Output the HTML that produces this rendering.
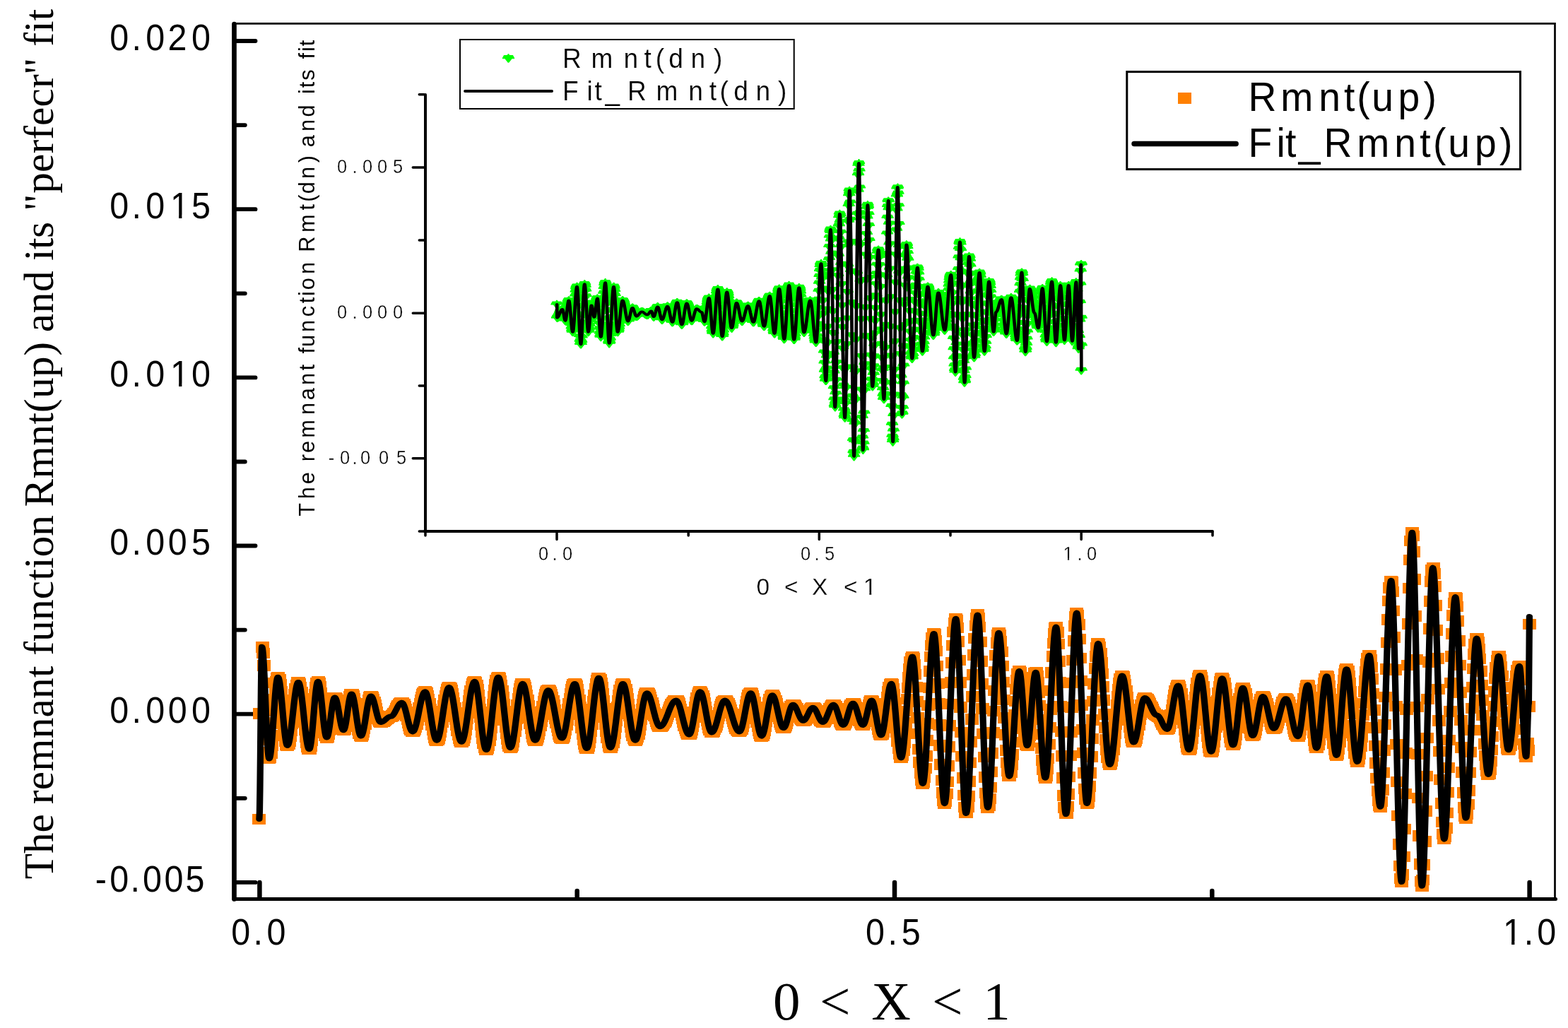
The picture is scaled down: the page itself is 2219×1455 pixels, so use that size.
<!DOCTYPE html>
<html lang="en"><head><meta charset="utf-8"><title>Remnant function Rmnt(up) and its fit</title>
<style>html,body{margin:0;padding:0;background:#fff}svg{display:block}text{fill:#000;font-kerning:none;white-space:pre}</style></head><body>
<svg width="2219" height="1455" viewBox="0 0 2219 1455" role="img" aria-label="Remnant function plot">
<rect width="2219" height="1455" fill="#fff"/>
<defs>
<marker id="mo" markerUnits="userSpaceOnUse" markerWidth="20" markerHeight="16" refX="9.5" refY="7.75" overflow="visible"><rect width="19" height="15.5" fill="#ff8000" shape-rendering="crispEdges"/></marker>
<marker id="mg" markerUnits="userSpaceOnUse" markerWidth="20" markerHeight="16" refX="0" refY="0" overflow="visible"><path d="M-0.8,-6.1H0.8L1.6,-4.3H6.4L8.6,-0.4V0.8H5L0.7,6.4H-0.7L-5,0.8H-8.6V-0.4L-6.4,-4.3H-1.6Z" fill="#00ff00"/></marker>
</defs>
<g id="main-axes" stroke="#000" fill="none" stroke-linecap="round">
<path d="M331.7,33.4 H2200.5 V1272.5" stroke-width="2.7" stroke-linecap="butt"/>
<path d="M331.45,34 V1272.5" stroke-width="6.7"/>
<path d="M331,1272.5 H2201.5" stroke-width="5"/>
<path d="M334,58 H361.5 M334,296.2 H361.5 M334,534.4 H361.5 M334,772.5 H361.5 M334,1010.7 H361.5 M334,1248.9 H361.5 M334,177.1 H346.8 M334,415.3 H346.8 M334,653.5 H346.8 M334,891.6 H346.8 M334,1129.8 H346.8" stroke-width="5.8"/>
<path d="M367.4,1270 V1249 M1266,1270 V1249 M2164.6,1270 V1249 M816.7,1270 V1261 M1715.3,1270 V1261" stroke-width="6.5"/>
</g>
<g id="main-data">
<polyline fill="none" stroke="none" marker-start="url(#mo)" marker-mid="url(#mo)" marker-end="url(#mo)" points="367.4,1010 366.9,1159.4 371,916 372.2,924.4 373.4,942.1 374.6,966.7 375.8,995 377,1023.2 378.2,1047.7 379.4,1065.2 380.6,1073.4 381.8,1072.5 383,1066.2 384.2,1055.3 385.4,1040.8 386.6,1024 387.8,1006.5 389,989.9 390.2,975.7 391.4,965.2 392.6,959.4 393.8,958.6 395,962 396.2,968.8 397.4,978.6 398.6,990.7 399.7,1004 400.9,1017.5 402.1,1030.2 403.3,1041 404.5,1049.2 405.7,1054 406.9,1055.2 408.1,1053.4 409.3,1049 410.5,1042.3 411.7,1033.8 412.9,1023.9 414.1,1013.2 415.3,1002.3 416.5,991.9 417.7,982.6 418.9,975 420.1,969.4 421.3,966.2 422.5,965.7 423.7,967.9 424.9,972.8 426.1,980 427.3,989.2 428.5,999.8 429.7,1011.1 430.9,1022.6 432.1,1033.5 433.3,1043.2 434.5,1051.1 435.7,1056.8 436.9,1059.9 438.1,1060.1 439.3,1056.2 440.5,1048.3 441.7,1037.2 442.9,1023.7 444.1,1009.2 445.3,995.1 446.5,982.5 447.7,972.7 448.9,966.5 450.1,964.5 451.3,966.6 452.5,972.1 453.7,980.5 454.9,991.2 456.1,1003 457.3,1014.9 458.5,1025.9 459.7,1034.9 460.9,1041 462.1,1043.8 463.3,1043.1 464.4,1039.3 465.6,1033 466.8,1024.8 468,1015.6 469.2,1006.3 470.4,998.1 471.6,991.8 472.8,988 474,987.3 475.2,988.9 476.4,992.5 477.6,997.8 478.8,1004.2 480,1011.2 481.2,1018.1 482.4,1024.3 483.6,1029.2 484.8,1032.4 486,1033.6 487.2,1032.4 488.4,1028.4 489.6,1022.3 490.8,1014.5 492,1006 493.2,997.7 494.4,990.6 495.6,985.3 496.8,982.4 498,982.3 499.2,984.6 500.4,989 501.6,995.2 502.8,1002.8 504,1011 505.2,1019.3 506.4,1027.1 507.6,1033.6 508.8,1038.5 510,1041.3 511.2,1041.8 512.4,1040.2 513.6,1036.7 514.8,1031.5 516,1025 517.2,1017.7 518.4,1010.1 519.6,1002.8 520.8,996.2 522,990.9 523.2,987.2 524.4,985.3 525.6,985.4 526.8,986.9 527.9,989.6 529.1,993.4 530.3,997.9 531.5,1002.8 532.7,1007.9 533.9,1012.6 535.1,1016.6 536.3,1019.7 537.5,1021.7 538.7,1022.3 539.9,1022.1 541.1,1021.7 542.3,1021 543.5,1020.2 544.7,1019.2 545.9,1018.1 547.1,1017 548.3,1016.1 549.5,1015.2 550.7,1014.6 551.9,1014.2 553.1,1014 554.3,1013.7 555.5,1012.9 556.7,1011.5 557.9,1009.7 559.1,1007.6 560.3,1005.3 561.5,1002.9 562.7,1000.6 563.9,998.5 565.1,996.8 566.3,995.5 567.5,994.7 568.7,994.4 569.9,995.2 571.1,997.1 572.3,1000.1 573.5,1003.9 574.7,1008.4 575.9,1013.3 577.1,1018.3 578.3,1023.1 579.5,1027.5 580.7,1031.1 581.9,1033.7 583.1,1035.3 584.3,1035.6 585.5,1034.7 586.7,1032.6 587.9,1029.2 589.1,1024.9 590.3,1019.7 591.5,1014 592.6,1008 593.8,1001.9 595,996.1 596.2,990.8 597.4,986.3 598.6,982.7 599.8,980.3 601,979.1 602.2,979.3 603.4,981.2 604.6,984.8 605.8,989.8 607,996.1 608.2,1003.3 609.4,1011.1 610.6,1018.9 611.8,1026.5 613,1033.4 614.2,1039.3 615.4,1043.8 616.6,1046.8 617.8,1048 619,1047.5 620.2,1045.2 621.4,1041.4 622.6,1036.1 623.8,1029.7 625,1022.4 626.2,1014.5 627.4,1006.4 628.6,998.6 629.8,991.2 631,984.8 632.2,979.5 633.4,975.6 634.6,973.4 635.8,972.8 637,974 638.2,976.9 639.4,981.5 640.6,987.3 641.8,994.3 643,1002.1 644.2,1010.3 645.4,1018.6 646.6,1026.5 647.8,1033.8 649,1040 650.2,1044.9 651.4,1048.2 652.6,1049.9 653.8,1049.8 655,1048 656.2,1044.5 657.3,1039.5 658.5,1033.1 659.7,1025.7 660.9,1017.6 662.1,1009 663.3,1000.3 664.5,992 665.7,984.2 666.9,977.5 668.1,971.9 669.3,967.8 670.5,965.3 671.7,964.5 672.9,966 674.1,969.8 675.3,975.9 676.5,983.9 677.7,993.4 678.9,1004 680.1,1015 681.3,1025.9 682.5,1036.1 683.7,1045.1 684.9,1052.5 686.1,1057.8 687.3,1060.8 688.5,1061.3 689.7,1059.3 690.9,1054.9 692.1,1048.3 693.3,1039.8 694.5,1029.9 695.7,1019 696.9,1007.6 698.1,996.4 699.3,985.8 700.5,976.4 701.7,968.6 702.9,962.8 704.1,959.4 705.3,958.4 706.5,959.8 707.7,963.6 708.9,969.5 710.1,977.3 711.3,986.6 712.5,997 713.7,1007.9 714.9,1018.8 716.1,1029.2 717.3,1038.6 718.5,1046.6 719.7,1052.7 720.8,1056.7 722,1058.3 723.2,1057.6 724.4,1054.9 725.6,1050.1 726.8,1043.6 728,1035.7 729.2,1026.7 730.4,1017 731.6,1007.2 732.8,997.6 734,988.8 735.2,981.1 736.4,974.9 737.6,970.5 738.8,968.1 740,967.7 741.2,969.3 742.4,972.6 743.6,977.4 744.8,983.7 746,991 747.2,999 748.4,1007.5 749.6,1016 750.8,1024.1 752,1031.5 753.2,1037.8 754.4,1042.8 755.6,1046.2 756.8,1047.9 758,1047.8 759.2,1046.3 760.4,1043.4 761.6,1039.2 762.8,1033.9 764,1027.7 765.2,1020.9 766.4,1013.8 767.6,1006.6 768.8,999.7 770,993.2 771.2,987.6 772.4,983 773.6,979.6 774.8,977.5 776,976.9 777.2,977.6 778.4,979.6 779.6,982.8 780.8,987 782,992.1 783.2,997.9 784.4,1004.3 785.5,1010.8 786.7,1017.4 787.9,1023.7 789.1,1029.6 790.3,1034.7 791.5,1039 792.7,1042.1 793.9,1044.2 795.1,1044.9 796.3,1044.3 797.5,1042 798.7,1038.2 799.9,1033 801.1,1026.7 802.3,1019.5 803.5,1011.7 804.7,1003.7 805.9,995.8 807.1,988.4 808.3,981.7 809.5,976.1 810.7,971.8 811.9,968.9 813.1,967.7 814.3,968.3 815.5,971.1 816.7,976 817.9,982.7 819.1,991 820.3,1000.4 821.5,1010.4 822.7,1020.6 823.9,1030.4 825.1,1039.4 826.3,1047.1 827.5,1053.2 828.7,1057.3 829.9,1059.2 831.1,1058.9 832.3,1056.2 833.5,1051.2 834.7,1044.2 835.9,1035.5 837.1,1025.6 838.3,1014.9 839.5,1003.9 840.7,993.2 841.9,983.3 843.1,974.6 844.3,967.6 845.5,962.6 846.7,959.9 847.9,959.5 849,961.7 850.2,966.4 851.4,973.2 852.6,981.9 853.8,992 855,1002.9 856.2,1014.2 857.4,1025.2 858.6,1035.3 859.8,1044.1 861,1051.1 862.2,1055.8 863.4,1058.1 864.6,1058 865.8,1055.7 867,1051.5 868.2,1045.5 869.4,1038 870.6,1029.4 871.8,1020 873,1010.3 874.2,1000.7 875.4,991.7 876.6,983.6 877.8,976.9 879,971.9 880.2,968.7 881.4,967.6 882.6,968.5 883.8,971.2 885,975.5 886.2,981.3 887.4,988.4 888.6,996.3 889.8,1004.8 891,1013.4 892.2,1021.8 893.4,1029.5 894.6,1036.2 895.8,1041.6 897,1045.5 898.2,1047.6 899.4,1047.9 900.6,1046.5 901.8,1043.4 903,1038.8 904.2,1032.9 905.4,1026.1 906.6,1018.7 907.8,1011.1 909,1003.6 910.2,996.8 911.4,990.8 912.6,986.1 913.7,982.8 914.9,981.2 916.1,981.2 917.3,982.2 918.5,984.2 919.7,987 920.9,990.5 922.1,994.6 923.3,999.1 924.5,1003.9 925.7,1008.7 926.9,1013.3 928.1,1017.6 929.3,1021.3 930.5,1024.4 931.7,1026.7 932.9,1028 934.1,1028.5 935.3,1028.2 936.5,1027.4 937.7,1026.1 938.9,1024.4 940.1,1022.2 941.3,1019.8 942.5,1017 943.7,1014.1 944.9,1011.1 946.1,1008 947.3,1005 948.5,1002.1 949.7,999.4 950.9,997 952.1,995 953.3,993.4 954.5,992.2 955.7,991.5 956.9,991.4 958.1,992 959.3,993.6 960.5,996.1 961.7,999.4 962.9,1003.4 964.1,1007.9 965.3,1012.7 966.5,1017.6 967.7,1022.4 968.9,1026.9 970.1,1031 971.3,1034.5 972.5,1037.1 973.7,1038.9 974.9,1039.7 976.1,1039.4 977.2,1037.3 978.4,1033.6 979.6,1028.5 980.8,1022.2 982,1015.2 983.2,1007.8 984.4,1000.6 985.6,993.8 986.8,988 988,983.4 989.2,980.4 990.4,979 991.6,979.4 992.8,981.3 994,984.5 995.2,988.9 996.4,994.4 997.6,1000.5 998.8,1007 1000,1013.5 1001.2,1019.8 1002.4,1025.4 1003.6,1030.2 1004.8,1033.7 1006,1035.9 1007.2,1036.7 1008.4,1036.2 1009.6,1034.9 1010.8,1032.7 1012,1029.7 1013.2,1026 1014.4,1021.9 1015.6,1017.5 1016.8,1012.9 1018,1008.4 1019.2,1004 1020.4,1000.1 1021.6,996.8 1022.8,994.2 1024,992.4 1025.2,991.5 1026.4,991.4 1027.6,992.2 1028.8,993.6 1030,995.7 1031.2,998.4 1032.4,1001.6 1033.6,1005.2 1034.8,1009.1 1036,1013.1 1037.2,1017.1 1038.4,1021 1039.6,1024.7 1040.8,1028 1041.9,1030.8 1043.1,1033 1044.3,1034.6 1045.5,1035.5 1046.7,1035.6 1047.9,1034.4 1049.1,1031.8 1050.3,1027.8 1051.5,1022.8 1052.7,1017 1053.9,1010.7 1055.1,1004.3 1056.3,998.1 1057.5,992.4 1058.7,987.7 1059.9,984 1061.1,981.8 1062.3,980.9 1063.5,981.7 1064.7,984.3 1065.9,988.5 1067.1,994 1068.3,1000.5 1069.5,1007.7 1070.7,1015 1071.9,1022.2 1073.1,1028.7 1074.3,1034.2 1075.5,1038.4 1076.7,1040.9 1077.9,1041.8 1079.1,1040.8 1080.3,1038 1081.5,1033.8 1082.7,1028.2 1083.9,1021.6 1085.1,1014.6 1086.3,1007.4 1087.5,1000.5 1088.7,994.5 1089.9,989.5 1091.1,986.1 1092.3,984.3 1093.5,984.2 1094.7,985.4 1095.9,987.9 1097.1,991.5 1098.3,995.9 1099.5,1001 1100.7,1006.4 1101.9,1011.9 1103.1,1017.1 1104.3,1021.8 1105.5,1025.6 1106.6,1028.4 1107.8,1030 1109,1030.4 1110.2,1029.4 1111.4,1027.3 1112.6,1024.1 1113.8,1020.1 1115,1015.6 1116.2,1011 1117.4,1006.6 1118.6,1002.8 1119.8,999.8 1121,998 1122.2,997.4 1123.4,997.8 1124.6,999 1125.8,1000.8 1127,1003.2 1128.2,1005.9 1129.4,1008.8 1130.6,1011.8 1131.8,1014.5 1133,1016.8 1134.2,1018.6 1135.4,1019.7 1136.6,1020.1 1137.8,1019.8 1139,1018.8 1140.2,1017.2 1141.4,1015.1 1142.6,1012.7 1143.8,1010.2 1145,1007.8 1146.2,1005.5 1147.4,1003.7 1148.6,1002.3 1149.8,1001.6 1151,1001.6 1152.2,1002.3 1153.4,1003.7 1154.6,1005.7 1155.8,1008.1 1157,1010.8 1158.2,1013.6 1159.4,1016.2 1160.6,1018.5 1161.8,1020.4 1163,1021.6 1164.2,1022.1 1165.4,1021.9 1166.6,1021 1167.8,1019.3 1169,1017.1 1170.1,1014.4 1171.3,1011.4 1172.5,1008.3 1173.7,1005.3 1174.9,1002.6 1176.1,1000.3 1177.3,998.6 1178.5,997.7 1179.7,997.4 1180.9,998.2 1182.1,1000 1183.3,1002.6 1184.5,1005.9 1185.7,1009.7 1186.9,1013.6 1188.1,1017.4 1189.3,1020.8 1190.5,1023.5 1191.7,1025.4 1192.9,1026.2 1194.1,1026 1195.3,1024.7 1196.5,1022.3 1197.7,1019.1 1198.9,1015.3 1200.1,1011.2 1201.3,1007 1202.5,1003.1 1203.7,999.8 1204.9,997.3 1206.1,995.8 1207.3,995.4 1208.5,996.1 1209.7,997.9 1210.9,1000.6 1212.1,1004 1213.3,1007.9 1214.5,1012.1 1215.7,1016.1 1216.9,1019.8 1218.1,1022.8 1219.3,1025 1220.5,1026.1 1221.7,1026.1 1222.9,1024.6 1224.1,1021.7 1225.3,1017.5 1226.5,1012.6 1227.7,1007.3 1228.9,1002.1 1230.1,997.5 1231.3,994 1232.5,991.9 1233.7,991.3 1234.8,992.5 1236,995.5 1237.2,1000.2 1238.4,1006 1239.6,1012.7 1240.8,1019.6 1242,1026.3 1243.2,1032.1 1244.4,1036.7 1245.6,1039.6 1246.8,1040.7 1248,1039.6 1249.2,1036.2 1250.4,1030.5 1251.6,1023.1 1252.8,1014.4 1254,1005 1255.2,995.5 1256.4,986.6 1257.6,978.9 1258.8,972.9 1260,969.1 1261.2,967.5 1262.4,969.1 1263.6,974.3 1264.8,983 1266,994.4 1267.2,1007.7 1268.4,1021.9 1269.6,1036 1270.8,1048.9 1272,1059.6 1273.2,1067.5 1274.4,1071.9 1275.6,1072.4 1276.8,1069.1 1278,1061.9 1279.2,1051.5 1280.4,1038.2 1281.6,1022.9 1282.8,1006.4 1284,989.7 1285.2,973.5 1286.4,958.8 1287.6,946.5 1288.8,937.1 1290,931.3 1291.2,929.3 1292.4,932.2 1293.6,940.8 1294.8,954.4 1296,972.3 1297.2,993.2 1298.3,1015.8 1299.5,1038.7 1300.7,1060.3 1301.9,1079.2 1303.1,1094.2 1304.3,1104.4 1305.5,1109 1306.7,1107.7 1307.9,1100.5 1309.1,1087.6 1310.3,1069.8 1311.5,1048.2 1312.7,1024 1313.9,998.6 1315.1,973.4 1316.3,949.9 1317.5,929.5 1318.7,913.3 1319.9,902.3 1321.1,897 1322.3,898.1 1323.5,906.4 1324.7,921.4 1325.9,942.3 1327.1,967.7 1328.3,996.1 1329.5,1025.8 1330.7,1055 1331.9,1081.8 1333.1,1104.7 1334.3,1122.2 1335.5,1133.3 1336.7,1137.3 1337.9,1134 1339.1,1123.5 1340.3,1106.5 1341.5,1083.9 1342.7,1057 1343.9,1027.2 1345.1,996.3 1346.3,966 1347.5,937.9 1348.7,913.7 1349.9,894.6 1351.1,881.8 1352.3,875.9 1353.5,877.8 1354.7,888.7 1355.9,908 1357.1,934.4 1358.3,966 1359.5,1000.9 1360.7,1036.6 1361.9,1070.7 1363,1101 1364.2,1125.4 1365.4,1142.3 1366.6,1150.6 1367.8,1150 1369,1141.9 1370.2,1126.9 1371.4,1105.8 1372.6,1079.6 1373.8,1049.9 1375,1018.1 1376.2,985.8 1377.4,955 1378.6,927 1379.8,903.5 1381,885.6 1382.2,874.3 1383.4,870.2 1384.6,874.3 1385.8,887.3 1387,908.3 1388.2,935.9 1389.4,968.2 1390.6,1003.2 1391.8,1038.3 1393,1071.4 1394.2,1100.1 1395.4,1122.5 1396.6,1137.2 1397.8,1143.1 1399,1140.5 1400.2,1130.7 1401.4,1114.3 1402.6,1092.3 1403.8,1065.9 1405,1036.8 1406.2,1006.7 1407.4,977.3 1408.6,950.4 1409.8,927.6 1411,910.2 1412.2,899.2 1413.4,895.4 1414.6,898.5 1415.8,907.8 1417,922.7 1418.2,942.3 1419.4,965.4 1420.6,990.4 1421.8,1015.9 1423,1040.2 1424.2,1061.8 1425.4,1079.3 1426.5,1091.6 1427.7,1097.9 1428.9,1098.1 1430.1,1092.8 1431.3,1082.6 1432.5,1068.2 1433.7,1050.7 1434.9,1031.3 1436.1,1011.3 1437.3,992.3 1438.5,975.6 1439.7,962.3 1440.9,953.5 1442.1,949.8 1443.3,951.5 1444.5,959 1445.7,971.3 1446.9,987.1 1448.1,1004.6 1449.3,1021.9 1450.5,1037.1 1451.7,1048.4 1452.9,1054.6 1454.1,1055.1 1455.3,1050.5 1456.5,1041.5 1457.7,1028.8 1458.9,1013.8 1460.1,997.7 1461.3,982.3 1462.5,968.8 1463.7,958.7 1464.9,952.8 1466.1,951.8 1467.3,956.3 1468.5,966.1 1469.7,980.6 1470.9,998.6 1472.1,1018.7 1473.3,1039.4 1474.5,1059.1 1475.7,1076.2 1476.9,1089.6 1478.1,1098.1 1479.3,1101.1 1480.5,1098 1481.7,1088.5 1482.9,1073.3 1484.1,1053.3 1485.3,1029.6 1486.5,1003.8 1487.7,977.4 1488.9,952 1490.1,929.2 1491.2,910.3 1492.4,896.6 1493.6,888.9 1494.8,887.7 1496,895.2 1497.2,911.7 1498.4,935.9 1499.6,966.1 1500.8,1000.2 1502,1035.7 1503.2,1070.1 1504.4,1100.8 1505.6,1125.8 1506.8,1143.2 1508,1151.7 1509.2,1151 1510.4,1141.5 1511.6,1124 1512.8,1099.6 1514,1069.7 1515.2,1036.1 1516.4,1000.9 1517.6,966.3 1518.8,934.4 1520,907 1521.2,886 1522.4,872.5 1523.6,867.4 1524.8,871.2 1526,883.8 1527.2,904.3 1528.4,931.4 1529.6,963.3 1530.8,997.8 1532,1032.6 1533.2,1065.3 1534.4,1093.9 1535.6,1116.3 1536.8,1131.1 1538,1137.2 1539.2,1135.2 1540.4,1126.9 1541.6,1112.9 1542.8,1093.9 1544,1071.1 1545.2,1045.6 1546.4,1018.9 1547.6,992.4 1548.8,967.8 1550,946.2 1551.2,929 1552.4,917.2 1553.6,911.2 1554.8,911.3 1555.9,916.1 1557.1,925.1 1558.3,937.8 1559.5,953.7 1560.7,971.8 1561.9,991.2 1563.1,1010.9 1564.3,1029.8 1565.5,1047 1566.7,1061.5 1567.9,1072.6 1569.1,1079.7 1570.3,1082.4 1571.5,1081.2 1572.7,1077.2 1573.9,1070.5 1575.1,1061.5 1576.3,1050.5 1577.5,1038.1 1578.7,1024.8 1579.9,1011.3 1581.1,998.2 1582.3,986 1583.5,975.3 1584.7,966.7 1585.9,960.5 1587.1,957 1588.3,956.3 1589.5,958.2 1590.7,962.5 1591.9,969 1593.1,977.3 1594.3,987 1595.5,997.5 1596.7,1008.4 1597.9,1019 1599.1,1028.8 1600.3,1037.3 1601.5,1043.9 1602.7,1048.5 1603.9,1050.7 1605.1,1050.5 1606.3,1048.5 1607.5,1044.8 1608.7,1039.6 1609.9,1033.3 1611.1,1026.2 1612.3,1018.6 1613.5,1011.1 1614.7,1004.1 1615.9,998 1617.1,993 1618.3,989.6 1619.4,987.9 1620.6,987.8 1621.8,988.5 1623,989.6 1624.2,991.3 1625.4,993.4 1626.6,995.9 1627.8,998.5 1629,1001.2 1630.2,1003.8 1631.4,1006.3 1632.6,1008.4 1633.8,1010.2 1635,1011.4 1636.2,1012.1 1637.4,1012.3 1638.6,1012.8 1639.8,1014 1641,1015.6 1642.2,1017.7 1643.4,1020.1 1644.6,1022.7 1645.8,1025.1 1647,1027.5 1648.2,1029.4 1649.4,1030.9 1650.6,1031.8 1651.8,1032.1 1653,1031.2 1654.2,1028.5 1655.4,1024.3 1656.6,1018.7 1657.8,1012.2 1659,1005 1660.2,997.5 1661.4,990.3 1662.6,983.7 1663.8,978.1 1665,973.9 1666.2,971.2 1667.4,970.2 1668.6,971.5 1669.8,975.5 1671,981.9 1672.2,990.4 1673.4,1000.5 1674.6,1011.5 1675.8,1022.8 1677,1033.6 1678.2,1043.3 1679.4,1051.4 1680.6,1057.3 1681.8,1060.6 1683,1061.2 1684.1,1058.8 1685.3,1053.5 1686.5,1045.6 1687.7,1035.4 1688.9,1023.8 1690.1,1011.2 1691.3,998.5 1692.5,986.3 1693.7,975.5 1694.9,966.6 1696.1,960.2 1697.3,956.6 1698.5,956 1699.7,958.5 1700.9,963.9 1702.1,971.8 1703.3,981.9 1704.5,993.5 1705.7,1006.1 1706.9,1018.9 1708.1,1031.1 1709.3,1042.3 1710.5,1051.6 1711.7,1058.5 1712.9,1062.8 1714.1,1064.1 1715.3,1062.4 1716.5,1057.7 1717.7,1050.3 1718.9,1040.6 1720.1,1029.3 1721.3,1016.9 1722.5,1004.3 1723.7,992.1 1724.9,981.1 1726.1,971.9 1727.3,965.1 1728.5,961.1 1729.7,960 1730.9,961.9 1732.1,966.4 1733.3,973.4 1734.5,982.3 1735.7,992.8 1736.9,1004.1 1738.1,1015.6 1739.3,1026.6 1740.5,1036.5 1741.7,1044.6 1742.9,1050.6 1744.1,1054.1 1745.3,1054.7 1746.5,1052.5 1747.6,1047.4 1748.8,1039.9 1750,1030.4 1751.2,1019.8 1752.4,1008.7 1753.6,998 1754.8,988.6 1756,981 1757.2,975.8 1758.4,973.5 1759.6,974 1760.8,977 1762,982.1 1763.2,989 1764.4,997.3 1765.6,1006.3 1766.8,1015.3 1768,1023.8 1769.2,1031.1 1770.4,1036.8 1771.6,1040.3 1772.8,1041.4 1774,1040.5 1775.2,1037.7 1776.4,1033.2 1777.6,1027.5 1778.8,1020.8 1780,1013.6 1781.2,1006.4 1782.4,999.7 1783.6,994 1784.8,989.6 1786,986.8 1787.2,985.8 1788.4,986.4 1789.6,988.3 1790.8,991.5 1792,995.6 1793.2,1000.5 1794.4,1005.8 1795.6,1011.3 1796.8,1016.7 1798,1021.5 1799.2,1025.6 1800.4,1028.7 1801.6,1030.6 1802.8,1031.1 1804,1030.6 1805.2,1029 1806.4,1026.5 1807.6,1023.2 1808.8,1019.3 1810,1014.9 1811.2,1010.3 1812.3,1005.7 1813.5,1001.3 1814.7,997.3 1815.9,993.9 1817.1,991.3 1818.3,989.6 1819.5,988.9 1820.7,989.3 1821.9,991 1823.1,993.9 1824.3,997.8 1825.5,1002.7 1826.7,1008.2 1827.9,1014.1 1829.1,1020 1830.3,1025.7 1831.5,1031 1832.7,1035.5 1833.9,1039 1835.1,1041.3 1836.3,1042.4 1837.5,1041.9 1838.7,1038.8 1839.9,1033.4 1841.1,1026.1 1842.3,1017.2 1843.5,1007.6 1844.7,997.8 1845.9,988.7 1847.1,980.7 1848.3,974.6 1849.5,970.7 1850.7,969.3 1851.9,971.2 1853.1,977.1 1854.3,986.4 1855.5,998.2 1856.7,1011.5 1857.9,1025.1 1859.1,1037.6 1860.3,1048 1861.5,1055.2 1862.7,1058.7 1863.9,1058.2 1865.1,1054.3 1866.3,1047.3 1867.5,1037.6 1868.7,1025.9 1869.9,1012.9 1871.1,999.7 1872.3,987 1873.5,975.7 1874.7,966.6 1875.8,960.3 1877,957.2 1878.2,957.7 1879.4,962.2 1880.6,970.4 1881.8,981.9 1883,995.6 1884.2,1010.6 1885.4,1025.8 1886.6,1040 1887.8,1052.3 1889,1061.7 1890.2,1067.5 1891.4,1069.3 1892.6,1066.8 1893.8,1060.3 1895,1050.2 1896.2,1037.1 1897.4,1022 1898.6,1005.9 1899.8,990 1901,975.3 1902.2,963 1903.4,953.7 1904.6,948.3 1905.8,947 1907,949.8 1908.2,956.4 1909.4,966.4 1910.6,979.2 1911.8,994.1 1913,1010.1 1914.2,1026.3 1915.4,1041.6 1916.6,1055.1 1917.8,1066.1 1919,1073.8 1920.2,1077.8 1921.4,1077.8 1922.6,1074.1 1923.8,1066.9 1925,1056.5 1926.2,1043.5 1927.4,1028.4 1928.6,1012.1 1929.8,995.3 1931,978.9 1932.2,963.7 1933.4,950.4 1934.6,939.7 1935.8,932.1 1937,928.1 1938.2,927.9 1939.4,933.4 1940.5,944.6 1941.7,960.9 1942.9,981.4 1944.1,1005 1945.3,1030.2 1946.5,1055.7 1947.7,1080 1948.9,1101.7 1950.1,1119.6 1951.3,1132.8 1952.5,1140.4 1953.7,1141.8 1954.9,1134.7 1956.1,1118.2 1957.3,1093.4 1958.5,1061.8 1959.7,1025.4 1960.9,986.3 1962.1,946.9 1963.3,909.7 1964.5,876.9 1965.7,850.4 1966.9,832 1968.1,822.7 1969.3,823.6 1970.5,837.7 1971.7,864.4 1972.9,902 1974.1,948.1 1975.3,999.7 1976.5,1053.6 1977.7,1106.4 1978.9,1154.5 1980.1,1195.1 1981.3,1225.4 1982.5,1243.5 1983.7,1248.3 1984.9,1238 1986.1,1212.6 1987.3,1173.6 1988.5,1123.6 1989.7,1065.8 1990.9,1003.8 1992.1,941.6 1993.3,883.2 1994.5,832.4 1995.7,792.3 1996.9,765.5 1998.1,753.8 1999.3,758.6 2000.5,781.2 2001.7,819.9 2002.9,871.9 2004.1,933.6 2005.2,1000.4 2006.4,1067.4 2007.6,1129.7 2008.8,1182.9 2010,1223.1 2011.2,1247.3 2012.4,1253.9 2013.6,1245.3 2014.8,1223.8 2016,1190.8 2017.2,1148.1 2018.4,1098.3 2019.6,1044.4 2020.8,989.5 2022,937 2023.2,890 2024.4,851.2 2025.6,822.9 2026.8,806.9 2028,803.9 2029.2,812.1 2030.4,830.2 2031.6,857.2 2032.8,891.8 2034,931.9 2035.2,975.5 2036.4,1020.2 2037.6,1063.6 2038.8,1103.3 2040,1137.1 2041.2,1163.3 2042.4,1180.5 2043.6,1187.6 2044.8,1184.5 2046,1172 2047.2,1150.5 2048.4,1121.5 2049.6,1086.5 2050.8,1047.6 2052,1006.8 2053.2,966.6 2054.4,929.2 2055.6,896.8 2056.8,871.1 2058,853.7 2059.2,845.4 2060.4,847 2061.6,858.3 2062.8,878.9 2064,907.2 2065.2,941.6 2066.4,979.9 2067.6,1019.5 2068.7,1057.9 2069.9,1092.8 2071.1,1121.8 2072.3,1143.1 2073.5,1155.3 2074.7,1157.8 2075.9,1151.9 2077.1,1138.7 2078.3,1118.9 2079.5,1093.7 2080.7,1064.6 2081.9,1033.5 2083.1,1002.3 2084.3,972.7 2085.5,946.7 2086.7,925.8 2087.9,911.3 2089.1,904.1 2090.3,904.1 2091.5,909.2 2092.7,918.9 2093.9,932.7 2095.1,949.9 2096.3,969.6 2097.5,990.9 2098.7,1012.6 2099.9,1033.6 2101.1,1053 2102.3,1069.6 2103.5,1082.7 2104.7,1091.7 2105.9,1095.9 2107.1,1095.2 2108.3,1088.9 2109.5,1077.5 2110.7,1061.7 2111.9,1042.6 2113.1,1021.5 2114.3,999.7 2115.5,978.8 2116.7,960.1 2117.9,945 2119.1,934.3 2120.3,928.9 2121.5,929.1 2122.7,934 2123.9,943.5 2125.1,956.6 2126.3,972.6 2127.5,990.1 2128.7,1008.1 2129.9,1025 2131.1,1039.8 2132.3,1051.4 2133.4,1058.8 2134.6,1061.6 2135.8,1060.1 2137,1055.1 2138.2,1047 2139.4,1036.3 2140.6,1023.5 2141.8,1009.4 2143,994.9 2144.2,980.8 2145.4,968 2146.6,957.2 2147.8,949.1 2149,944.2 2150.2,942.7 2151.4,948.1 2152.6,962.5 2153.8,983.5 2155,1008 2156.2,1032.4 2157.4,1052.9 2158.6,1066.6 2159.8,1071.2 2161,1051.8 2162.5,1062 2163.6,1000 2164.4,883.3"/>
<polyline transform="scale(1.25,1)" fill="none" stroke="#000" stroke-width="7.4" stroke-linejoin="round" stroke-linecap="round" points="293.53,1159.4 293.93,1148.6 294.33,1118.2 294.73,1073.6 295.13,1022.6 295.53,974.2 295.93,936.9 296.33,917.4 296.49,915.5 296.73,915.8 297.13,917.7 297.53,921.5 297.93,926.9 298.33,934 298.73,942.4 299.13,952 299.53,962.6 299.93,974 300.33,985.8 300.73,997.9 301.13,1009.8 301.53,1021.5 301.93,1032.5 302.33,1042.6 302.73,1051.6 303.13,1059.3 303.53,1065.5 303.93,1070 304.33,1072.8 304.73,1073.8 304.74,1073.8 305.13,1073.4 305.53,1072 305.93,1069.8 306.33,1066.7 306.73,1062.7 307.13,1058.1 307.53,1052.7 307.93,1046.8 308.33,1040.3 308.73,1033.5 309.13,1026.4 309.53,1019.1 309.93,1011.8 310.33,1004.5 310.73,997.5 311.13,990.7 311.53,984.3 311.93,978.5 312.33,973.2 312.73,968.7 313.13,964.9 313.53,961.9 313.93,959.8 314.33,958.6 314.64,958.4 314.73,958.4 315.13,958.8 315.53,960 315.93,961.8 316.33,964.1 316.73,967.1 317.13,970.7 317.53,974.7 317.93,979.1 318.33,984 318.73,989.1 319.13,994.5 319.53,1000.1 319.93,1005.8 320.33,1011.4 320.73,1017 321.13,1022.5 321.53,1027.8 321.93,1032.7 322.33,1037.3 322.73,1041.5 323.13,1045.2 323.53,1048.4 323.93,1051 324.33,1053 324.73,1054.4 325.13,1055.1 325.36,1055.3 325.53,1055.2 325.93,1054.8 326.33,1053.9 326.73,1052.6 327.13,1050.8 327.53,1048.6 327.93,1046.1 328.33,1043.1 328.73,1039.9 329.13,1036.3 329.53,1032.4 329.93,1028.4 330.33,1024.1 330.73,1019.7 331.13,1015.2 331.53,1010.6 331.93,1006.1 332.33,1001.6 332.73,997.2 333.13,992.9 333.53,988.8 333.93,984.9 334.33,981.3 334.73,978 335.13,975 335.53,972.4 335.93,970.2 336.33,968.4 336.73,967 337.13,966.1 337.53,965.6 337.73,965.6 337.93,965.6 338.33,966.1 338.73,967.1 339.13,968.5 339.53,970.4 339.93,972.7 340.33,975.5 340.73,978.6 341.13,982.1 341.53,985.9 341.93,990 342.33,994.3 342.73,998.9 343.13,1003.5 343.53,1008.3 343.93,1013.1 344.33,1017.9 344.73,1022.7 345.13,1027.3 345.53,1031.8 345.93,1036.1 346.33,1040.2 346.73,1044 347.13,1047.5 347.53,1050.6 347.93,1053.3 348.33,1055.7 348.73,1057.5 349.13,1059 349.53,1059.9 349.93,1060.4 350.10,1060.4 350.33,1060.3 350.73,1059.5 351.13,1057.9 351.53,1055.6 351.93,1052.6 352.33,1049 352.73,1044.7 353.13,1040 353.53,1034.8 353.93,1029.2 354.33,1023.4 354.73,1017.4 355.13,1011.3 355.53,1005.3 355.93,999.3 356.33,993.6 356.73,988.2 357.13,983.1 357.53,978.6 357.93,974.6 358.33,971.1 358.73,968.4 359.13,966.4 359.53,965.1 359.93,964.5 360.00,964.5 360.33,964.7 360.73,965.6 361.13,967 361.53,969.1 361.93,971.7 362.33,974.9 362.73,978.5 363.13,982.5 363.53,986.9 363.93,991.6 364.33,996.4 364.73,1001.4 365.13,1006.5 365.53,1011.5 365.93,1016.3 366.33,1021 366.73,1025.5 367.13,1029.5 367.53,1033.2 367.93,1036.4 368.33,1039.1 368.73,1041.2 369.13,1042.7 369.53,1043.6 369.90,1043.9 369.93,1043.9 370.33,1043.6 370.73,1042.8 371.13,1041.4 371.53,1039.5 371.93,1037.2 372.33,1034.5 372.73,1031.4 373.13,1028 373.53,1024.3 373.93,1020.5 374.33,1016.6 374.73,1012.7 375.13,1008.8 375.53,1005.1 375.93,1001.6 376.33,998.3 376.73,995.3 377.13,992.8 377.53,990.7 377.93,989 378.33,987.9 378.73,987.3 378.97,987.2 379.13,987.2 379.53,987.6 379.93,988.3 380.33,989.3 380.73,990.7 381.13,992.4 381.53,994.4 381.93,996.7 382.33,999.2 382.73,1001.8 383.13,1004.6 383.53,1007.5 383.93,1010.5 384.33,1013.4 384.73,1016.3 385.13,1019.1 385.53,1021.7 385.93,1024.2 386.33,1026.5 386.73,1028.5 387.13,1030.2 387.53,1031.5 387.93,1032.6 388.33,1033.3 388.73,1033.6 388.87,1033.6 389.13,1033.5 389.53,1032.9 389.93,1031.9 390.33,1030.4 390.73,1028.4 391.13,1026.1 391.53,1023.4 391.93,1020.4 392.33,1017.2 392.73,1013.8 393.13,1010.3 393.53,1006.7 393.93,1003.2 394.33,999.7 394.73,996.4 395.13,993.3 395.53,990.5 395.93,988.1 396.33,986 396.73,984.3 397.13,983.1 397.53,982.3 397.93,982.1 397.94,982.1 398.33,982.3 398.73,982.9 399.13,983.9 399.53,985.2 399.93,987 400.33,989.1 400.73,991.5 401.13,994.2 401.53,997.1 401.93,1000.3 402.33,1003.5 402.73,1007 403.13,1010.4 403.53,1013.9 403.93,1017.4 404.33,1020.8 404.73,1024.1 405.13,1027.2 405.53,1030.1 405.93,1032.8 406.33,1035.1 406.73,1037.2 407.13,1038.9 407.53,1040.2 407.93,1041.2 408.33,1041.7 408.66,1041.9 408.73,1041.9 409.13,1041.6 409.53,1041 409.93,1040.1 410.33,1038.8 410.73,1037.2 411.13,1035.4 411.53,1033.2 411.93,1030.8 412.33,1028.2 412.73,1025.4 413.13,1022.4 413.53,1019.4 413.93,1016.2 414.33,1013 414.73,1009.9 415.13,1006.8 415.53,1003.7 415.93,1000.8 416.33,998.1 416.73,995.5 417.13,993.2 417.53,991.1 417.93,989.3 418.33,987.8 418.73,986.6 419.13,985.8 419.53,985.3 419.88,985.2 419.93,985.2 420.33,985.3 420.73,985.7 421.13,986.3 421.53,987.2 421.93,988.2 422.33,989.5 422.73,990.9 423.13,992.5 423.53,994.3 423.93,996.2 424.33,998.1 424.73,1000.2 425.13,1002.3 425.53,1004.4 425.93,1006.5 426.33,1008.5 426.73,1010.5 427.13,1012.4 427.53,1014.2 427.93,1015.9 428.33,1017.4 428.73,1018.7 429.13,1019.9 429.53,1020.8 429.93,1021.5 430.33,1022 430.73,1022.2 430.93,1022.3 431.13,1022.3 431.53,1022.2 431.93,1022.1 432.33,1022 432.73,1021.8 433.13,1021.6 433.53,1021.3 433.93,1021 434.33,1020.6 434.73,1020.3 435.13,1019.9 435.53,1019.4 435.93,1019 436.33,1018.6 436.73,1018.1 437.13,1017.7 437.53,1017.2 437.93,1016.8 438.33,1016.4 438.73,1016 439.13,1015.6 439.53,1015.3 439.93,1015 440.33,1014.7 440.73,1014.5 441.13,1014.3 441.53,1014.2 441.93,1014.1 442.33,1014 442.47,1014 442.73,1014 443.13,1013.9 443.53,1013.7 443.93,1013.4 444.33,1013 444.73,1012.5 445.13,1011.9 445.53,1011.2 445.93,1010.5 446.33,1009.7 446.73,1008.8 447.13,1007.9 447.53,1007 447.93,1006 448.33,1005.1 448.73,1004.1 449.13,1003.1 449.53,1002.1 449.93,1001.1 450.33,1000.2 450.73,999.3 451.13,998.5 451.53,997.7 451.93,997 452.33,996.4 452.73,995.8 453.13,995.4 453.53,995 453.93,994.7 454.33,994.5 454.73,994.4 454.85,994.4 455.13,994.5 455.53,994.7 455.93,995.2 456.33,995.9 456.73,996.7 457.13,997.8 457.53,999 457.93,1000.4 458.33,1002 458.73,1003.7 459.13,1005.5 459.53,1007.4 459.93,1009.3 460.33,1011.4 460.73,1013.5 461.13,1015.5 461.53,1017.6 461.93,1019.7 462.33,1021.7 462.73,1023.7 463.13,1025.5 463.53,1027.3 463.93,1028.9 464.33,1030.4 464.73,1031.7 465.13,1032.8 465.53,1033.8 465.93,1034.6 466.33,1035.1 466.73,1035.5 467.13,1035.7 467.22,1035.7 467.53,1035.6 467.93,1035.3 468.33,1034.8 468.73,1034.1 469.13,1033.1 469.53,1032 469.93,1030.6 470.33,1029.1 470.73,1027.3 471.13,1025.5 471.53,1023.4 471.93,1021.3 472.33,1019 472.73,1016.7 473.13,1014.2 473.53,1011.8 473.93,1009.2 474.33,1006.7 474.73,1004.2 475.13,1001.6 475.53,999.2 475.93,996.8 476.33,994.5 476.73,992.3 477.13,990.2 477.53,988.2 477.93,986.4 478.33,984.8 478.73,983.3 479.13,982.1 479.53,981 479.93,980.2 480.33,979.6 480.73,979.2 481.13,979 481.24,979 481.53,979.1 481.93,979.4 482.33,980.1 482.73,981.1 483.13,982.4 483.53,984 483.93,985.8 484.33,987.9 484.73,990.2 485.13,992.7 485.53,995.5 485.93,998.3 486.33,1001.4 486.73,1004.5 487.13,1007.7 487.53,1011 487.93,1014.3 488.33,1017.5 488.73,1020.8 489.13,1024 489.53,1027 489.93,1030 490.33,1032.8 490.73,1035.4 491.13,1037.9 491.53,1040.1 491.93,1042.1 492.33,1043.8 492.73,1045.2 493.13,1046.4 493.53,1047.2 493.93,1047.8 494.33,1048 494.43,1048 494.73,1048 495.13,1047.6 495.53,1046.9 495.93,1046 496.33,1044.7 496.73,1043.2 497.13,1041.4 497.53,1039.4 497.93,1037.1 498.33,1034.6 498.73,1031.9 499.13,1029.1 499.53,1026.1 499.93,1023 500.33,1019.7 500.73,1016.4 501.13,1013.1 501.53,1009.7 501.93,1006.4 502.33,1003 502.73,999.7 503.13,996.6 503.53,993.5 503.93,990.5 504.33,987.8 504.73,985.2 505.13,982.8 505.53,980.6 505.93,978.7 506.33,977 506.73,975.6 507.13,974.4 507.53,973.6 507.93,973 508.33,972.8 508.45,972.8 508.73,972.9 509.13,973.2 509.53,973.9 509.93,974.9 510.33,976.1 510.73,977.7 511.13,979.5 511.53,981.6 511.93,983.9 512.33,986.4 512.73,989.2 513.13,992.1 513.53,995.2 513.93,998.4 514.33,1001.7 514.73,1005.1 515.13,1008.5 515.53,1012 515.93,1015.4 516.33,1018.9 516.73,1022.2 517.13,1025.5 517.53,1028.7 517.93,1031.7 518.33,1034.6 518.73,1037.2 519.13,1039.7 519.53,1042 519.93,1044 520.33,1045.7 520.73,1047.2 521.13,1048.4 521.53,1049.2 521.93,1049.8 522.33,1050.1 522.47,1050.1 522.73,1050 523.13,1049.7 523.53,1049 523.93,1048.1 524.33,1046.9 524.73,1045.3 525.13,1043.5 525.53,1041.5 525.93,1039.2 526.33,1036.7 526.73,1033.9 527.13,1031 527.53,1027.9 527.93,1024.7 528.33,1021.3 528.73,1017.8 529.13,1014.3 529.53,1010.7 529.93,1007.1 530.33,1003.4 530.73,999.9 531.13,996.3 531.53,992.9 531.93,989.5 532.33,986.3 532.73,983.2 533.13,980.3 533.53,977.6 533.93,975.1 534.33,972.8 534.73,970.8 535.13,969.1 535.53,967.6 535.93,966.4 536.33,965.5 536.73,964.9 537.13,964.6 537.32,964.5 537.53,964.6 537.93,965 538.33,965.9 538.73,967.2 539.13,968.9 539.53,971.1 539.93,973.6 540.33,976.4 540.73,979.6 541.13,983.1 541.53,986.9 541.93,990.9 542.33,995.1 542.73,999.4 543.13,1003.9 543.53,1008.5 543.93,1013.1 544.33,1017.7 544.73,1022.3 545.13,1026.7 545.53,1031.1 545.93,1035.3 546.33,1039.3 546.73,1043 547.13,1046.5 547.53,1049.7 547.93,1052.5 548.33,1055 548.73,1057.1 549.13,1058.8 549.53,1060.1 549.93,1061 550.33,1061.4 550.52,1061.4 550.73,1061.4 551.13,1060.9 551.53,1060 551.93,1058.7 552.33,1057 552.73,1054.9 553.13,1052.4 553.53,1049.5 553.93,1046.3 554.33,1042.8 554.73,1039 555.13,1034.9 555.53,1030.6 555.93,1026.2 556.33,1021.6 556.73,1016.9 557.13,1012.2 557.53,1007.4 557.93,1002.7 558.33,998 558.73,993.5 559.13,989 559.53,984.8 559.93,980.7 560.33,976.9 560.73,973.4 561.13,970.2 561.53,967.3 561.93,964.8 562.33,962.7 562.73,961 563.13,959.7 563.53,958.8 563.93,958.4 564.12,958.4 564.33,958.4 564.73,958.8 565.13,959.7 565.53,960.9 565.93,962.6 566.33,964.6 566.73,967 567.13,969.8 567.53,972.8 567.93,976.2 568.33,979.8 568.73,983.7 569.13,987.8 569.53,992.1 569.93,996.5 570.33,1001 570.73,1005.6 571.13,1010.1 571.53,1014.7 571.93,1019.2 572.33,1023.7 572.73,1028 573.13,1032.1 573.53,1036 573.93,1039.7 574.33,1043.2 574.73,1046.3 575.13,1049.1 575.53,1051.6 575.93,1053.7 576.33,1055.5 576.73,1056.8 577.13,1057.7 577.53,1058.2 577.81,1058.4 577.93,1058.3 578.33,1058 578.73,1057.4 579.13,1056.4 579.53,1055 579.93,1053.3 580.33,1051.2 580.73,1048.8 581.13,1046.2 581.53,1043.2 581.93,1040 582.33,1036.6 582.73,1033 583.13,1029.2 583.53,1025.3 583.93,1021.3 584.33,1017.3 584.73,1013.2 585.13,1009.1 585.53,1005 585.93,1001 586.33,997.1 586.73,993.3 587.13,989.7 587.53,986.2 587.93,983 588.33,980.1 588.73,977.4 589.13,975 589.53,972.9 589.93,971.1 590.33,969.7 590.73,968.7 591.13,968 591.53,967.7 591.67,967.6 591.93,967.7 592.33,968.1 592.73,968.7 593.13,969.7 593.53,971 593.93,972.5 594.33,974.4 594.73,976.5 595.13,978.8 595.53,981.4 595.93,984.2 596.33,987.2 596.73,990.3 597.13,993.6 597.53,997 597.93,1000.4 598.33,1003.9 598.73,1007.5 599.13,1011.1 599.53,1014.6 599.93,1018.1 600.33,1021.5 600.73,1024.8 601.13,1027.9 601.53,1030.9 601.93,1033.8 602.33,1036.4 602.73,1038.8 603.13,1040.9 603.53,1042.8 603.93,1044.4 604.33,1045.8 604.73,1046.8 605.13,1047.5 605.53,1047.9 605.86,1048 605.93,1048 606.33,1047.9 606.73,1047.4 607.13,1046.8 607.53,1045.8 607.93,1044.7 608.33,1043.3 608.73,1041.7 609.13,1039.9 609.53,1037.8 609.93,1035.6 610.33,1033.3 610.73,1030.8 611.13,1028.1 611.53,1025.4 611.93,1022.5 612.33,1019.6 612.73,1016.6 613.13,1013.6 613.53,1010.6 613.93,1007.6 614.33,1004.7 614.73,1001.7 615.13,998.9 615.53,996.2 615.93,993.6 616.33,991.1 616.73,988.8 617.13,986.6 617.53,984.6 617.93,982.9 618.33,981.3 618.73,980 619.13,978.9 619.53,978 619.93,977.4 620.33,977 620.70,976.9 620.73,976.9 621.13,977 621.53,977.4 621.93,977.9 622.33,978.7 622.73,979.7 623.13,980.9 623.53,982.3 623.93,983.9 624.33,985.7 624.73,987.6 625.13,989.7 625.53,991.9 625.93,994.3 626.33,996.7 626.73,999.3 627.13,1001.9 627.53,1004.6 627.93,1007.3 628.33,1010 628.73,1012.8 629.13,1015.5 629.53,1018.3 629.93,1020.9 630.33,1023.5 630.73,1026 631.13,1028.5 631.53,1030.8 631.93,1032.9 632.33,1035 632.73,1036.8 633.13,1038.5 633.53,1040.1 633.93,1041.4 634.33,1042.5 634.73,1043.4 635.13,1044.1 635.53,1044.6 635.93,1044.9 636.21,1044.9 636.33,1044.9 636.73,1044.7 637.13,1044.2 637.53,1043.4 637.93,1042.3 638.33,1041 638.73,1039.3 639.13,1037.5 639.53,1035.4 639.93,1033.1 640.33,1030.6 640.73,1027.9 641.13,1025 641.53,1022 641.93,1018.9 642.33,1015.7 642.73,1012.4 643.13,1009.1 643.53,1005.8 643.93,1002.4 644.33,999.1 644.73,995.9 645.13,992.7 645.53,989.6 645.93,986.7 646.33,983.8 646.73,981.2 647.13,978.8 647.53,976.5 647.93,974.5 648.33,972.7 648.73,971.2 649.13,969.9 649.53,968.9 649.93,968.2 650.33,967.8 650.72,967.6 650.73,967.6 651.13,967.8 651.53,968.4 651.93,969.4 652.33,970.8 652.73,972.5 653.13,974.6 653.53,977 653.93,979.8 654.33,982.8 654.73,986.1 655.13,989.6 655.53,993.3 655.93,997.3 656.33,1001.3 656.73,1005.5 657.13,1009.7 657.53,1013.9 657.93,1018.2 658.33,1022.4 658.73,1026.5 659.13,1030.6 659.53,1034.4 659.93,1038.1 660.33,1041.6 660.73,1044.9 661.13,1047.8 661.53,1050.5 661.93,1052.9 662.33,1054.9 662.73,1056.5 663.13,1057.8 663.53,1058.7 663.93,1059.3 664.25,1059.4 664.33,1059.4 664.73,1059.1 665.13,1058.4 665.53,1057.2 665.93,1055.7 666.33,1053.8 666.73,1051.5 667.13,1048.9 667.53,1045.9 667.93,1042.6 668.33,1039 668.73,1035.2 669.13,1031.2 669.53,1027 669.93,1022.6 670.33,1018.1 670.73,1013.6 671.13,1009 671.53,1004.4 671.93,999.9 672.33,995.4 672.73,991.1 673.13,986.9 673.53,982.9 673.93,979.1 674.33,975.6 674.73,972.4 675.13,969.4 675.53,966.8 675.93,964.6 676.33,962.8 676.73,961.3 677.13,960.2 677.53,959.6 677.93,959.4 677.94,959.4 678.33,959.6 678.73,960.2 679.13,961.3 679.53,962.9 679.93,964.8 680.33,967.2 680.73,969.9 681.13,973 681.53,976.4 681.93,980.1 682.33,984 682.73,988.2 683.13,992.6 683.53,997.1 683.93,1001.7 684.33,1006.4 684.73,1011.1 685.13,1015.8 685.53,1020.4 685.93,1024.9 686.33,1029.3 686.73,1033.5 687.13,1037.5 687.53,1041.2 687.93,1044.6 688.33,1047.7 688.73,1050.4 689.13,1052.8 689.53,1054.8 689.93,1056.3 690.33,1057.4 690.73,1058.1 691.13,1058.4 691.13,1058.4 691.53,1058.2 691.93,1057.6 692.33,1056.7 692.73,1055.5 693.13,1053.9 693.53,1052 693.93,1049.8 694.33,1047.2 694.73,1044.4 695.13,1041.4 695.53,1038.1 695.93,1034.6 696.33,1031 696.73,1027.2 697.13,1023.3 697.53,1019.3 697.93,1015.2 698.33,1011.1 698.73,1007.1 699.13,1003.1 699.53,999.2 699.93,995.4 700.33,991.7 700.73,988.2 701.13,984.9 701.53,981.8 701.93,979 702.33,976.4 702.73,974.2 703.13,972.2 703.53,970.6 703.93,969.3 704.33,968.4 704.73,967.8 705.13,967.6 705.15,967.6 705.53,967.8 705.93,968.2 706.33,969 706.73,970.1 707.13,971.5 707.53,973.2 707.93,975.1 708.33,977.4 708.73,979.8 709.13,982.5 709.53,985.4 709.93,988.5 710.33,991.7 710.73,995.1 711.13,998.6 711.53,1002.1 711.93,1005.7 712.33,1009.3 712.73,1012.9 713.13,1016.4 713.53,1019.9 713.93,1023.3 714.33,1026.6 714.73,1029.7 715.13,1032.6 715.53,1035.3 715.93,1037.8 716.33,1040.1 716.73,1042.1 717.13,1043.9 717.53,1045.3 717.93,1046.5 718.33,1047.3 718.73,1047.8 719.13,1048 719.18,1048 719.53,1047.9 719.93,1047.5 720.33,1046.8 720.73,1045.8 721.13,1044.5 721.53,1042.9 721.93,1041.1 722.33,1039.1 722.73,1036.8 723.13,1034.3 723.53,1031.6 723.93,1028.8 724.33,1025.9 724.73,1022.8 725.13,1019.7 725.53,1016.5 725.93,1013.3 726.33,1010.1 726.73,1007 727.13,1003.9 727.53,1001 727.93,998.1 728.33,995.4 728.73,992.9 729.13,990.5 729.53,988.4 729.93,986.6 730.33,984.9 730.73,983.6 731.13,982.5 731.53,981.7 731.93,981.2 732.33,981 732.37,981 732.73,981.1 733.13,981.3 733.53,981.7 733.93,982.3 734.33,983 734.73,983.9 735.13,984.9 735.53,986.1 735.93,987.4 736.33,988.9 736.73,990.4 737.13,992.1 737.53,993.8 737.93,995.6 738.33,997.5 738.73,999.4 739.13,1001.4 739.53,1003.4 739.93,1005.4 740.33,1007.4 740.73,1009.4 741.13,1011.3 741.53,1013.2 741.93,1015.1 742.33,1016.8 742.73,1018.5 743.13,1020.1 743.53,1021.6 743.93,1022.9 744.33,1024.2 744.73,1025.2 745.13,1026.2 745.53,1027 745.93,1027.6 746.33,1028 746.73,1028.3 747.13,1028.4 747.22,1028.5 747.53,1028.4 747.93,1028.3 748.33,1028.1 748.73,1027.8 749.13,1027.4 749.53,1027 749.93,1026.4 750.33,1025.8 750.73,1025.1 751.13,1024.4 751.53,1023.5 751.93,1022.6 752.33,1021.7 752.73,1020.6 753.13,1019.6 753.53,1018.4 753.93,1017.3 754.33,1016.1 754.73,1014.9 755.13,1013.6 755.53,1012.3 755.93,1011.1 756.33,1009.8 756.73,1008.5 757.13,1007.2 757.53,1006 757.93,1004.7 758.33,1003.5 758.73,1002.3 759.13,1001.1 759.53,1000 759.93,999 760.33,998 760.73,997 761.13,996.1 761.53,995.3 761.93,994.5 762.33,993.8 762.73,993.2 763.13,992.7 763.53,992.3 763.93,991.9 764.33,991.6 764.73,991.5 765.13,991.4 765.36,991.3 765.53,991.4 765.93,991.5 766.33,991.8 766.73,992.3 767.13,993 767.53,993.8 767.93,994.8 768.33,996 768.73,997.2 769.13,998.6 769.53,1000.2 769.93,1001.8 770.33,1003.5 770.73,1005.3 771.13,1007.2 771.53,1009.2 771.93,1011.2 772.33,1013.2 772.73,1015.3 773.13,1017.3 773.53,1019.4 773.93,1021.4 774.33,1023.3 774.73,1025.2 775.13,1027.1 775.53,1028.9 775.93,1030.5 776.33,1032.1 776.73,1033.5 777.13,1034.8 777.53,1036 777.93,1037 778.33,1037.9 778.73,1038.6 779.13,1039.2 779.53,1039.5 779.93,1039.8 780.21,1039.8 780.33,1039.8 780.73,1039.5 781.13,1039 781.53,1038.1 781.93,1036.9 782.33,1035.5 782.73,1033.8 783.13,1031.8 783.53,1029.6 783.93,1027.2 784.33,1024.6 784.73,1021.9 785.13,1019 785.53,1016 785.93,1013 786.33,1009.9 786.73,1006.8 787.13,1003.7 787.53,1000.7 787.93,997.8 788.33,995 788.73,992.4 789.13,989.9 789.53,987.7 789.93,985.6 790.33,983.8 790.73,982.3 791.13,981 791.53,980 791.93,979.4 792.33,979 792.58,979 792.73,979 793.13,979.2 793.53,979.7 793.93,980.4 794.33,981.4 794.73,982.7 795.13,984.1 795.53,985.8 795.93,987.7 796.33,989.7 796.73,991.9 797.13,994.3 797.53,996.8 797.93,999.4 798.33,1002 798.73,1004.8 799.13,1007.5 799.53,1010.2 799.93,1013 800.33,1015.6 800.73,1018.3 801.13,1020.8 801.53,1023.2 801.93,1025.4 802.33,1027.5 802.73,1029.4 803.13,1031.2 803.53,1032.7 803.93,1034 804.33,1035 804.73,1035.8 805.13,1036.4 805.53,1036.7 805.77,1036.7 805.93,1036.7 806.33,1036.5 806.73,1036.2 807.13,1035.8 807.53,1035.2 807.93,1034.4 808.33,1033.5 808.73,1032.4 809.13,1031.2 809.53,1029.9 809.93,1028.5 810.33,1027 810.73,1025.3 811.13,1023.6 811.53,1021.9 811.93,1020 812.33,1018.2 812.73,1016.3 813.13,1014.4 813.53,1012.4 813.93,1010.5 814.33,1008.6 814.73,1006.8 815.13,1005 815.53,1003.3 815.93,1001.6 816.33,1000.1 816.73,998.6 817.13,997.3 817.53,996 817.93,994.9 818.33,994 818.73,993.1 819.13,992.5 819.53,991.9 819.93,991.6 820.33,991.4 820.62,991.3 820.73,991.3 821.13,991.4 821.53,991.7 821.93,992 822.33,992.5 822.73,993.1 823.13,993.8 823.53,994.7 823.93,995.6 824.33,996.6 824.73,997.8 825.13,999 825.53,1000.3 825.93,1001.7 826.33,1003.2 826.73,1004.7 827.13,1006.3 827.53,1007.9 827.93,1009.6 828.33,1011.2 828.73,1012.9 829.13,1014.6 829.53,1016.3 829.93,1017.9 830.33,1019.6 830.73,1021.2 831.13,1022.8 831.53,1024.3 831.93,1025.7 832.33,1027.1 832.73,1028.4 833.13,1029.6 833.53,1030.7 833.93,1031.7 834.33,1032.6 834.73,1033.4 835.13,1034.1 835.53,1034.7 835.93,1035.1 836.33,1035.4 836.73,1035.6 837.11,1035.7 837.13,1035.7 837.53,1035.5 837.93,1035.1 838.33,1034.5 838.73,1033.5 839.13,1032.4 839.53,1031 839.93,1029.4 840.33,1027.6 840.73,1025.6 841.13,1023.4 841.53,1021.1 841.93,1018.7 842.33,1016.1 842.73,1013.5 843.13,1010.8 843.53,1008.2 843.93,1005.5 844.33,1002.8 844.73,1000.2 845.13,997.7 845.53,995.3 845.93,993 846.33,990.8 846.73,988.8 847.13,987 847.53,985.4 847.93,984.1 848.33,982.9 848.73,982.1 849.13,981.4 849.53,981 849.90,980.9 849.93,980.9 850.33,981.1 850.73,981.6 851.13,982.4 851.53,983.5 851.93,984.9 852.33,986.5 852.73,988.4 853.13,990.6 853.53,993 853.93,995.5 854.33,998.2 854.73,1001.1 855.13,1004 855.53,1007.1 855.93,1010.1 856.33,1013.2 856.73,1016.3 857.13,1019.3 857.53,1022.2 857.93,1025.1 858.33,1027.7 858.73,1030.3 859.13,1032.6 859.53,1034.7 859.93,1036.5 860.33,1038.1 860.73,1039.4 861.13,1040.5 861.53,1041.2 861.93,1041.6 862.27,1041.8 862.33,1041.7 862.73,1041.5 863.13,1041 863.53,1040.2 863.93,1039.1 864.33,1037.7 864.73,1036 865.13,1034.1 865.53,1031.9 865.93,1029.6 866.33,1027 866.73,1024.3 867.13,1021.5 867.53,1018.6 867.93,1015.6 868.33,1012.6 868.73,1009.6 869.13,1006.6 869.53,1003.7 869.93,1000.9 870.33,998.3 870.73,995.7 871.13,993.4 871.53,991.3 871.93,989.4 872.33,987.8 872.73,986.4 873.13,985.4 873.53,984.6 873.93,984.2 874.31,984 874.33,984 874.73,984.1 875.13,984.5 875.53,985.1 875.93,985.9 876.33,986.8 876.73,988 877.13,989.4 877.53,991 877.93,992.7 878.33,994.6 878.73,996.5 879.13,998.6 879.53,1000.8 879.93,1003 880.33,1005.3 880.73,1007.6 881.13,1009.9 881.53,1012.1 881.93,1014.4 882.33,1016.5 882.73,1018.6 883.13,1020.5 883.53,1022.3 883.93,1024 884.33,1025.5 884.73,1026.8 885.13,1027.9 885.53,1028.9 885.93,1029.6 886.33,1030.1 886.73,1030.4 887.01,1030.4 887.13,1030.4 887.53,1030.2 887.93,1029.8 888.33,1029.2 888.73,1028.4 889.13,1027.3 889.53,1026.1 889.93,1024.8 890.33,1023.2 890.73,1021.6 891.13,1019.8 891.53,1018 891.93,1016.1 892.33,1014.1 892.73,1012.2 893.13,1010.3 893.53,1008.4 893.93,1006.7 894.33,1005 894.73,1003.4 895.13,1002 895.53,1000.8 895.93,999.7 896.33,998.8 896.73,998.1 897.13,997.7 897.53,997.5 897.73,997.4 897.93,997.4 898.33,997.6 898.73,997.8 899.13,998.2 899.53,998.7 899.93,999.4 900.33,1000.1 900.73,1001 901.13,1001.9 901.53,1002.9 901.93,1004 902.33,1005.2 902.73,1006.4 903.13,1007.6 903.53,1008.8 903.93,1010.1 904.33,1011.3 904.73,1012.5 905.13,1013.6 905.53,1014.7 905.93,1015.7 906.33,1016.6 906.73,1017.5 907.13,1018.2 907.53,1018.8 907.93,1019.3 908.33,1019.7 908.73,1020 909.13,1020.1 909.28,1020.1 909.53,1020.1 909.93,1019.9 910.33,1019.7 910.73,1019.3 911.13,1018.9 911.53,1018.3 911.93,1017.6 912.33,1016.8 912.73,1016 913.13,1015.1 913.53,1014.1 913.93,1013.1 914.33,1012.1 914.73,1011 915.13,1010 915.53,1008.9 915.93,1007.9 916.33,1006.9 916.73,1006 917.13,1005.1 917.53,1004.3 917.93,1003.6 918.33,1003 918.73,1002.5 919.13,1002.1 919.53,1001.8 919.93,1001.6 920.33,1001.5 920.33,1001.5 920.73,1001.6 921.13,1001.8 921.53,1002.1 921.93,1002.6 922.33,1003.1 922.73,1003.8 923.13,1004.5 923.53,1005.4 923.93,1006.3 924.33,1007.4 924.73,1008.4 925.13,1009.5 925.53,1010.7 925.93,1011.8 926.33,1013 926.73,1014.1 927.13,1015.2 927.53,1016.3 927.93,1017.3 928.33,1018.2 928.73,1019.1 929.13,1019.9 929.53,1020.6 929.93,1021.1 930.33,1021.6 930.73,1021.9 931.13,1022.1 931.53,1022.2 931.55,1022.2 931.93,1022.1 932.33,1021.9 932.73,1021.6 933.13,1021.1 933.53,1020.6 933.93,1019.9 934.33,1019.1 934.73,1018.1 935.13,1017.2 935.53,1016.1 935.93,1014.9 936.33,1013.7 936.73,1012.5 937.13,1011.2 937.53,1009.9 937.93,1008.6 938.33,1007.4 938.73,1006.1 939.13,1004.9 939.53,1003.7 939.93,1002.7 940.33,1001.6 940.73,1000.7 941.13,999.9 941.53,999.2 941.93,998.6 942.33,998.1 942.73,997.7 943.13,997.5 943.53,997.4 943.59,997.4 943.93,997.5 944.33,997.7 944.73,998.2 945.13,998.8 945.53,999.6 945.93,1000.5 946.33,1001.6 946.73,1002.8 947.13,1004.1 947.53,1005.6 947.93,1007.1 948.33,1008.7 948.73,1010.3 949.13,1011.9 949.53,1013.5 949.93,1015.2 950.33,1016.7 950.73,1018.2 951.13,1019.7 951.53,1021 951.93,1022.2 952.33,1023.3 952.73,1024.2 953.13,1025 953.53,1025.6 953.93,1026 954.33,1026.2 954.64,1026.3 954.73,1026.3 955.13,1026.1 955.53,1025.8 955.93,1025.3 956.33,1024.5 956.73,1023.6 957.13,1022.6 957.53,1021.4 957.93,1020 958.33,1018.5 958.73,1017 959.13,1015.3 959.53,1013.6 959.93,1011.9 960.33,1010.1 960.73,1008.4 961.13,1006.7 961.53,1005 961.93,1003.4 962.33,1001.9 962.73,1000.5 963.13,999.3 963.53,998.2 963.93,997.3 964.33,996.5 964.73,995.9 965.13,995.6 965.53,995.4 965.69,995.4 965.93,995.4 966.33,995.6 966.73,996 967.13,996.6 967.53,997.4 967.93,998.3 968.33,999.4 968.73,1000.6 969.13,1002 969.53,1003.5 969.93,1005 970.33,1006.7 970.73,1008.4 971.13,1010.1 971.53,1011.8 971.93,1013.5 972.33,1015.2 972.73,1016.8 973.13,1018.4 973.53,1019.9 973.93,1021.2 974.33,1022.4 974.73,1023.5 975.13,1024.4 975.53,1025.1 975.93,1025.7 976.33,1026.1 976.73,1026.3 976.91,1026.3 977.13,1026.2 977.53,1026 977.93,1025.4 978.33,1024.5 978.73,1023.4 979.13,1022.1 979.53,1020.6 979.93,1018.8 980.33,1016.9 980.73,1014.9 981.13,1012.8 981.53,1010.6 981.93,1008.4 982.33,1006.2 982.73,1004 983.13,1001.9 983.53,999.9 983.93,998.1 984.33,996.4 984.73,994.9 985.13,993.7 985.53,992.7 985.93,991.9 986.33,991.4 986.73,991.2 986.80,991.2 987.13,991.3 987.53,991.8 987.93,992.6 988.33,993.7 988.73,995.1 989.13,996.7 989.53,998.7 989.93,1000.9 990.33,1003.3 990.73,1005.9 991.13,1008.6 991.53,1011.4 991.93,1014.2 992.33,1017.1 992.73,1020 993.13,1022.9 993.53,1025.6 993.93,1028.2 994.33,1030.6 994.73,1032.9 995.13,1034.9 995.53,1036.6 995.93,1038.1 996.33,1039.2 996.73,1040 997.13,1040.6 997.53,1040.7 997.93,1040.5 998.33,1039.9 998.73,1038.8 999.13,1037.3 999.53,1035.4 999.93,1033.2 1000.33,1030.6 1000.73,1027.7 1001.13,1024.5 1001.53,1021.1 1001.93,1017.5 1002.33,1013.7 1002.73,1009.8 1003.13,1005.8 1003.53,1001.9 1003.93,997.9 1004.33,994 1004.73,990.3 1005.13,986.7 1005.53,983.3 1005.93,980.1 1006.33,977.3 1006.73,974.7 1007.13,972.5 1007.53,970.7 1007.93,969.3 1008.33,968.3 1008.73,967.7 1009.07,967.5 1009.13,967.5 1009.53,968 1009.93,969.1 1010.33,970.8 1010.73,973.2 1011.13,976.2 1011.53,979.8 1011.93,983.9 1012.33,988.5 1012.73,993.4 1013.13,998.7 1013.53,1004.3 1013.93,1010.1 1014.33,1016 1014.73,1022 1015.13,1028 1015.53,1033.8 1015.93,1039.5 1016.33,1044.9 1016.73,1050 1017.13,1054.7 1017.53,1059 1017.93,1062.7 1018.33,1066 1018.73,1068.6 1019.13,1070.6 1019.53,1071.9 1019.93,1072.6 1020.12,1072.7 1020.33,1072.6 1020.73,1071.9 1021.13,1070.5 1021.53,1068.5 1021.93,1065.8 1022.33,1062.5 1022.73,1058.6 1023.13,1054.1 1023.53,1049.1 1023.93,1043.7 1024.33,1037.9 1024.73,1031.7 1025.13,1025.2 1025.53,1018.5 1025.93,1011.6 1026.33,1004.6 1026.73,997.5 1027.13,990.6 1027.53,983.7 1027.93,976.9 1028.33,970.4 1028.73,964.2 1029.13,958.4 1029.53,952.9 1029.93,948 1030.33,943.5 1030.73,939.6 1031.13,936.3 1031.53,933.6 1031.93,931.5 1032.33,930.1 1032.73,929.4 1032.93,929.3 1033.13,929.4 1033.53,930.4 1033.93,932.4 1034.33,935.4 1034.73,939.4 1035.13,944.3 1035.53,950 1035.93,956.5 1036.33,963.7 1036.73,971.5 1037.13,979.9 1037.53,988.8 1037.93,997.9 1038.33,1007.4 1038.73,1016.9 1039.13,1026.5 1039.53,1036 1039.93,1045.4 1040.33,1054.4 1040.73,1063 1041.13,1071.1 1041.53,1078.7 1041.93,1085.5 1042.33,1091.6 1042.73,1096.9 1043.13,1101.3 1043.53,1104.8 1043.93,1107.3 1044.33,1108.8 1044.71,1109.3 1044.73,1109.3 1045.13,1108.7 1045.53,1107.1 1045.93,1104.4 1046.33,1100.7 1046.73,1096 1047.13,1090.4 1047.53,1083.9 1047.93,1076.6 1048.33,1068.5 1048.73,1059.8 1049.13,1050.5 1049.53,1040.8 1049.93,1030.6 1050.33,1020.2 1050.73,1009.6 1051.13,999 1051.53,988.3 1051.93,977.9 1052.33,967.6 1052.73,957.8 1053.13,948.4 1053.53,939.5 1053.93,931.3 1054.33,923.8 1054.73,917 1055.13,911.2 1055.53,906.3 1055.93,902.3 1056.33,899.4 1056.73,897.5 1057.13,896.6 1057.24,896.6 1057.53,896.9 1057.93,898.5 1058.33,901.3 1058.73,905.4 1059.13,910.6 1059.53,917 1059.93,924.5 1060.33,932.9 1060.73,942.3 1061.13,952.4 1061.53,963.2 1061.93,974.6 1062.33,986.5 1062.73,998.7 1063.13,1011.1 1063.53,1023.5 1063.93,1035.9 1064.33,1048 1064.73,1059.9 1065.13,1071.2 1065.53,1082 1065.93,1092.1 1066.33,1101.4 1066.73,1109.8 1067.13,1117.2 1067.53,1123.6 1067.93,1128.8 1068.33,1132.8 1068.73,1135.5 1069.13,1137 1069.39,1137.3 1069.53,1137.2 1069.93,1136.2 1070.33,1133.8 1070.73,1130.3 1071.13,1125.5 1071.53,1119.5 1071.93,1112.5 1072.33,1104.4 1072.73,1095.4 1073.13,1085.4 1073.53,1074.8 1073.93,1063.4 1074.33,1051.5 1074.73,1039.2 1075.13,1026.5 1075.53,1013.6 1075.93,1000.7 1076.33,987.8 1076.73,975.1 1077.13,962.8 1077.53,950.8 1077.93,939.4 1078.33,928.6 1078.73,918.6 1079.13,909.5 1079.53,901.3 1079.93,894.1 1080.33,888 1080.73,883.1 1081.13,879.4 1081.53,876.9 1081.93,875.7 1082.11,875.6 1082.33,875.8 1082.73,877.5 1083.13,880.8 1083.53,885.7 1083.93,892 1084.33,899.8 1084.73,908.9 1085.13,919.3 1085.53,930.7 1085.93,943.1 1086.33,956.4 1086.73,970.3 1087.13,984.7 1087.53,999.5 1087.93,1014.4 1088.33,1029.3 1088.73,1044 1089.13,1058.4 1089.53,1072.2 1089.93,1085.4 1090.33,1097.7 1090.73,1109 1091.13,1119.2 1091.53,1128.2 1091.93,1135.8 1092.33,1141.9 1092.73,1146.6 1093.13,1149.7 1093.53,1151.2 1093.70,1151.3 1093.93,1151.1 1094.33,1149.7 1094.73,1147.1 1095.13,1143.1 1095.53,1138 1095.93,1131.7 1096.33,1124.3 1096.73,1115.8 1097.13,1106.3 1097.53,1096 1097.93,1084.9 1098.33,1073.1 1098.73,1060.8 1099.13,1047.9 1099.53,1034.8 1099.93,1021.4 1100.33,1007.9 1100.73,994.4 1101.13,981.1 1101.53,968.1 1101.93,955.4 1102.33,943.3 1102.73,931.8 1103.13,921 1103.53,911 1103.93,902 1104.33,894 1104.73,887 1105.13,881.2 1105.53,876.6 1105.93,873.2 1106.33,871 1106.73,870.2 1106.78,870.2 1107.13,870.8 1107.53,872.9 1107.93,876.7 1108.33,881.9 1108.73,888.7 1109.13,896.8 1109.53,906.2 1109.93,916.8 1110.33,928.4 1110.73,941 1111.13,954.3 1111.53,968.2 1111.93,982.6 1112.33,997.3 1112.73,1012.1 1113.13,1026.8 1113.53,1041.3 1113.93,1055.4 1114.33,1068.9 1114.73,1081.7 1115.13,1093.6 1115.53,1104.4 1115.93,1114.2 1116.33,1122.6 1116.73,1129.7 1117.13,1135.4 1117.53,1139.6 1117.93,1142.1 1118.33,1143.1 1118.38,1143.2 1118.73,1142.7 1119.13,1140.9 1119.53,1137.9 1119.93,1133.6 1120.33,1128.2 1120.73,1121.6 1121.13,1114 1121.53,1105.4 1121.93,1095.9 1122.33,1085.6 1122.73,1074.6 1123.13,1063.1 1123.53,1051.1 1123.93,1038.7 1124.33,1026.2 1124.73,1013.6 1125.13,1001 1125.53,988.7 1125.93,976.6 1126.33,965 1126.73,954 1127.13,943.6 1127.53,934.1 1127.93,925.4 1128.33,917.6 1128.73,911 1129.13,905.4 1129.53,901.1 1129.93,897.9 1130.33,896 1130.71,895.4 1130.73,895.4 1131.13,896 1131.53,897.7 1131.93,900.5 1132.33,904.4 1132.73,909.3 1133.13,915.1 1133.53,921.9 1133.93,929.5 1134.33,937.8 1134.73,946.8 1135.13,956.3 1135.53,966.3 1135.93,976.6 1136.33,987.2 1136.73,997.9 1137.13,1008.5 1137.53,1019 1137.93,1029.3 1138.33,1039.2 1138.73,1048.7 1139.13,1057.6 1139.53,1065.8 1139.93,1073.3 1140.33,1079.9 1140.73,1085.7 1141.13,1090.4 1141.53,1094.1 1141.93,1096.8 1142.33,1098.3 1142.68,1098.8 1142.73,1098.7 1143.13,1098.2 1143.53,1096.7 1143.93,1094.3 1144.33,1091 1144.73,1086.9 1145.13,1081.9 1145.53,1076.3 1145.93,1070 1146.33,1063.2 1146.73,1055.8 1147.13,1048.1 1147.53,1040 1147.93,1031.8 1148.33,1023.4 1148.73,1015.1 1149.13,1006.9 1149.53,998.9 1149.93,991.2 1150.33,983.9 1150.73,977.2 1151.13,971 1151.53,965.5 1151.93,960.7 1152.33,956.8 1152.73,953.6 1153.13,951.4 1153.53,950.1 1153.90,949.7 1153.93,949.7 1154.33,950.2 1154.73,951.9 1155.13,954.5 1155.53,958 1155.93,962.4 1156.33,967.7 1156.73,973.5 1157.13,980 1157.53,986.9 1157.93,994.1 1158.33,1001.5 1158.73,1008.9 1159.13,1016.2 1159.53,1023.2 1159.93,1029.8 1160.33,1035.9 1160.73,1041.3 1161.13,1045.9 1161.53,1049.8 1161.93,1052.6 1162.33,1054.6 1162.73,1055.5 1162.87,1055.5 1163.13,1055.3 1163.53,1054.4 1163.93,1052.5 1164.33,1049.9 1164.73,1046.5 1165.13,1042.3 1165.53,1037.5 1165.93,1032.2 1166.33,1026.4 1166.73,1020.1 1167.13,1013.7 1167.53,1007 1167.93,1000.3 1168.33,993.6 1168.73,987.1 1169.13,980.9 1169.53,975 1169.93,969.7 1170.33,964.9 1170.73,960.7 1171.13,957.3 1171.53,954.6 1171.93,952.7 1172.33,951.7 1172.59,951.5 1172.73,951.6 1173.13,952.4 1173.53,954.2 1173.93,957 1174.33,960.7 1174.73,965.3 1175.13,970.8 1175.53,976.9 1175.93,983.7 1176.33,991.1 1176.73,999 1177.13,1007.2 1177.53,1015.7 1177.93,1024.4 1178.33,1033 1178.73,1041.6 1179.13,1050 1179.53,1058 1179.93,1065.6 1180.33,1072.7 1180.73,1079.2 1181.13,1084.9 1181.53,1089.9 1181.93,1094 1182.33,1097.2 1182.73,1099.5 1183.13,1100.8 1183.44,1101.1 1183.53,1101.1 1183.93,1100.2 1184.33,1098.3 1184.73,1095.2 1185.13,1091.1 1185.53,1085.9 1185.93,1079.7 1186.33,1072.6 1186.73,1064.7 1187.13,1056.1 1187.53,1046.7 1187.93,1036.8 1188.33,1026.5 1188.73,1015.8 1189.13,1004.9 1189.53,993.8 1189.93,982.8 1190.33,971.9 1190.73,961.2 1191.13,950.9 1191.53,941 1191.93,931.7 1192.33,923.1 1192.73,915.2 1193.13,908.2 1193.53,902.1 1193.93,897 1194.33,892.9 1194.73,889.9 1195.13,888 1195.53,887.3 1195.59,887.3 1195.93,887.8 1196.33,890.1 1196.73,893.9 1197.13,899.3 1197.53,906.3 1197.93,914.6 1198.33,924.3 1198.73,935.2 1199.13,947.1 1199.53,960 1199.93,973.6 1200.33,987.8 1200.73,1002.4 1201.13,1017.2 1201.53,1032 1201.93,1046.7 1202.33,1061.1 1202.73,1074.9 1203.13,1088 1203.53,1100.3 1203.93,1111.6 1204.33,1121.7 1204.73,1130.6 1205.13,1138.1 1205.53,1144.1 1205.93,1148.5 1206.33,1151.3 1206.73,1152.5 1206.81,1152.5 1207.13,1152 1207.53,1150.1 1207.93,1146.6 1208.33,1141.7 1208.73,1135.3 1209.13,1127.7 1209.53,1118.7 1209.93,1108.6 1210.33,1097.5 1210.73,1085.4 1211.13,1072.5 1211.53,1059 1211.93,1044.9 1212.33,1030.4 1212.73,1015.8 1213.13,1001 1213.53,986.4 1213.93,972 1214.33,958 1214.73,944.6 1215.13,931.9 1215.53,920 1215.93,909 1216.33,899.2 1216.73,890.5 1217.13,883.1 1217.53,877.1 1217.93,872.5 1218.33,869.3 1218.73,867.7 1218.96,867.4 1219.13,867.5 1219.53,869 1219.93,872 1220.33,876.5 1220.73,882.6 1221.13,890 1221.53,898.7 1221.93,908.7 1222.33,919.8 1222.73,931.8 1223.13,944.7 1223.53,958.2 1223.93,972.3 1224.33,986.7 1224.73,1001.3 1225.13,1015.9 1225.53,1030.3 1225.93,1044.5 1226.33,1058.1 1226.73,1071.1 1227.13,1083.2 1227.53,1094.4 1227.93,1104.6 1228.33,1113.5 1228.73,1121.1 1229.13,1127.4 1229.53,1132.1 1229.93,1135.4 1230.33,1137.1 1230.55,1137.3 1230.73,1137.2 1231.13,1136.2 1231.53,1134 1231.93,1130.8 1232.33,1126.6 1232.73,1121.3 1233.13,1115.1 1233.53,1108 1233.93,1100.1 1234.33,1091.5 1234.73,1082.2 1235.13,1072.3 1235.53,1061.9 1235.93,1051.2 1236.33,1040.2 1236.73,1029.1 1237.13,1017.9 1237.53,1006.7 1237.93,995.8 1238.33,985.1 1238.73,974.7 1239.13,964.9 1239.53,955.7 1239.93,947.1 1240.33,939.2 1240.73,932.2 1241.13,926.1 1241.53,920.9 1241.93,916.8 1242.33,913.7 1242.73,911.6 1243.13,910.7 1243.26,910.6 1243.53,910.8 1243.93,911.7 1244.33,913.4 1244.73,915.9 1245.13,919.1 1245.53,923 1245.93,927.6 1246.33,932.8 1246.73,938.6 1247.13,945 1247.53,951.8 1247.93,959 1248.33,966.6 1248.73,974.5 1249.13,982.5 1249.53,990.7 1249.93,998.9 1250.33,1007.2 1250.73,1015.3 1251.13,1023.2 1251.53,1030.9 1251.93,1038.3 1252.33,1045.3 1252.73,1051.9 1253.13,1057.9 1253.53,1063.4 1253.93,1068.2 1254.33,1072.4 1254.73,1075.9 1255.13,1078.7 1255.53,1080.7 1255.93,1081.9 1256.33,1082.4 1256.35,1082.4 1256.73,1082.2 1257.13,1081.4 1257.53,1080.2 1257.93,1078.5 1258.33,1076.3 1258.73,1073.7 1259.13,1070.6 1259.53,1067.1 1259.93,1063.2 1260.33,1059 1260.73,1054.4 1261.13,1049.6 1261.53,1044.5 1261.93,1039.3 1262.33,1033.8 1262.73,1028.3 1263.13,1022.6 1263.53,1017 1263.93,1011.4 1264.33,1005.8 1264.73,1000.3 1265.13,995 1265.53,989.9 1265.93,985 1266.33,980.4 1266.73,976.1 1267.13,972.2 1267.53,968.6 1267.93,965.5 1268.33,962.7 1268.73,960.4 1269.13,958.6 1269.53,957.3 1269.93,956.5 1270.33,956.2 1270.37,956.2 1270.73,956.4 1271.13,957 1271.53,958 1271.93,959.4 1272.33,961.3 1272.73,963.5 1273.13,966.2 1273.53,969.1 1273.93,972.4 1274.33,975.9 1274.73,979.8 1275.13,983.8 1275.53,988 1275.93,992.4 1276.33,996.8 1276.73,1001.3 1277.13,1005.9 1277.53,1010.4 1277.93,1014.9 1278.33,1019.2 1278.73,1023.4 1279.13,1027.5 1279.53,1031.3 1279.93,1034.8 1280.33,1038.1 1280.73,1041 1281.13,1043.6 1281.53,1045.8 1281.93,1047.7 1282.33,1049.1 1282.73,1050.1 1283.13,1050.7 1283.46,1050.8 1283.53,1050.8 1283.93,1050.6 1284.33,1050.1 1284.73,1049.3 1285.13,1048.1 1285.53,1046.7 1285.93,1045 1286.33,1043 1286.73,1040.8 1287.13,1038.4 1287.53,1035.8 1287.93,1033 1288.33,1030.1 1288.73,1027.1 1289.13,1024 1289.53,1020.9 1289.93,1017.7 1290.33,1014.6 1290.73,1011.5 1291.13,1008.4 1291.53,1005.5 1291.93,1002.7 1292.33,1000.1 1292.73,997.7 1293.13,995.5 1293.53,993.6 1293.93,991.9 1294.33,990.4 1294.73,989.3 1295.13,988.5 1295.53,988 1295.93,987.8 1295.99,987.7 1296.33,987.8 1296.73,987.9 1297.13,988.2 1297.53,988.5 1297.93,988.9 1298.33,989.5 1298.73,990.1 1299.13,990.8 1299.53,991.6 1299.93,992.5 1300.33,993.4 1300.73,994.4 1301.13,995.4 1301.53,996.4 1301.93,997.5 1302.33,998.6 1302.73,999.8 1303.13,1000.9 1303.53,1002 1303.93,1003.1 1304.33,1004.2 1304.73,1005.3 1305.13,1006.2 1305.53,1007.2 1305.93,1008.1 1306.33,1008.9 1306.73,1009.6 1307.13,1010.3 1307.53,1010.9 1307.93,1011.3 1308.33,1011.7 1308.73,1012 1309.13,1012.2 1309.53,1012.3 1309.63,1012.3 1309.93,1012.3 1310.33,1012.5 1310.73,1012.7 1311.13,1013.1 1311.53,1013.5 1311.93,1014.1 1312.33,1014.7 1312.73,1015.5 1313.13,1016.3 1313.53,1017.2 1313.93,1018.1 1314.33,1019.1 1314.73,1020.1 1315.13,1021.2 1315.53,1022.2 1315.93,1023.3 1316.33,1024.3 1316.73,1025.3 1317.13,1026.3 1317.53,1027.3 1317.93,1028.2 1318.33,1029 1318.73,1029.7 1319.13,1030.4 1319.53,1030.9 1319.93,1031.4 1320.33,1031.7 1320.73,1032 1321.13,1032.1 1321.41,1032.2 1321.53,1032.1 1321.93,1031.9 1322.33,1031.3 1322.73,1030.5 1323.13,1029.3 1323.53,1027.9 1323.93,1026.2 1324.33,1024.3 1324.73,1022.1 1325.13,1019.7 1325.53,1017.1 1325.93,1014.3 1326.33,1011.5 1326.73,1008.5 1327.13,1005.4 1327.53,1002.4 1327.93,999.3 1328.33,996.2 1328.73,993.1 1329.13,990.2 1329.53,987.3 1329.93,984.6 1330.33,982.1 1330.73,979.7 1331.13,977.6 1331.53,975.7 1331.93,974.1 1332.33,972.7 1332.73,971.6 1333.13,970.9 1333.53,970.4 1333.93,970.2 1333.94,970.2 1334.33,970.4 1334.73,971.2 1335.13,972.3 1335.53,974 1335.93,976.1 1336.33,978.6 1336.73,981.5 1337.13,984.8 1337.53,988.4 1337.93,992.3 1338.33,996.5 1338.73,1000.9 1339.13,1005.4 1339.53,1010 1339.93,1014.7 1340.33,1019.4 1340.73,1024.1 1341.13,1028.7 1341.53,1033.1 1341.93,1037.4 1342.33,1041.4 1342.73,1045.2 1343.13,1048.6 1343.53,1051.7 1343.93,1054.4 1344.33,1056.7 1344.73,1058.5 1345.13,1059.9 1345.53,1060.9 1345.93,1061.3 1346.09,1061.4 1346.33,1061.3 1346.73,1060.7 1347.13,1059.6 1347.53,1057.9 1347.93,1055.8 1348.33,1053.2 1348.73,1050.1 1349.13,1046.6 1349.53,1042.7 1349.93,1038.5 1350.33,1033.9 1350.73,1029.1 1351.13,1024.1 1351.53,1018.9 1351.93,1013.7 1352.33,1008.3 1352.73,1003 1353.13,997.7 1353.53,992.6 1353.93,987.6 1354.33,982.8 1354.73,978.3 1355.13,974.1 1355.53,970.2 1355.93,966.8 1356.33,963.8 1356.73,961.2 1357.13,959.1 1357.53,957.5 1357.93,956.5 1358.33,955.9 1358.52,955.9 1358.73,955.9 1359.13,956.5 1359.53,957.6 1359.93,959.1 1360.33,961.2 1360.73,963.8 1361.13,966.8 1361.53,970.2 1361.93,974 1362.33,978.2 1362.73,982.7 1363.13,987.4 1363.53,992.4 1363.93,997.5 1364.33,1002.8 1364.73,1008.1 1365.13,1013.5 1365.53,1018.8 1365.93,1024 1366.33,1029.1 1366.73,1034 1367.13,1038.7 1367.53,1043.1 1367.93,1047.2 1368.33,1050.9 1368.73,1054.2 1369.13,1057 1369.53,1059.5 1369.93,1061.4 1370.33,1062.8 1370.73,1063.7 1371.13,1064.1 1371.22,1064.1 1371.53,1064 1371.93,1063.3 1372.33,1062.1 1372.73,1060.3 1373.13,1058.1 1373.53,1055.4 1373.93,1052.3 1374.33,1048.7 1374.73,1044.8 1375.13,1040.5 1375.53,1035.9 1375.93,1031.1 1376.33,1026.1 1376.73,1021 1377.13,1015.7 1377.53,1010.4 1377.93,1005.2 1378.33,1000 1378.73,994.9 1379.13,990 1379.53,985.3 1379.93,980.9 1380.33,976.9 1380.73,973.2 1381.13,969.8 1381.53,967 1381.93,964.6 1382.33,962.7 1382.73,961.2 1383.13,960.4 1383.53,960 1383.59,960 1383.93,960.2 1384.33,960.8 1384.73,962 1385.13,963.6 1385.53,965.6 1385.93,968.1 1386.33,971 1386.73,974.3 1387.13,977.9 1387.53,981.8 1387.93,986 1388.33,990.4 1388.73,995 1389.13,999.7 1389.53,1004.4 1389.93,1009.3 1390.33,1014.1 1390.73,1018.8 1391.13,1023.4 1391.53,1027.8 1391.93,1032.1 1392.33,1036.1 1392.73,1039.7 1393.13,1043.1 1393.53,1046.1 1393.93,1048.7 1394.33,1050.8 1394.73,1052.5 1395.13,1053.8 1395.53,1054.6 1395.93,1054.8 1395.96,1054.8 1396.33,1054.6 1396.73,1053.9 1397.13,1052.6 1397.53,1050.9 1397.93,1048.6 1398.33,1046 1398.73,1042.9 1399.13,1039.4 1399.53,1035.6 1399.93,1031.6 1400.33,1027.3 1400.73,1022.8 1401.13,1018.3 1401.53,1013.6 1401.93,1009 1402.33,1004.5 1402.73,1000.1 1403.13,995.8 1403.53,991.8 1403.93,988.1 1404.33,984.7 1404.73,981.7 1405.13,979.1 1405.53,977 1405.93,975.3 1406.33,974.2 1406.73,973.5 1407.01,973.4 1407.13,973.4 1407.53,973.8 1407.93,974.5 1408.33,975.7 1408.73,977.3 1409.13,979.2 1409.53,981.5 1409.93,984.1 1410.33,987 1410.73,990.2 1411.13,993.6 1411.53,997.2 1411.93,1000.9 1412.33,1004.6 1412.73,1008.4 1413.13,1012.2 1413.53,1016 1413.93,1019.6 1414.33,1023.1 1414.73,1026.4 1415.13,1029.4 1415.53,1032.2 1415.93,1034.6 1416.33,1036.7 1416.73,1038.5 1417.13,1039.8 1417.53,1040.8 1417.93,1041.3 1418.23,1041.4 1418.33,1041.4 1418.73,1041.2 1419.13,1040.6 1419.53,1039.7 1419.93,1038.5 1420.33,1037 1420.73,1035.3 1421.13,1033.2 1421.53,1031 1421.93,1028.5 1422.33,1025.9 1422.73,1023.1 1423.13,1020.2 1423.53,1017.2 1423.93,1014.2 1424.33,1011.1 1424.73,1008.1 1425.13,1005.2 1425.53,1002.4 1425.93,999.7 1426.33,997.1 1426.73,994.8 1427.13,992.7 1427.53,990.8 1427.93,989.2 1428.33,987.9 1428.73,986.9 1429.13,986.2 1429.53,985.8 1429.77,985.8 1429.93,985.8 1430.33,986 1430.73,986.4 1431.13,987.1 1431.53,988 1431.93,989.1 1432.33,990.4 1432.73,991.9 1433.13,993.5 1433.53,995.3 1433.93,997.3 1434.33,999.3 1434.73,1001.5 1435.13,1003.7 1435.53,1006 1435.93,1008.3 1436.33,1010.6 1436.73,1012.8 1437.13,1015.1 1437.53,1017.2 1437.93,1019.3 1438.33,1021.3 1438.73,1023.1 1439.13,1024.8 1439.53,1026.3 1439.93,1027.6 1440.33,1028.8 1440.73,1029.7 1441.13,1030.4 1441.53,1030.9 1441.93,1031.1 1442.14,1031.1 1442.33,1031.1 1442.73,1030.9 1443.13,1030.6 1443.53,1030.1 1443.93,1029.4 1444.33,1028.5 1444.73,1027.5 1445.13,1026.4 1445.53,1025.1 1445.93,1023.7 1446.33,1022.1 1446.73,1020.5 1447.13,1018.8 1447.53,1017 1447.93,1015.1 1448.33,1013.2 1448.73,1011.3 1449.13,1009.3 1449.53,1007.4 1449.93,1005.5 1450.33,1003.6 1450.73,1001.8 1451.13,1000.1 1451.53,998.4 1451.93,996.8 1452.33,995.4 1452.73,994 1453.13,992.8 1453.53,991.8 1453.93,990.9 1454.33,990.1 1454.73,989.5 1455.13,989.1 1455.53,988.9 1455.84,988.9 1455.93,988.9 1456.33,989 1456.73,989.4 1457.13,990.1 1457.53,990.9 1457.93,992 1458.33,993.2 1458.73,994.7 1459.13,996.3 1459.53,998.1 1459.93,1000.1 1460.33,1002.2 1460.73,1004.4 1461.13,1006.7 1461.53,1009.1 1461.93,1011.5 1462.33,1014 1462.73,1016.5 1463.13,1018.9 1463.53,1021.4 1463.93,1023.8 1464.33,1026.1 1464.73,1028.4 1465.13,1030.5 1465.53,1032.5 1465.93,1034.4 1466.33,1036.1 1466.73,1037.6 1467.13,1038.9 1467.53,1040.1 1467.93,1041 1468.33,1041.7 1468.73,1042.2 1469.13,1042.4 1469.36,1042.5 1469.53,1042.4 1469.93,1042 1470.33,1041.1 1470.73,1039.8 1471.13,1038.1 1471.53,1035.9 1471.93,1033.4 1472.33,1030.6 1472.73,1027.4 1473.13,1023.9 1473.53,1020.3 1473.93,1016.4 1474.33,1012.4 1474.73,1008.4 1475.13,1004.3 1475.53,1000.2 1475.93,996.2 1476.33,992.3 1476.73,988.6 1477.13,985.1 1477.53,981.9 1477.93,978.9 1478.33,976.3 1478.73,974.1 1479.13,972.3 1479.53,970.9 1479.93,969.9 1480.33,969.4 1480.58,969.3 1480.73,969.3 1481.13,970 1481.53,971.3 1481.93,973.3 1482.33,976 1482.73,979.3 1483.13,983.2 1483.53,987.5 1483.93,992.3 1484.33,997.5 1484.73,1002.9 1485.13,1008.4 1485.53,1014.1 1485.93,1019.8 1486.33,1025.4 1486.73,1030.8 1487.13,1035.9 1487.53,1040.7 1487.93,1045.1 1488.33,1048.9 1488.73,1052.2 1489.13,1054.9 1489.53,1057 1489.93,1058.3 1490.33,1058.9 1490.47,1059 1490.73,1058.8 1491.13,1058.2 1491.53,1056.9 1491.93,1055 1492.33,1052.6 1492.73,1049.7 1493.13,1046.3 1493.53,1042.4 1493.93,1038.1 1494.33,1033.4 1494.73,1028.5 1495.13,1023.3 1495.53,1017.9 1495.93,1012.4 1496.33,1006.9 1496.73,1001.3 1497.13,995.9 1497.53,990.5 1497.93,985.4 1498.33,980.6 1498.73,976.1 1499.13,971.9 1499.53,968.2 1499.93,965 1500.33,962.2 1500.73,960 1501.13,958.4 1501.53,957.4 1501.93,956.9 1502.02,956.9 1502.33,957.1 1502.73,958 1503.13,959.7 1503.53,962 1503.93,964.9 1504.33,968.5 1504.73,972.7 1505.13,977.4 1505.53,982.6 1505.93,988.1 1506.33,994 1506.73,1000.1 1507.13,1006.4 1507.53,1012.8 1507.93,1019.1 1508.33,1025.4 1508.73,1031.6 1509.13,1037.5 1509.53,1043.1 1509.93,1048.3 1510.33,1053 1510.73,1057.2 1511.13,1060.9 1511.53,1063.9 1511.93,1066.3 1512.33,1068 1512.73,1069 1513.07,1069.3 1513.13,1069.3 1513.53,1068.8 1513.93,1067.6 1514.33,1065.7 1514.73,1063 1515.13,1059.7 1515.53,1055.8 1515.93,1051.3 1516.33,1046.2 1516.73,1040.7 1517.13,1034.8 1517.53,1028.6 1517.93,1022.1 1518.33,1015.5 1518.73,1008.7 1519.13,1002 1519.53,995.3 1519.93,988.8 1520.33,982.5 1520.73,976.5 1521.13,971 1521.53,965.8 1521.93,961.2 1522.33,957.2 1522.73,953.7 1523.13,951 1523.53,948.9 1523.93,947.6 1524.33,946.9 1524.45,946.9 1524.73,947.1 1525.13,947.9 1525.53,949.4 1525.93,951.6 1526.33,954.4 1526.73,957.9 1527.13,961.9 1527.53,966.5 1527.93,971.6 1528.33,977.1 1528.73,982.9 1529.13,989.1 1529.53,995.6 1529.93,1002.2 1530.33,1009 1530.73,1015.7 1531.13,1022.5 1531.53,1029.1 1531.93,1035.6 1532.33,1041.8 1532.73,1047.7 1533.13,1053.3 1533.53,1058.4 1533.93,1063 1534.33,1067 1534.73,1070.5 1535.13,1073.4 1535.53,1075.7 1535.93,1077.2 1536.33,1078.1 1536.63,1078.3 1536.73,1078.3 1537.13,1077.8 1537.53,1076.6 1537.93,1074.9 1538.33,1072.5 1538.73,1069.5 1539.13,1065.9 1539.53,1061.8 1539.93,1057.2 1540.33,1052.1 1540.73,1046.5 1541.13,1040.6 1541.53,1034.4 1541.93,1027.9 1542.33,1021.2 1542.73,1014.3 1543.13,1007.3 1543.53,1000.3 1543.93,993.3 1544.33,986.4 1544.73,979.6 1545.13,973.1 1545.53,966.8 1545.93,960.8 1546.33,955.1 1546.73,949.9 1547.13,945.2 1547.53,940.9 1547.93,937.2 1548.33,934 1548.73,931.4 1549.13,929.5 1549.53,928.2 1549.93,927.5 1550.14,927.4 1550.33,927.5 1550.73,928.6 1551.13,930.7 1551.53,933.8 1551.93,937.9 1552.33,943 1552.73,949 1553.13,955.8 1553.53,963.4 1553.93,971.8 1554.33,980.7 1554.73,990.2 1555.13,1000.2 1555.53,1010.4 1555.93,1020.9 1556.33,1031.6 1556.73,1042.3 1557.13,1052.9 1557.53,1063.3 1557.93,1073.5 1558.33,1083.2 1558.73,1092.5 1559.13,1101.2 1559.53,1109.3 1559.93,1116.6 1560.33,1123.1 1560.73,1128.7 1561.13,1133.4 1561.53,1137.1 1561.93,1139.8 1562.33,1141.5 1562.73,1142.1 1562.75,1142.1 1563.13,1141.4 1563.53,1139 1563.93,1134.8 1564.33,1129.1 1564.73,1121.8 1565.13,1113 1565.53,1102.8 1565.93,1091.4 1566.33,1078.7 1566.73,1065 1567.13,1050.5 1567.53,1035.2 1567.93,1019.4 1568.33,1003.1 1568.73,986.6 1569.13,970.1 1569.53,953.7 1569.93,937.6 1570.33,921.9 1570.73,907 1571.13,892.8 1571.53,879.5 1571.93,867.3 1572.33,856.4 1572.73,846.8 1573.13,838.6 1573.53,832 1573.93,827 1574.33,823.6 1574.73,821.9 1574.93,821.6 1575.13,821.9 1575.53,824.3 1575.93,829.1 1576.33,836.1 1576.73,845.4 1577.13,856.7 1577.53,870.1 1577.93,885.4 1578.33,902.3 1578.73,920.6 1579.13,940.3 1579.53,961 1579.93,982.6 1580.33,1004.7 1580.73,1027.2 1581.13,1049.8 1581.53,1072.2 1581.93,1094.2 1582.33,1115.5 1582.73,1135.9 1583.13,1155.2 1583.53,1173.2 1583.93,1189.6 1584.33,1204.3 1584.73,1217 1585.13,1227.8 1585.53,1236.4 1585.93,1242.7 1586.33,1246.8 1586.73,1248.4 1586.80,1248.4 1587.13,1247.5 1587.53,1243.9 1587.93,1237.6 1588.33,1228.6 1588.73,1217.1 1589.13,1203.2 1589.53,1187 1589.93,1168.7 1590.33,1148.5 1590.73,1126.7 1591.13,1103.5 1591.53,1079.1 1591.93,1053.9 1592.33,1028 1592.73,1001.9 1593.13,975.7 1593.53,949.9 1593.93,924.6 1594.33,900.1 1594.73,876.8 1595.13,854.9 1595.53,834.6 1595.93,816.2 1596.33,799.8 1596.73,785.7 1597.13,774 1597.53,764.8 1597.93,758.3 1598.33,754.4 1598.68,753.4 1598.73,753.4 1599.13,755.3 1599.53,760.5 1599.93,768.7 1600.33,779.9 1600.73,794 1601.13,810.7 1601.53,829.9 1601.93,851.3 1602.33,874.6 1602.73,899.6 1603.13,925.9 1603.53,953.2 1603.93,981.1 1604.33,1009.3 1604.73,1037.5 1605.13,1065.2 1605.53,1092.2 1605.93,1118 1606.33,1142.3 1606.73,1164.9 1607.13,1185.5 1607.53,1203.7 1607.93,1219.4 1608.33,1232.3 1608.73,1242.3 1609.13,1249.3 1609.53,1253.2 1609.81,1254 1609.93,1253.9 1610.33,1252.1 1610.73,1247.9 1611.13,1241.5 1611.53,1232.9 1611.93,1222.1 1612.33,1209.3 1612.73,1194.7 1613.13,1178.3 1613.53,1160.4 1613.93,1141.1 1614.33,1120.6 1614.73,1099.2 1615.13,1077 1615.53,1054.4 1615.93,1031.5 1616.33,1008.5 1616.73,985.8 1617.13,963.5 1617.53,941.9 1617.93,921.2 1618.33,901.6 1618.73,883.3 1619.13,866.5 1619.53,851.5 1619.93,838.2 1620.33,827 1620.73,817.8 1621.13,810.9 1621.53,806.2 1621.93,803.8 1622.13,803.5 1622.33,803.7 1622.73,805.5 1623.13,809 1623.53,814.4 1623.93,821.4 1624.33,830.1 1624.73,840.4 1625.13,852.1 1625.53,865.2 1625.93,879.6 1626.33,895 1626.73,911.4 1627.13,928.5 1627.53,946.4 1627.93,964.6 1628.33,983.2 1628.73,1001.9 1629.13,1020.5 1629.53,1038.9 1629.93,1056.9 1630.33,1074.3 1630.73,1090.9 1631.13,1106.7 1631.53,1121.4 1631.93,1134.9 1632.33,1147.1 1632.73,1157.9 1633.13,1167.1 1633.53,1174.7 1633.93,1180.6 1634.33,1184.8 1634.73,1187.2 1635.05,1187.8 1635.13,1187.7 1635.53,1186.6 1635.93,1183.7 1636.33,1179.2 1636.73,1173 1637.13,1165.4 1637.53,1156.2 1637.93,1145.6 1638.33,1133.8 1638.73,1120.8 1639.13,1106.8 1639.53,1091.9 1639.93,1076.2 1640.33,1059.9 1640.73,1043.2 1641.13,1026.2 1641.53,1009.2 1641.93,992.2 1642.33,975.4 1642.73,959.1 1643.13,943.3 1643.53,928.2 1643.93,914 1644.33,900.8 1644.73,888.8 1645.13,878 1645.53,868.6 1645.93,860.7 1646.33,854.3 1646.73,849.5 1647.13,846.4 1647.53,844.9 1647.67,844.8 1647.93,845.2 1648.33,847.2 1648.73,850.9 1649.13,856.4 1649.53,863.4 1649.93,872 1650.33,882 1650.73,893.4 1651.13,905.9 1651.53,919.6 1651.93,934.1 1652.33,949.4 1652.73,965.3 1653.13,981.6 1653.53,998.2 1653.93,1014.7 1654.33,1031.1 1654.73,1047.2 1655.13,1062.8 1655.53,1077.6 1655.93,1091.7 1656.33,1104.7 1656.73,1116.5 1657.13,1127.1 1657.53,1136.3 1657.93,1144 1658.33,1150 1658.73,1154.4 1659.13,1157.1 1659.53,1158.1 1659.54,1158.1 1659.93,1157.5 1660.33,1155.5 1660.73,1152.2 1661.13,1147.6 1661.53,1141.8 1661.93,1134.8 1662.33,1126.6 1662.73,1117.5 1663.13,1107.4 1663.53,1096.5 1663.93,1084.9 1664.33,1072.8 1664.73,1060.1 1665.13,1047.2 1665.53,1034.1 1665.93,1021 1666.33,1007.9 1666.73,995.1 1667.13,982.7 1667.53,970.8 1667.93,959.5 1668.33,949 1668.73,939.4 1669.13,930.7 1669.53,923.1 1669.93,916.7 1670.33,911.4 1670.73,907.4 1671.13,904.8 1671.53,903.4 1671.72,903.3 1671.93,903.4 1672.33,904.3 1672.73,906 1673.13,908.5 1673.53,911.9 1673.93,916 1674.33,920.9 1674.73,926.5 1675.13,932.7 1675.53,939.5 1675.93,946.8 1676.33,954.6 1676.73,962.8 1677.13,971.4 1677.53,980.2 1677.93,989.1 1678.33,998.2 1678.73,1007.2 1679.13,1016.3 1679.53,1025.1 1679.93,1033.7 1680.33,1042.1 1680.73,1050 1681.13,1057.5 1681.53,1064.6 1681.93,1071 1682.33,1076.8 1682.73,1081.9 1683.13,1086.3 1683.53,1089.9 1683.93,1092.8 1684.33,1094.8 1684.73,1096 1685.08,1096.3 1685.13,1096.3 1685.53,1095.7 1685.93,1094.1 1686.33,1091.5 1686.73,1088 1687.13,1083.6 1687.53,1078.4 1687.93,1072.4 1688.33,1065.7 1688.73,1058.4 1689.13,1050.5 1689.53,1042.2 1689.93,1033.5 1690.33,1024.6 1690.73,1015.5 1691.13,1006.4 1691.53,997.4 1691.93,988.5 1692.33,979.9 1692.73,971.7 1693.13,964 1693.53,956.9 1693.93,950.4 1694.33,944.6 1694.73,939.6 1695.13,935.5 1695.53,932.3 1695.93,930 1696.33,928.7 1696.66,928.3 1696.73,928.4 1697.13,928.9 1697.53,930.3 1697.93,932.6 1698.33,935.6 1698.73,939.4 1699.13,943.9 1699.53,949 1699.93,954.7 1700.33,961 1700.73,967.7 1701.13,974.7 1701.53,981.9 1701.93,989.4 1702.33,996.9 1702.73,1004.4 1703.13,1011.8 1703.53,1018.9 1703.93,1025.8 1704.33,1032.2 1704.73,1038.2 1705.13,1043.6 1705.53,1048.4 1705.93,1052.6 1706.33,1056 1706.73,1058.6 1707.13,1060.4 1707.53,1061.4 1707.79,1061.6 1707.93,1061.6 1708.33,1061 1708.73,1059.9 1709.13,1058.2 1709.53,1055.9 1709.93,1053 1710.33,1049.6 1710.73,1045.7 1711.13,1041.3 1711.53,1036.6 1711.93,1031.5 1712.33,1026.1 1712.73,1020.4 1713.13,1014.5 1713.53,1008.5 1713.93,1002.5 1714.33,996.4 1714.73,990.4 1715.13,984.6 1715.53,978.9 1715.93,973.4 1716.33,968.3 1716.73,963.5 1717.13,959.1 1717.53,955.1 1717.93,951.6 1718.33,948.7 1718.73,946.3 1719.13,944.5 1719.53,943.3 1719.93,942.7 1720.11,942.6 1720.33,942.9 1720.73,944.6 1721.13,948 1721.53,953 1721.93,959.4 1722.33,967 1722.73,975.7 1723.13,985.2 1723.53,995.3 1723.93,1005.8 1724.33,1016.2 1724.73,1026.4 1725.13,1036.1 1725.53,1045 1725.93,1052.9 1726.33,1059.5 1726.73,1064.8 1727.13,1068.6 1727.53,1070.7 1727.83,1071.2 1727.93,1071 1728.33,1065.8 1728.73,1054.6 1729.13,1039.3 1729.53,1022.9 1729.93,1008.4 1730.33,998.4 1730.72,995 1730.73,995 1731.13,935.1 1731.53,872.8 1731.54,872.7"/>
</g>
<g id="inset-data">
<polyline fill="none" stroke="none" marker-start="url(#mg)" marker-mid="url(#mg)" marker-end="url(#mg)" points="788,430.8 788.5,449.6 789,449.4 789.5,449 790,448.3 790.5,447.4 791,446.4 791.5,445.2 792,444 792.5,442.8 792.9,441.6 793.4,440.5 793.9,439.6 794.4,438.8 794.9,438.2 795.4,437.9 795.9,437.8 796.4,438.5 796.9,440.2 797.4,442.7 797.9,445.6 798.4,448.5 798.9,451.1 799.4,452.9 799.9,453.8 800.4,453.5 800.9,451.9 801.4,449 801.9,445.2 802.3,440.8 802.8,436.2 803.3,432 803.8,428.6 804.3,426.3 804.8,425.3 805.3,425.8 805.8,427.9 806.3,431.6 806.8,436.5 807.3,442.3 807.8,448.5 808.3,454.6 808.8,460.1 809.3,464.7 809.8,468 810.3,469.7 810.8,469.7 811.3,467.5 811.8,463.4 812.2,457.6 812.7,450.5 813.2,442.5 813.7,434.2 814.2,426.2 814.7,418.9 815.2,412.9 815.7,408.5 816.2,406.1 816.7,405.9 817.2,408.7 817.7,414.6 818.2,423 818.7,433.4 819.2,444.8 819.7,456.4 820.2,467.1 820.7,476.2 821.2,482.9 821.6,486.7 822.1,487.2 822.6,484.1 823.1,477.7 823.6,468.5 824.1,457.3 824.6,445 825.1,432.7 825.6,421.4 826.1,412.1 826.6,405.6 827.1,402.4 827.6,402.7 828.1,405.9 828.6,411.6 829.1,419.5 829.6,428.7 830.1,438.6 830.6,448.2 831,456.8 831.5,463.7 832,468.1 832.5,469.9 833,469 833.5,466 834,461.2 834.5,455.2 835,448.6 835.5,442.4 836,437.2 836.5,433.7 837,432.2 837.5,432.7 838,434.4 838.5,437 839,440.3 839.5,443.5 840,446.3 840.4,448.2 840.9,449 841.4,448.3 841.9,446 842.4,442.6 842.9,438.3 843.4,433.7 843.9,429.4 844.4,425.8 844.9,423.4 845.4,422.4 845.9,423.6 846.4,427.3 846.9,433.3 847.4,440.9 847.9,449.4 848.4,457.9 848.9,465.6 849.4,471.7 849.9,475.6 850.3,476.9 850.8,475.7 851.3,472.2 851.8,466.6 852.3,459.4 852.8,450.8 853.3,441.5 853.8,432.1 854.3,423 854.8,414.9 855.3,408.2 855.8,403.3 856.3,400.6 856.8,400.2 857.3,403 857.8,408.7 858.3,417.2 858.8,427.6 859.3,439.2 859.7,451.1 860.2,462.4 860.7,472.2 861.2,479.7 861.7,484.4 862.2,486 862.7,484.7 863.2,481 863.7,475.2 864.2,467.6 864.7,458.7 865.2,449 865.7,439.1 866.2,429.6 866.7,421.1 867.2,414.1 867.7,409.1 868.2,406.2 868.7,405.8 869.1,407.8 869.6,412.2 870.1,418.5 870.6,426.2 871.1,434.9 871.6,443.8 872.1,452.3 872.6,459.6 873.1,465.2 873.6,468.8 874.1,469.9 874.6,469.3 875.1,467.7 875.6,465 876.1,461.5 876.6,457.3 877.1,452.6 877.6,447.7 878.1,442.8 878.5,438.1 879,433.8 879.5,430.3 880,427.6 880.5,425.9 881,425.2 881.5,425.5 882,426.3 882.5,427.7 883,429.6 883.5,431.9 884,434.5 884.5,437.4 885,440.3 885.5,443.3 886,446.1 886.5,448.6 887,450.8 887.5,452.6 887.9,453.8 888.4,454.4 888.9,454.5 889.4,454 889.9,453 890.4,451.4 890.9,449.5 891.4,447.4 891.9,445 892.4,442.7 892.9,440.6 893.4,438.7 893.9,437.2 894.4,436.2 894.9,435.7 895.4,435.8 895.9,436.3 896.4,437.3 896.9,438.5 897.4,440.1 897.8,441.7 898.3,443.3 898.8,444.8 899.3,446.1 899.8,447 900.3,447.5 900.8,447.6 901.3,447.4 901.8,447.2 902.3,446.9 902.8,446.4 903.3,445.9 903.8,445.3 904.3,444.7 904.8,444 905.3,443.4 905.8,442.8 906.3,442.3 906.8,441.9 907.2,441.6 907.7,441.4 908.2,441.3 908.7,441.3 909.2,441.4 909.7,441.6 910.2,441.9 910.7,442.2 911.2,442.6 911.7,443 912.2,443.4 912.7,443.8 913.2,444.2 913.7,444.6 914.2,444.9 914.7,445.2 915.2,445.4 915.7,445.5 916.2,445.5 916.6,445.3 917.1,445 917.6,444.4 918.1,443.8 918.6,443.1 919.1,442.4 919.6,441.7 920.1,441.1 920.6,440.7 921.1,440.4 921.6,440.3 922.1,440.7 922.6,441.8 923.1,443.4 923.6,445.2 924.1,446.8 924.6,447.9 925.1,448.3 925.6,448 926,447.2 926.5,446 927,444.4 927.5,442.6 928,440.6 928.5,438.8 929,437.1 929.5,435.7 930,434.8 930.5,434.3 931,434.4 931.5,435.1 932,436.2 932.5,437.8 933,439.7 933.5,441.9 934,444.1 934.5,446.3 935,448.3 935.5,450 935.9,451.3 936.4,452.2 936.9,452.5 937.4,452.3 937.9,451.7 938.4,450.8 938.9,449.6 939.4,448.1 939.9,446.4 940.4,444.5 940.9,442.6 941.4,440.7 941.9,438.9 942.4,437.3 942.9,435.9 943.4,434.8 943.9,434.1 944.4,433.7 944.9,433.7 945.3,434.2 945.8,435.2 946.3,436.7 946.8,438.6 947.3,440.9 947.8,443.3 948.3,445.7 948.8,448.2 949.3,450.4 949.8,452.4 950.3,454 950.8,455.2 951.3,455.8 951.8,455.9 952.3,455.3 952.8,454 953.3,452 953.8,449.5 954.3,446.6 954.7,443.4 955.2,440.2 955.7,437.1 956.2,434.2 956.7,431.7 957.2,429.8 957.7,428.6 958.2,428 958.7,428.3 959.2,429.4 959.7,431.3 960.2,433.9 960.7,437 961.2,440.6 961.7,444.3 962.2,447.9 962.7,451.4 963.2,454.4 963.7,456.8 964.1,458.5 964.6,459.3 965.1,459.4 965.6,458.6 966.1,457.2 966.6,455.1 967.1,452.5 967.6,449.5 968.1,446.3 968.6,442.9 969.1,439.7 969.6,436.6 970.1,434 970.6,431.9 971.1,430.4 971.6,429.5 972.1,429.5 972.6,430 973.1,431.1 973.5,432.7 974,434.8 974.5,437.2 975,439.8 975.5,442.5 976,445.2 976.5,447.7 977,449.9 977.5,451.7 978,453 978.5,453.7 979,453.8 979.5,453.5 980,452.8 980.5,451.7 981,450.3 981.5,448.7 982,446.9 982.5,445.1 983,443.2 983.4,441.5 983.9,440 984.4,438.7 984.9,437.8 985.4,437.2 985.9,437.1 986.4,437.2 986.9,437.4 987.4,437.6 987.9,438 988.4,438.5 988.9,438.9 989.4,439.4 989.9,440 990.4,440.4 990.9,440.9 991.4,441.2 991.9,441.5 992.4,441.7 992.8,441.7 993.3,442.2 993.8,443.6 994.3,445.6 994.8,448 995.3,450.5 995.8,452.7 996.3,454.3 996.8,455.2 997.3,455.1 997.8,454 998.3,452 998.8,449.1 999.3,445.6 999.8,441.7 1000.3,437.6 1000.8,433.5 1001.3,429.8 1001.8,426.5 1002.2,424 1002.7,422.4 1003.2,421.7 1003.7,422.4 1004.2,424.7 1004.7,428.6 1005.2,433.8 1005.7,439.9 1006.2,446.4 1006.7,453 1007.2,459.2 1007.7,464.5 1008.2,468.6 1008.7,471.2 1009.2,472 1009.7,471.2 1010.2,468.7 1010.7,464.7 1011.2,459.4 1011.6,453.1 1012.1,446.2 1012.6,438.9 1013.1,431.8 1013.6,425.1 1014.1,419.2 1014.6,414.5 1015.1,411.2 1015.6,409.4 1016.1,409.4 1016.6,411.3 1017.1,415.1 1017.6,420.6 1018.1,427.5 1018.6,435.3 1019.1,443.5 1019.6,451.7 1020.1,459.3 1020.6,465.9 1021.1,471.1 1021.5,474.6 1022,476.1 1022.5,475.7 1023,473.6 1023.5,469.8 1024,464.6 1024.5,458.4 1025,451.3 1025.5,443.9 1026,436.6 1026.5,429.7 1027,423.7 1027.5,418.8 1028,415.4 1028.5,413.6 1029,413.5 1029.5,414.8 1030,417.4 1030.5,421.2 1030.9,425.9 1031.4,431.3 1031.9,437.1 1032.4,443 1032.9,448.6 1033.4,453.8 1033.9,458.1 1034.4,461.4 1034.9,463.5 1035.4,464.3 1035.9,464 1036.4,462.7 1036.9,460.7 1037.4,458 1037.9,454.7 1038.4,451 1038.9,447.1 1039.4,443.1 1039.9,439.3 1040.3,435.9 1040.8,433 1041.3,430.8 1041.8,429.3 1042.3,428.7 1042.8,428.9 1043.3,429.6 1043.8,430.7 1044.3,432.4 1044.8,434.4 1045.3,436.7 1045.8,439.1 1046.3,441.7 1046.8,444.3 1047.3,446.8 1047.8,449.1 1048.3,451.1 1048.8,452.6 1049.3,453.8 1049.7,454.4 1050.2,454.5 1050.7,454.3 1051.2,453.6 1051.7,452.6 1052.2,451.3 1052.7,449.8 1053.2,448 1053.7,446.1 1054.2,444.1 1054.7,442.1 1055.2,440.2 1055.7,438.3 1056.2,436.7 1056.7,435.3 1057.2,434.2 1057.7,433.4 1058.2,433 1058.7,432.9 1059.2,433.3 1059.6,434.2 1060.1,435.4 1060.6,437.1 1061.1,439 1061.6,441.1 1062.1,443.4 1062.6,445.8 1063.1,448 1063.6,450.2 1064.1,452.1 1064.6,453.6 1065.1,454.8 1065.6,455.6 1066.1,455.9 1066.6,455.8 1067.1,455.1 1067.6,453.8 1068.1,452.1 1068.6,450 1069,447.5 1069.5,444.8 1070,441.9 1070.5,439.1 1071,436.3 1071.5,433.6 1072,431.3 1072.5,429.3 1073,427.7 1073.5,426.6 1074,426.1 1074.5,426.2 1075,427 1075.5,428.7 1076,431.1 1076.5,434.1 1077,437.6 1077.5,441.4 1078,445.3 1078.4,449.1 1078.9,452.7 1079.4,455.9 1079.9,458.5 1080.4,460.4 1080.9,461.6 1081.4,461.9 1081.9,461.3 1082.4,460 1082.9,457.9 1083.4,455.1 1083.9,451.8 1084.4,448 1084.9,443.9 1085.4,439.7 1085.9,435.5 1086.4,431.5 1086.9,427.9 1087.4,424.7 1087.8,422.1 1088.3,420.3 1088.8,419.2 1089.3,418.9 1089.8,419.9 1090.3,422.2 1090.8,425.7 1091.3,430.2 1091.8,435.5 1092.3,441.4 1092.8,447.4 1093.3,453.4 1093.8,459 1094.3,463.8 1094.8,467.7 1095.3,470.5 1095.8,471.9 1096.3,472 1096.8,470.4 1097.2,467.1 1097.7,462.4 1098.2,456.5 1098.7,449.7 1099.2,442.4 1099.7,435 1100.2,427.9 1100.7,421.4 1101.2,416 1101.7,412 1102.2,409.5 1102.7,408.6 1103.2,409.5 1103.7,412.1 1104.2,416.2 1104.7,421.6 1105.2,428.1 1105.7,435.4 1106.2,443.1 1106.7,450.8 1107.1,458.3 1107.6,465.1 1108.1,470.9 1108.6,475.4 1109.1,478.5 1109.6,479.9 1110.1,479.6 1110.6,477.4 1111.1,473.3 1111.6,467.6 1112.1,460.5 1112.6,452.5 1113.1,443.9 1113.6,435.2 1114.1,426.9 1114.6,419.4 1115.1,413 1115.6,408.2 1116.1,405.1 1116.5,403.9 1117,404.7 1117.5,407.2 1118,411.4 1118.5,417.1 1119,424 1119.5,431.8 1120,440 1120.5,448.4 1121,456.5 1121.5,463.9 1122,470.3 1122.5,475.4 1123,478.9 1123.5,480.6 1124,480.6 1124.5,478.8 1125,475.3 1125.5,470.4 1125.9,464.2 1126.4,457 1126.9,449.2 1127.4,441.2 1127.9,433.3 1128.4,425.9 1128.9,419.3 1129.4,414 1129.9,410 1130.4,407.7 1130.9,407.1 1131.4,408.1 1131.9,410.7 1132.4,414.6 1132.9,419.8 1133.4,425.9 1133.9,432.7 1134.4,439.7 1134.9,446.7 1135.3,453.4 1135.8,459.2 1136.3,464.1 1136.8,467.7 1137.3,469.9 1137.8,470.6 1138.3,470.1 1138.8,469 1139.3,467.3 1139.8,464.9 1140.3,462.1 1140.8,458.8 1141.3,455.1 1141.8,451.3 1142.3,447.3 1142.8,443.3 1143.3,439.5 1143.8,436 1144.3,432.8 1144.8,430.1 1145.2,427.9 1145.7,426.4 1146.2,425.5 1146.7,425.3 1147.2,426 1147.7,427.8 1148.2,430.6 1148.7,434.2 1149.2,438.6 1149.7,443.5 1150.2,448.9 1150.7,454.5 1151.2,460.1 1151.7,465.5 1152.2,470.6 1152.7,475.1 1153.2,478.8 1153.7,481.8 1154.2,483.8 1154.6,484.7 1155.1,484.3 1155.6,481.4 1156.1,476 1156.6,468.4 1157.1,458.9 1157.6,448 1158.1,436.1 1158.6,424 1159.1,412 1159.6,400.9 1160.1,391.1 1160.6,383.1 1161.1,377.3 1161.6,373.9 1162.1,373.2 1162.6,376.3 1163.1,383.6 1163.6,394.6 1164,408.9 1164.5,425.6 1165,443.9 1165.5,462.9 1166,481.5 1166.5,498.8 1167,513.8 1167.5,525.9 1168,534.4 1168.5,538.7 1169,538.6 1169.5,532.9 1170,521.7 1170.5,505.6 1171,485.5 1171.5,462.5 1172,437.8 1172.5,412.8 1173,388.9 1173.4,367.3 1173.9,349.2 1174.4,335.7 1174.9,327.4 1175.4,324.9 1175.9,329.1 1176.4,340.7 1176.9,358.9 1177.4,382.6 1177.9,410.4 1178.4,440.6 1178.9,471.4 1179.4,501 1179.9,527.6 1180.4,549.5 1180.9,565.5 1181.4,574.5 1181.9,576.2 1182.4,570.3 1182.9,557.4 1183.3,538 1183.8,513.2 1184.3,484.4 1184.8,453.2 1185.3,421.2 1185.8,390.2 1186.3,362 1186.8,337.9 1187.3,319.5 1187.8,307.5 1188.3,302.8 1188.8,305.2 1189.3,314.1 1189.8,329 1190.3,349.3 1190.8,374.1 1191.3,402.2 1191.8,432.3 1192.3,463.1 1192.7,493.2 1193.2,521.2 1193.7,545.8 1194.2,565.9 1194.7,580.6 1195.2,589.2 1195.7,591.4 1196.2,585.5 1196.7,571.2 1197.2,549.1 1197.7,520.7 1198.2,487.3 1198.7,450.8 1199.2,413.2 1199.7,376.5 1200.2,342.8 1200.7,313.9 1201.2,291.3 1201.7,276.4 1202.1,269.8 1202.6,272.7 1203.1,286.7 1203.6,311 1204.1,344.1 1204.6,384.1 1205.1,428.4 1205.6,474.6 1206.1,519.7 1206.6,561.1 1207.1,596.3 1207.6,623.2 1208.1,640.1 1208.6,646 1209.1,640.9 1209.6,625.2 1210.1,599.9 1210.6,566.1 1211.1,525.6 1211.5,480.6 1212,433.4 1212.5,386.5 1213,342.3 1213.5,303.1 1214,270.9 1214.5,247.5 1215,234 1215.5,231.2 1216,241.7 1216.5,265.7 1217,301.5 1217.5,346.6 1218,397.8 1218.5,451.6 1219,504.2 1219.5,551.9 1220,591.2 1220.5,619.6 1221,634.9 1221.4,636.5 1221.9,627.9 1222.4,610.3 1222.9,584.7 1223.4,552.5 1223.9,515.5 1224.4,475.6 1224.9,435.1 1225.4,396.2 1225.9,360.9 1226.4,331.3 1226.9,308.8 1227.4,294.9 1227.9,290.1 1228.4,293.4 1228.9,303.3 1229.4,319.1 1229.9,340.2 1230.4,365.3 1230.8,393.2 1231.3,422.4 1231.8,451.5 1232.3,478.8 1232.8,503 1233.3,522.8 1233.8,537.2 1234.3,545.4 1234.8,547.1 1235.3,544.6 1235.8,538.8 1236.3,530 1236.8,518.5 1237.3,504.6 1237.8,488.9 1238.3,471.8 1238.8,454 1239.3,436.1 1239.8,418.6 1240.2,402.2 1240.7,387.5 1241.2,375 1241.7,365 1242.2,358 1242.7,354.1 1243.2,353.5 1243.7,356.9 1244.2,364.2 1244.7,375.2 1245.2,389.5 1245.7,406.4 1246.2,425.4 1246.7,445.6 1247.2,466.5 1247.7,487 1248.2,506.5 1248.7,524.1 1249.2,539.3 1249.6,551.4 1250.1,559.9 1250.6,564.6 1251.1,564.9 1251.6,557.7 1252.1,542.5 1252.6,520.2 1253.1,492.2 1253.6,460.1 1254.1,425.8 1254.6,391.5 1255.1,359.2 1255.6,330.8 1256.1,308.1 1256.6,292.3 1257.1,284.5 1257.6,285.5 1258.1,296.4 1258.6,316.9 1259,345.6 1259.5,380.9 1260,420.6 1260.5,462.4 1261,503.7 1261.5,542 1262,575.1 1262.5,601 1263,618 1263.5,625.3 1264,622.4 1264.5,609.8 1265,588.2 1265.5,558.9 1266,523.3 1266.5,483.4 1267,441.5 1267.5,399.8 1268,360.5 1268.5,325.9 1268.9,297.7 1269.4,277.7 1269.9,266.7 1270.4,265.5 1270.9,273.9 1271.4,291.5 1271.9,317.2 1272.4,349.3 1272.9,386.1 1273.4,425.3 1273.9,464.5 1274.4,501.3 1274.9,533.7 1275.4,559.5 1275.9,577.3 1276.4,586 1276.9,585.5 1277.4,577.6 1277.9,563 1278.3,542.7 1278.8,517.8 1279.3,489.7 1279.8,460.3 1280.3,431.3 1280.8,404.3 1281.3,381.1 1281.8,363.1 1282.3,351.2 1282.8,346.3 1283.3,347.2 1283.8,351.3 1284.3,358.3 1284.8,367.9 1285.3,379.8 1285.8,393.6 1286.3,408.6 1286.8,424.3 1287.3,440.1 1287.7,455.4 1288.2,469.6 1288.7,482.2 1289.2,492.7 1289.7,500.6 1290.2,505.6 1290.7,507.7 1291.2,506.8 1291.7,503.2 1292.2,497.1 1292.7,488.7 1293.2,478.4 1293.7,466.7 1294.2,454 1294.7,440.8 1295.2,427.7 1295.7,415.3 1296.2,404 1296.7,394.4 1297.1,386.8 1297.6,381.6 1298.1,378.9 1298.6,379 1299.1,382 1299.6,387.7 1300.1,396 1300.6,406.3 1301.1,418.2 1301.6,431.2 1302.1,444.4 1302.6,457.3 1303.1,469.3 1303.6,479.7 1304.1,488.1 1304.6,493.9 1305.1,497 1305.6,497.2 1306.1,495.4 1306.6,491.8 1307,486.4 1307.5,479.6 1308,471.6 1308.5,462.8 1309,453.5 1309.5,444.1 1310,435 1310.5,426.6 1311,419.3 1311.5,413.3 1312,408.9 1312.5,406.2 1313,405.5 1313.5,406.3 1314,408.4 1314.5,411.8 1315,416.2 1315.5,421.5 1316,427.6 1316.4,434.1 1316.9,440.9 1317.4,447.6 1317.9,454 1318.4,459.9 1318.9,465.1 1319.4,469.2 1319.9,472.2 1320.4,474 1320.9,474.5 1321.4,473.6 1321.9,471.3 1322.4,467.7 1322.9,463 1323.4,457.4 1323.9,451.2 1324.4,444.6 1324.9,438.1 1325.4,431.8 1325.8,426.2 1326.3,421.4 1326.8,417.7 1327.3,415.3 1327.8,414.2 1328.3,414.4 1328.8,415.4 1329.3,417.2 1329.8,419.6 1330.3,422.7 1330.8,426.3 1331.3,430.3 1331.8,434.7 1332.3,439.2 1332.8,443.8 1333.3,448.3 1333.8,452.6 1334.3,456.5 1334.8,460 1335.2,462.8 1335.7,465.1 1336.2,466.6 1336.7,467.3 1337.2,467.2 1337.7,465.9 1338.2,463.5 1338.7,460 1339.2,455.5 1339.7,450.1 1340.2,444.1 1340.7,437.6 1341.2,430.8 1341.7,423.9 1342.2,417.2 1342.7,410.8 1343.2,404.9 1343.7,399.7 1344.2,395.4 1344.7,392.1 1345.1,390 1345.6,389 1346.1,389.8 1346.6,394.6 1347.1,403.2 1347.6,415 1348.1,429.5 1348.6,445.6 1349.1,462.5 1349.6,479.1 1350.1,494.4 1350.6,507.5 1351.1,517.6 1351.6,524.1 1352.1,526.7 1352.6,524.5 1353.1,516.9 1353.6,504.4 1354.1,487.7 1354.5,467.8 1355,445.8 1355.5,423.2 1356,401.3 1356.5,381.3 1357,364.6 1357.5,352 1358,344.5 1358.5,342.3 1359,345.6 1359.5,354.2 1360,367.5 1360.5,384.9 1361,405.5 1361.5,428 1362,451.3 1362.5,474.1 1363,495.1 1363.5,513.2 1363.9,527.5 1364.4,537 1364.9,541.4 1365.4,540.4 1365.9,534.1 1366.4,522.8 1366.9,507.4 1367.4,488.5 1367.9,467.6 1368.4,445.6 1368.9,424.1 1369.4,404.3 1369.9,387.4 1370.4,374.3 1370.9,366 1371.4,362.8 1371.9,364.2 1372.4,369 1372.9,376.8 1373.3,387.4 1373.8,400.3 1374.3,414.7 1374.8,430.1 1375.3,445.7 1375.8,460.8 1376.3,474.6 1376.8,486.5 1377.3,496 1377.8,502.5 1378.3,505.8 1378.8,505.8 1379.3,503.2 1379.8,498.2 1380.3,491 1380.8,482 1381.3,471.4 1381.8,459.8 1382.3,447.6 1382.7,435.3 1383.2,423.5 1383.7,412.6 1384.2,403.1 1384.7,395.4 1385.2,389.8 1385.7,386.5 1386.2,385.8 1386.7,387.6 1387.2,392.1 1387.7,398.8 1388.2,407.6 1388.7,418.1 1389.2,429.6 1389.7,441.7 1390.2,453.8 1390.7,465.4 1391.2,475.7 1391.7,484.5 1392.2,491.2 1392.6,495.6 1393.1,497.4 1393.6,496.4 1394.1,492.5 1394.6,486 1395.1,477.1 1395.6,466.5 1396.1,454.8 1396.6,442.6 1397.1,430.8 1397.6,420 1398.1,410.9 1398.6,404 1399.1,399.7 1399.6,398.4 1400.1,399.4 1400.6,402.4 1401.1,407.1 1401.6,413.2 1402,420.5 1402.5,428.5 1403,436.9 1403.5,445.1 1404,452.6 1404.5,459.2 1405,464.4 1405.5,467.9 1406,469.6 1406.5,469.2 1407,466 1407.5,460.7 1408,454.3 1408.5,448.2 1409,443.7 1409.5,441.8 1410,441.6 1410.5,441.1 1411,440.3 1411.4,439.3 1411.9,437.9 1412.4,436.4 1412.9,434.7 1413.4,432.9 1413.9,431.2 1414.4,429.5 1414.9,427.9 1415.4,426.5 1415.9,425.4 1416.4,424.5 1416.9,424 1417.4,423.8 1417.9,424.5 1418.4,426.3 1418.9,429.2 1419.4,433.1 1419.9,437.8 1420.4,443 1420.8,448.5 1421.3,454 1421.8,459.2 1422.3,463.8 1422.8,467.6 1423.3,470.4 1423.8,472.1 1424.3,472.6 1424.8,471.8 1425.3,469.5 1425.8,466.1 1426.3,461.5 1426.8,456.2 1427.3,450.3 1427.8,444.2 1428.3,438.3 1428.8,432.9 1429.3,428.2 1429.8,424.6 1430.3,422.2 1430.7,421.1 1431.2,421.4 1431.7,422.7 1432.2,424.9 1432.7,428 1433.2,432 1433.7,436.5 1434.2,441.6 1434.7,447 1435.2,452.6 1435.7,458.1 1436.2,463.4 1436.7,468.3 1437.2,472.7 1437.7,476.4 1438.2,479.3 1438.7,481.2 1439.2,482.2 1439.7,481.9 1440.1,479.1 1440.6,473.8 1441.1,466.3 1441.6,457 1442.1,446.5 1442.6,435.2 1443.1,423.9 1443.6,413.1 1444.1,403.4 1444.6,395.4 1445.1,389.6 1445.6,386.2 1446.1,385.5 1446.6,389 1447.1,397.1 1447.6,409.2 1448.1,424.1 1448.6,440.6 1449.1,457.2 1449.5,472.4 1450,484.9 1450.5,493.6 1451,497.8 1451.5,497.4 1452,494.1 1452.5,488.1 1453,479.8 1453.5,469.7 1454,458.6 1454.5,447.2 1455,436.1 1455.5,426.2 1456,418.1 1456.5,412.3 1457,409.2 1457.5,408.8 1458,409.7 1458.5,411.4 1458.9,414 1459.4,417.2 1459.9,420.9 1460.4,424.8 1460.9,428.8 1461.4,432.7 1461.9,436.1 1462.4,439 1462.9,441.1 1463.4,442.4 1463.9,442.8 1464.4,443.3 1464.9,444.7 1465.4,446.7 1465.9,449.3 1466.4,452.2 1466.9,455.3 1467.4,458.2 1467.9,460.7 1468.3,462.7 1468.8,464 1469.3,464.4 1469.8,463.5 1470.3,460.6 1470.8,456.2 1471.3,450.3 1471.8,443.5 1472.3,436.1 1472.8,428.8 1473.3,422 1473.8,416.2 1474.3,411.7 1474.8,408.9 1475.3,408 1475.8,409.3 1476.3,412.9 1476.8,418.5 1477.3,425.9 1477.8,434.5 1478.2,443.8 1478.7,453.3 1479.2,462.3 1479.7,470.2 1480.2,476.6 1480.7,481.1 1481.2,483.4 1481.7,483.4 1482.2,481.3 1482.7,477.3 1483.2,471.6 1483.7,464.5 1484.2,456.3 1484.7,447.4 1485.2,438.1 1485.7,429 1486.2,420.5 1486.7,412.9 1487.2,406.7 1487.6,402 1488.1,399.2 1488.6,398.4 1489.1,400.3 1489.6,405.1 1490.1,412.6 1490.6,422.2 1491.1,433.1 1491.6,444.7 1492.1,456.1 1492.6,466.5 1493.1,475 1493.6,481.2 1494.1,484.5 1494.6,484.8 1495.1,482.6 1495.6,478 1496.1,471.5 1496.6,463.3 1497,454 1497.5,444.1 1498,434.3 1498.5,425 1499,416.9 1499.5,410.5 1500,406.1 1500.5,404.1 1501,404.5 1501.5,407.7 1502,413.4 1502.5,421.2 1503,430.5 1503.5,440.8 1504,451.2 1504.5,461 1505,469.4 1505.5,476 1506,480.1 1506.4,481.6 1506.9,480.2 1507.4,476.2 1507.9,469.8 1508.4,461.4 1508.9,451.6 1509.4,441.2 1509.9,431 1510.4,421.6 1510.9,413.7 1511.4,407.9 1511.9,404.6 1512.4,404.1 1512.9,406.9 1513.4,412.9 1513.9,421.6 1514.4,432.2 1514.9,443.8 1515.4,455.4 1515.9,465.9 1516.3,474.4 1516.8,480.3 1517.3,482.8 1517.8,482 1518.3,477.9 1518.8,470.9 1519.3,461.5 1519.8,450.5 1520.3,438.7 1520.8,427.1 1521.3,416.6 1521.8,408.1 1522.3,402.2 1522.8,399.3 1523.3,401.1 1523.8,411.6 1524.3,429.1 1524.8,450.2 1525.3,470.5 1525.7,485.9 1526.2,493.5 1526.7,491 1527.2,477.2 1527.7,454.7 1528.2,428.1 1528.7,402.7 1529.2,383.6 1529.7,374.7 1530.2,488.7 1530.2,374 1530.2,450 1530.2,524"/>
<polyline transform="scale(1.3,1)" fill="none" stroke="#000" stroke-width="3.6" stroke-linejoin="round" stroke-linecap="round" points="606.28,430.8 606.39,449.7 606.47,449.7 606.66,449.6 606.85,449.5 607.05,449.3 607.24,449 607.43,448.7 607.62,448.4 607.82,448 608.01,447.5 608.20,447 608.39,446.5 608.59,445.9 608.78,445.3 608.97,444.7 609.16,444.1 609.35,443.5 609.55,442.9 609.74,442.3 609.93,441.7 610.12,441.1 610.32,440.6 610.51,440.1 610.70,439.6 610.89,439.2 611.09,438.8 611.28,438.5 611.47,438.2 611.66,438 611.85,437.9 612.05,437.8 612.19,437.8 612.24,437.8 612.43,438 612.62,438.5 612.82,439.3 613.01,440.2 613.20,441.4 613.39,442.7 613.59,444.2 613.78,445.6 613.97,447.1 614.16,448.6 614.35,450 614.55,451.2 614.74,452.2 614.93,453 615.12,453.5 615.32,453.8 615.41,453.9 615.51,453.8 615.70,453.4 615.89,452.7 616.09,451.7 616.28,450.3 616.47,448.6 616.66,446.7 616.85,444.7 617.05,442.5 617.24,440.2 617.43,437.9 617.62,435.6 617.82,433.5 618.01,431.5 618.20,429.7 618.39,428.2 618.59,426.9 618.78,426 618.97,425.4 619.16,425.2 619.17,425.2 619.35,425.4 619.55,426 619.74,427.1 619.93,428.6 620.12,430.4 620.32,432.6 620.51,435 620.70,437.8 620.89,440.7 621.09,443.7 621.28,446.8 621.47,450 621.66,453.1 621.85,456 622.05,458.9 622.24,461.4 622.43,463.8 622.62,465.8 622.82,467.4 623.01,468.7 623.20,469.5 623.39,469.9 623.47,469.9 623.59,469.8 623.78,469.2 623.97,468.1 624.16,466.5 624.35,464.3 624.55,461.7 624.74,458.7 624.93,455.4 625.12,451.7 625.32,447.8 625.51,443.7 625.70,439.6 625.89,435.4 626.09,431.2 626.28,427.2 626.47,423.3 626.66,419.7 626.85,416.4 627.05,413.4 627.24,410.9 627.43,408.9 627.62,407.3 627.82,406.2 628.01,405.7 628.09,405.7 628.20,405.8 628.39,406.7 628.59,408.4 628.78,410.9 628.97,414.2 629.16,418.1 629.35,422.6 629.55,427.6 629.74,433 629.93,438.7 630.12,444.5 630.32,450.4 630.51,456.2 630.70,461.8 630.89,467.1 631.09,472 631.28,476.3 631.47,480 631.66,483 631.85,485.3 632.05,486.7 632.24,487.4 632.28,487.4 632.43,487.1 632.62,485.9 632.82,483.9 633.01,480.9 633.20,477.2 633.39,472.8 633.59,467.8 633.78,462.2 633.97,456.3 634.16,450.1 634.35,443.8 634.55,437.6 634.74,431.5 634.93,425.6 635.12,420.2 635.32,415.4 635.51,411.1 635.70,407.7 635.89,405 636.09,403.2 636.28,402.3 636.37,402.2 636.47,402.3 636.66,403 636.85,404.5 637.05,406.7 637.24,409.5 637.43,412.9 637.62,416.8 637.82,421.1 638.01,425.8 638.20,430.6 638.39,435.6 638.59,440.6 638.78,445.5 638.97,450.2 639.16,454.6 639.35,458.6 639.55,462 639.74,465 639.93,467.3 640.12,468.9 640.32,469.7 640.45,469.9 640.51,469.9 640.70,469.4 640.89,468.4 641.09,466.8 641.28,464.8 641.47,462.3 641.66,459.5 641.85,456.4 642.05,453.2 642.24,449.9 642.43,446.6 642.62,443.5 642.82,440.6 643.01,438 643.20,435.8 643.39,434.1 643.59,432.9 643.78,432.3 643.89,432.2 643.97,432.2 644.16,432.5 644.35,433.2 644.55,434.1 644.74,435.3 644.93,436.7 645.12,438.2 645.32,439.9 645.51,441.6 645.70,443.2 645.89,444.8 646.09,446.1 646.28,447.3 646.47,448.1 646.66,448.7 646.85,449 646.90,449 647.05,448.8 647.24,448.3 647.43,447.4 647.62,446.2 647.82,444.6 648.01,442.7 648.20,440.6 648.39,438.4 648.59,436.1 648.78,433.8 648.97,431.5 649.16,429.4 649.35,427.4 649.55,425.7 649.74,424.4 649.93,423.3 650.12,422.7 650.32,422.4 650.34,422.4 650.51,422.7 650.70,423.7 650.89,425.3 651.09,427.6 651.28,430.4 651.47,433.7 651.66,437.5 651.85,441.5 652.05,445.8 652.24,450.1 652.43,454.5 652.62,458.7 652.82,462.7 653.01,466.4 653.20,469.6 653.39,472.3 653.59,474.4 653.78,475.9 653.97,476.8 654.10,476.9 654.16,476.9 654.35,476.4 654.55,475.3 654.74,473.6 654.93,471.4 655.12,468.7 655.32,465.5 655.51,461.9 655.70,457.9 655.89,453.6 656.09,449.1 656.28,444.4 656.47,439.7 656.66,434.9 656.85,430.1 657.05,425.5 657.24,421.1 657.43,417 657.62,413.2 657.82,409.8 658.01,406.8 658.20,404.4 658.39,402.4 658.59,401.1 658.78,400.3 658.94,400.1 658.97,400.1 659.16,400.7 659.35,402.1 659.55,404.3 659.74,407.3 659.93,411 660.12,415.3 660.32,420.2 660.51,425.5 660.70,431.1 660.89,437 661.09,443.1 661.28,449.1 661.47,455 661.66,460.6 661.85,466 662.05,470.8 662.24,475.1 662.43,478.8 662.62,481.8 662.82,484 663.01,485.4 663.20,486 663.23,486 663.39,485.8 663.59,484.9 663.78,483.5 663.97,481.5 664.16,478.9 664.35,475.8 664.55,472.2 664.74,468.3 664.93,463.9 665.12,459.3 665.32,454.5 665.51,449.6 665.70,444.5 665.89,439.6 666.09,434.7 666.28,429.9 666.47,425.5 666.66,421.3 666.85,417.5 667.05,414.2 667.24,411.4 667.43,409.1 667.62,407.3 667.82,406.2 668.01,405.7 668.07,405.7 668.20,405.8 668.39,406.6 668.59,407.9 668.78,409.9 668.97,412.4 669.16,415.4 669.35,418.8 669.55,422.6 669.74,426.8 669.93,431.1 670.12,435.6 670.32,440.1 670.51,444.5 670.70,448.9 670.89,453 671.09,456.8 671.28,460.2 671.47,463.2 671.66,465.7 671.85,467.7 672.05,469 672.24,469.8 672.37,469.9 672.43,469.9 672.62,469.7 672.82,469.2 673.01,468.4 673.20,467.3 673.39,466 673.59,464.5 673.78,462.8 673.97,460.8 674.16,458.7 674.35,456.5 674.55,454.1 674.74,451.7 674.93,449.2 675.12,446.7 675.32,444.2 675.51,441.7 675.70,439.3 675.89,437.1 676.09,434.9 676.28,432.9 676.47,431.1 676.66,429.5 676.85,428.2 677.05,427 677.24,426.2 677.43,425.6 677.62,425.3 677.74,425.2 677.82,425.2 678.01,425.4 678.20,425.7 678.39,426.1 678.59,426.7 678.78,427.4 678.97,428.2 679.16,429.2 679.35,430.3 679.55,431.5 679.74,432.7 679.93,434.1 680.12,435.5 680.32,436.9 680.51,438.4 680.70,439.9 680.89,441.4 681.09,442.9 681.28,444.3 681.47,445.7 681.66,447.1 681.85,448.4 682.05,449.5 682.24,450.6 682.43,451.6 682.62,452.4 682.82,453.1 683.01,453.7 683.20,454.1 683.39,454.4 683.59,454.5 683.65,454.6 683.78,454.5 683.97,454.4 684.16,454 684.35,453.6 684.55,453 684.74,452.3 684.93,451.5 685.12,450.6 685.32,449.6 685.51,448.5 685.70,447.4 685.89,446.2 686.09,445 686.28,443.9 686.47,442.7 686.66,441.6 686.85,440.5 687.05,439.5 687.24,438.6 687.43,437.8 687.62,437.1 687.82,436.6 688.01,436.2 688.20,435.9 688.39,435.7 688.49,435.7 688.59,435.7 688.78,435.8 688.97,436.1 689.16,436.4 689.35,436.8 689.55,437.4 689.74,438 689.93,438.7 690.12,439.5 690.32,440.3 690.51,441.1 690.70,441.9 690.89,442.7 691.09,443.5 691.28,444.3 691.47,445 691.66,445.7 691.85,446.2 692.05,446.7 692.24,447.1 692.43,447.4 692.62,447.5 692.79,447.6 692.82,447.6 693.01,447.6 693.20,447.5 693.39,447.4 693.59,447.3 693.78,447.1 693.97,447 694.16,446.8 694.35,446.5 694.55,446.3 694.74,446 694.93,445.7 695.12,445.4 695.32,445.1 695.51,444.8 695.70,444.5 695.89,444.2 696.09,443.9 696.28,443.5 696.47,443.2 696.66,443 696.85,442.7 697.05,442.4 697.24,442.2 697.43,442 697.62,441.8 697.82,441.6 698.01,441.5 698.20,441.4 698.39,441.3 698.59,441.3 698.70,441.3 698.78,441.3 698.97,441.3 699.16,441.3 699.35,441.4 699.55,441.5 699.74,441.6 699.93,441.7 700.12,441.9 700.32,442 700.51,442.2 700.70,442.4 700.89,442.6 701.09,442.8 701.28,443 701.47,443.2 701.66,443.4 701.85,443.6 702.05,443.8 702.24,444 702.43,444.2 702.62,444.4 702.82,444.6 703.01,444.8 703.20,444.9 703.39,445.1 703.59,445.2 703.78,445.3 703.97,445.4 704.16,445.4 704.35,445.5 704.55,445.5 704.61,445.5 704.74,445.5 704.93,445.4 705.12,445.3 705.32,445.1 705.51,444.9 705.70,444.7 705.89,444.4 706.09,444.1 706.28,443.8 706.47,443.4 706.66,443.1 706.85,442.7 707.05,442.3 707.24,442 707.43,441.7 707.62,441.4 707.82,441.1 708.01,440.8 708.20,440.6 708.39,440.5 708.59,440.4 708.78,440.3 708.91,440.3 708.97,440.3 709.16,440.5 709.35,440.8 709.55,441.4 709.74,442.1 709.93,442.8 710.12,443.7 710.32,444.6 710.51,445.5 710.70,446.3 710.89,447 711.09,447.6 711.28,448 711.47,448.2 711.59,448.3 711.66,448.3 711.85,448.1 712.05,447.9 712.24,447.5 712.43,447 712.62,446.4 712.82,445.7 713.01,444.9 713.20,444 713.39,443 713.59,442.1 713.78,441.1 713.97,440.1 714.16,439.2 714.35,438.3 714.55,437.4 714.74,436.6 714.93,435.9 715.12,435.4 715.32,434.9 715.51,434.6 715.70,434.4 715.89,434.3 715.89,434.3 716.09,434.4 716.28,434.6 716.47,434.9 716.66,435.4 716.85,436 717.05,436.7 717.24,437.6 717.43,438.5 717.62,439.5 717.82,440.5 718.01,441.6 718.20,442.7 718.39,443.9 718.59,445 718.78,446.1 718.97,447.2 719.16,448.2 719.35,449.1 719.55,449.9 719.74,450.7 719.93,451.3 720.12,451.8 720.32,452.1 720.51,452.4 720.70,452.5 720.73,452.5 720.89,452.4 721.09,452.3 721.28,452.1 721.47,451.7 721.66,451.3 721.85,450.8 722.05,450.2 722.24,449.6 722.43,448.9 722.62,448.1 722.82,447.2 723.01,446.3 723.20,445.4 723.39,444.5 723.59,443.5 723.78,442.6 723.97,441.6 724.16,440.7 724.35,439.7 724.55,438.9 724.74,438 724.93,437.2 725.12,436.5 725.32,435.8 725.51,435.3 725.70,434.7 725.89,434.3 726.09,434 726.28,433.8 726.47,433.6 726.64,433.6 726.66,433.6 726.85,433.7 727.05,433.9 727.24,434.3 727.43,434.8 727.62,435.4 727.82,436.2 728.01,437 728.20,438 728.39,439 728.59,440.1 728.78,441.3 728.97,442.5 729.16,443.7 729.35,445 729.55,446.2 729.74,447.5 729.93,448.7 730.12,449.8 730.32,450.9 730.51,451.9 730.70,452.8 730.89,453.7 731.09,454.4 731.28,454.9 731.47,455.4 731.66,455.7 731.85,455.9 732.01,456 732.05,456 732.24,455.8 732.43,455.5 732.62,455 732.82,454.3 733.01,453.5 733.20,452.4 733.39,451.3 733.59,450 733.78,448.6 733.97,447.1 734.16,445.6 734.35,444 734.55,442.4 734.74,440.7 734.93,439.1 735.12,437.5 735.32,436 735.51,434.6 735.70,433.2 735.89,432 736.09,430.9 736.28,430 736.47,429.3 736.66,428.7 736.85,428.3 737.05,428.1 737.17,428 737.24,428 737.43,428.2 737.62,428.6 737.82,429.3 738.01,430.1 738.20,431.1 738.39,432.4 738.59,433.7 738.78,435.2 738.97,436.9 739.16,438.6 739.35,440.4 739.55,442.3 739.74,444.2 739.93,446 740.12,447.9 740.32,449.7 740.51,451.3 740.70,452.9 740.89,454.4 741.09,455.7 741.28,456.8 741.47,457.8 741.66,458.5 741.85,459 742.05,459.4 742.22,459.4 742.24,459.4 742.43,459.3 742.62,459 742.82,458.5 743.01,457.9 743.20,457 743.39,456.1 743.59,454.9 743.78,453.6 743.97,452.2 744.16,450.8 744.35,449.2 744.55,447.6 744.74,445.9 744.93,444.2 745.12,442.5 745.32,440.9 745.51,439.3 745.70,437.7 745.89,436.2 746.09,434.9 746.28,433.6 746.47,432.5 746.66,431.6 746.85,430.8 747.05,430.2 747.24,429.7 747.43,429.5 747.59,429.4 747.62,429.4 747.82,429.5 748.01,429.8 748.20,430.2 748.39,430.7 748.59,431.4 748.78,432.2 748.97,433.2 749.16,434.2 749.35,435.3 749.55,436.6 749.74,437.8 749.93,439.2 750.12,440.5 750.32,441.9 750.51,443.3 750.70,444.6 750.89,445.9 751.09,447.2 751.28,448.4 751.47,449.5 751.66,450.5 751.85,451.4 752.05,452.1 752.24,452.8 752.43,453.3 752.62,453.6 752.82,453.8 752.97,453.9 753.01,453.9 753.20,453.8 753.39,453.6 753.59,453.3 753.78,452.9 753.97,452.5 754.16,451.9 754.35,451.2 754.55,450.5 754.74,449.7 754.93,448.9 755.12,448 755.32,447.1 755.51,446.2 755.70,445.2 755.89,444.3 756.09,443.4 756.28,442.5 756.47,441.6 756.66,440.8 756.85,440.1 757.05,439.4 757.24,438.8 757.43,438.2 757.62,437.8 757.82,437.5 758.01,437.3 758.20,437.1 758.34,437.1 758.39,437.1 758.59,437.1 758.78,437.2 758.97,437.2 759.16,437.4 759.35,437.5 759.55,437.6 759.74,437.8 759.93,438 760.12,438.2 760.32,438.5 760.51,438.7 760.70,439 760.89,439.2 761.09,439.5 761.28,439.7 761.47,440 761.66,440.2 761.85,440.5 762.05,440.7 762.24,440.9 762.43,441.1 762.62,441.3 762.82,441.4 763.01,441.5 763.20,441.6 763.39,441.7 763.59,441.7 763.71,441.7 763.78,441.7 763.97,441.9 764.16,442.3 764.35,443 764.55,443.8 764.74,444.8 764.93,445.9 765.12,447.2 765.32,448.4 765.51,449.7 765.70,450.9 765.89,452 766.09,453.1 766.28,453.9 766.47,454.6 766.66,455 766.85,455.2 766.94,455.3 767.05,455.2 767.24,454.9 767.43,454.4 767.62,453.6 767.82,452.6 768.01,451.4 768.20,449.9 768.39,448.3 768.59,446.5 768.78,444.6 768.97,442.6 769.16,440.6 769.35,438.5 769.55,436.4 769.74,434.4 769.93,432.4 770.12,430.5 770.32,428.7 770.51,427.1 770.70,425.6 770.89,424.4 771.09,423.4 771.28,422.6 771.47,422.1 771.66,421.8 771.77,421.7 771.85,421.8 772.05,422.2 772.24,423 772.43,424.3 772.62,426 772.82,428.1 773.01,430.5 773.20,433.2 773.39,436.1 773.59,439.2 773.78,442.5 773.97,445.8 774.16,449.2 774.35,452.5 774.55,455.7 774.74,458.8 774.93,461.6 775.12,464.2 775.32,466.5 775.51,468.4 775.70,470 775.89,471.1 776.09,471.8 776.28,472 776.29,472 776.47,471.8 776.66,471.2 776.85,470.2 777.05,468.7 777.24,466.9 777.43,464.7 777.62,462.2 777.82,459.3 778.01,456.3 778.20,453 778.39,449.5 778.59,445.9 778.78,442.3 778.97,438.6 779.16,434.9 779.35,431.4 779.55,427.9 779.74,424.6 779.93,421.6 780.12,418.8 780.32,416.3 780.51,414.1 780.70,412.3 780.89,410.9 781.09,409.9 781.28,409.3 781.45,409.2 781.47,409.2 781.66,409.5 781.85,410.3 782.05,411.7 782.24,413.5 782.43,415.8 782.62,418.5 782.82,421.6 783.01,425 783.20,428.7 783.39,432.6 783.59,436.7 783.78,440.8 783.97,445 784.16,449.2 784.35,453.2 784.55,457.1 784.74,460.8 784.93,464.1 785.12,467.2 785.32,469.8 785.51,472.1 785.70,473.9 785.89,475.2 786.09,475.9 786.28,476.2 786.28,476.2 786.47,476 786.66,475.3 786.85,474.2 787.05,472.7 787.24,470.8 787.43,468.5 787.62,465.9 787.82,462.9 788.01,459.7 788.20,456.3 788.39,452.8 788.59,449.1 788.78,445.3 788.97,441.6 789.16,437.9 789.35,434.3 789.55,430.8 789.74,427.5 789.93,424.5 790.12,421.8 790.32,419.4 790.51,417.4 790.70,415.7 790.89,414.5 791.09,413.7 791.28,413.4 791.33,413.3 791.47,413.4 791.66,413.9 791.85,414.6 792.05,415.7 792.24,417.1 792.43,418.9 792.62,420.8 792.82,423.1 793.01,425.5 793.20,428.2 793.39,430.9 793.59,433.8 793.78,436.8 793.97,439.8 794.16,442.7 794.35,445.7 794.55,448.5 794.74,451.2 794.93,453.7 795.12,456 795.32,458.1 795.51,459.9 795.70,461.4 795.89,462.7 796.09,463.6 796.28,464.1 796.47,464.3 796.49,464.3 796.66,464.2 796.85,463.9 797.05,463.4 797.24,462.7 797.43,461.7 797.62,460.6 797.82,459.2 798.01,457.8 798.20,456.1 798.39,454.4 798.59,452.6 798.78,450.6 798.97,448.7 799.16,446.7 799.35,444.7 799.55,442.7 799.74,440.8 799.93,438.9 800.12,437.2 800.32,435.5 800.51,434 800.70,432.7 800.89,431.5 801.09,430.5 801.28,429.7 801.47,429.2 801.66,428.8 801.85,428.7 801.86,428.7 802.05,428.8 802.24,429 802.43,429.3 802.62,429.8 802.82,430.3 803.01,431 803.20,431.8 803.39,432.8 803.59,433.8 803.78,434.8 803.97,436 804.16,437.2 804.35,438.5 804.55,439.8 804.74,441.1 804.93,442.4 805.12,443.7 805.32,445 805.51,446.3 805.70,447.5 805.89,448.6 806.09,449.7 806.28,450.7 806.47,451.6 806.66,452.4 806.85,453 807.05,453.6 807.24,454 807.43,454.3 807.62,454.5 807.77,454.6 807.82,454.6 808.01,454.5 808.20,454.3 808.39,454.1 808.59,453.7 808.78,453.3 808.97,452.8 809.16,452.2 809.35,451.5 809.55,450.8 809.74,450 809.93,449.1 810.12,448.2 810.32,447.3 810.51,446.3 810.70,445.3 810.89,444.3 811.09,443.3 811.28,442.3 811.47,441.3 811.66,440.3 811.85,439.3 812.05,438.4 812.24,437.6 812.43,436.8 812.62,436 812.82,435.3 813.01,434.7 813.20,434.2 813.39,433.8 813.59,433.4 813.78,433.2 813.97,433 814.16,432.9 814.22,432.9 814.35,432.9 814.55,433.1 814.74,433.3 814.93,433.7 815.12,434.2 815.32,434.8 815.51,435.5 815.70,436.3 815.89,437.2 816.09,438.1 816.28,439.1 816.47,440.2 816.66,441.3 816.85,442.5 817.05,443.6 817.24,444.8 817.43,446 817.62,447.1 817.82,448.3 818.01,449.4 818.20,450.4 818.39,451.4 818.59,452.3 818.78,453.1 818.97,453.8 819.16,454.5 819.35,455 819.55,455.4 819.74,455.7 819.93,455.9 820.12,456 820.13,456 820.32,455.9 820.51,455.7 820.70,455.3 820.89,454.9 821.09,454.2 821.28,453.5 821.47,452.6 821.66,451.7 821.85,450.6 822.05,449.4 822.24,448.2 822.43,446.9 822.62,445.5 822.82,444.1 823.01,442.7 823.20,441.2 823.39,439.8 823.59,438.3 823.78,436.9 823.97,435.5 824.16,434.2 824.35,432.9 824.55,431.7 824.74,430.6 824.93,429.6 825.12,428.7 825.32,428 825.51,427.3 825.70,426.8 825.89,426.4 826.09,426.1 826.28,426 826.33,426 826.47,426.1 826.66,426.4 826.85,426.8 827.05,427.5 827.24,428.4 827.43,429.5 827.62,430.8 827.82,432.2 828.01,433.7 828.20,435.4 828.39,437.2 828.59,439.1 828.78,441 828.97,443 829.16,445 829.35,446.9 829.55,448.9 829.74,450.7 829.93,452.5 830.12,454.2 830.32,455.8 830.51,457.2 830.70,458.4 830.89,459.5 831.09,460.4 831.28,461.1 831.47,461.6 831.66,461.8 831.80,461.9 831.85,461.9 832.05,461.7 832.24,461.3 832.43,460.7 832.62,460 832.82,459 833.01,457.8 833.20,456.5 833.39,455 833.59,453.4 833.78,451.6 833.97,449.7 834.16,447.8 834.35,445.7 834.55,443.6 834.74,441.5 834.93,439.4 835.12,437.3 835.32,435.2 835.51,433.1 835.70,431.2 835.89,429.3 836.09,427.5 836.28,425.9 836.47,424.4 836.66,423 836.85,421.9 837.05,420.9 837.24,420.1 837.43,419.5 837.62,419.1 837.82,418.9 837.88,418.9 838.01,419 838.20,419.4 838.39,420.2 838.59,421.3 838.78,422.7 838.97,424.4 839.16,426.4 839.35,428.7 839.55,431.2 839.74,433.9 839.93,436.7 840.12,439.7 840.32,442.7 840.51,445.8 840.70,448.8 840.89,451.9 841.09,454.8 841.28,457.6 841.47,460.3 841.66,462.7 841.85,464.9 842.05,466.9 842.24,468.6 842.43,470 842.62,471 842.82,471.7 843.01,472.1 843.11,472.1 843.20,472.1 843.39,471.7 843.59,470.8 843.78,469.5 843.97,467.8 844.16,465.7 844.35,463.3 844.55,460.5 844.74,457.5 844.93,454.2 845.12,450.7 845.32,447.1 845.51,443.4 845.70,439.6 845.89,435.9 846.09,432.2 846.28,428.7 846.47,425.3 846.66,422.1 846.85,419.1 847.05,416.5 847.24,414.2 847.43,412.3 847.62,410.7 847.82,409.6 848.01,408.9 848.20,408.6 848.22,408.6 848.39,408.8 848.59,409.4 848.78,410.5 848.97,411.9 849.16,413.8 849.35,416 849.55,418.6 849.74,421.5 849.93,424.6 850.12,428 850.32,431.6 850.51,435.4 850.70,439.2 850.89,443.1 851.09,447.1 851.28,451 851.47,454.8 851.66,458.5 851.85,462 852.05,465.3 852.24,468.4 852.43,471.2 852.62,473.6 852.82,475.7 853.01,477.4 853.20,478.7 853.39,479.5 853.59,480 853.69,480.1 853.78,480 853.97,479.5 854.16,478.5 854.35,477 854.55,475.1 854.74,472.7 854.93,469.9 855.12,466.7 855.32,463.2 855.51,459.5 855.70,455.4 855.89,451.2 856.09,446.9 856.28,442.5 856.47,438.1 856.66,433.8 856.85,429.6 857.05,425.5 857.24,421.7 857.43,418.1 857.62,414.8 857.82,411.9 858.01,409.4 858.20,407.4 858.39,405.8 858.59,404.7 858.78,404 858.92,403.9 858.97,403.9 859.16,404.3 859.35,405.1 859.55,406.4 859.74,408.1 859.93,410.3 860.12,412.8 860.32,415.7 860.51,418.9 860.70,422.4 860.89,426.1 861.09,430.1 861.28,434.2 861.47,438.4 861.66,442.6 861.85,446.8 862.05,451 862.24,455.1 862.43,459 862.62,462.7 862.82,466.2 863.01,469.4 863.20,472.2 863.39,474.7 863.59,476.8 863.78,478.5 863.97,479.7 864.16,480.5 864.35,480.8 864.39,480.8 864.55,480.7 864.74,480.1 864.93,479.1 865.12,477.6 865.32,475.7 865.51,473.5 865.70,470.9 865.89,467.9 866.09,464.7 866.28,461.2 866.47,457.5 866.66,453.6 866.85,449.6 867.05,445.6 867.24,441.5 867.43,437.5 867.62,433.5 867.82,429.7 868.01,426 868.20,422.6 868.39,419.4 868.59,416.5 868.78,414 868.97,411.8 869.16,410 869.35,408.6 869.55,407.7 869.74,407.2 869.86,407.1 869.93,407.1 870.12,407.4 870.32,408.2 870.51,409.3 870.70,410.9 870.89,412.7 871.09,414.9 871.28,417.4 871.47,420.2 871.66,423.2 871.85,426.5 872.05,429.8 872.24,433.3 872.43,436.9 872.62,440.5 872.82,444 873.01,447.5 873.20,450.9 873.39,454.1 873.59,457.2 873.78,460 873.97,462.5 874.16,464.7 874.35,466.6 874.55,468.2 874.74,469.4 874.93,470.1 875.12,470.5 875.21,470.6 875.32,470.5 875.51,470.4 875.70,470 875.89,469.5 876.09,468.7 876.28,467.9 876.47,466.8 876.66,465.7 876.85,464.4 877.05,462.9 877.24,461.3 877.43,459.7 877.62,457.9 877.82,456.1 878.01,454.2 878.20,452.2 878.39,450.2 878.59,448.2 878.78,446.2 878.97,444.2 879.16,442.2 879.35,440.3 879.55,438.5 879.74,436.7 879.93,435 880.12,433.4 880.32,431.9 880.51,430.5 880.70,429.3 880.89,428.2 881.09,427.3 881.28,426.6 881.47,426 881.66,425.6 881.85,425.3 882.02,425.2 882.05,425.2 882.24,425.4 882.43,425.9 882.62,426.6 882.82,427.5 883.01,428.8 883.20,430.2 883.39,431.9 883.59,433.8 883.78,435.9 883.97,438.2 884.16,440.6 884.35,443.1 884.55,445.8 884.74,448.5 884.93,451.3 885.12,454.2 885.32,457 885.51,459.8 885.70,462.6 885.89,465.3 886.09,467.9 886.28,470.4 886.47,472.8 886.66,475 886.85,477 887.05,478.8 887.24,480.4 887.43,481.8 887.62,482.9 887.82,483.8 888.01,484.4 888.20,484.7 888.34,484.8 888.39,484.8 888.59,484.3 888.78,483.1 888.97,481.2 889.16,478.7 889.35,475.6 889.55,472 889.74,467.8 889.93,463.1 890.12,458.1 890.32,452.6 890.51,446.9 890.70,441 890.89,434.9 891.09,428.7 891.28,422.6 891.47,416.5 891.66,410.6 891.85,404.9 892.05,399.5 892.24,394.4 892.43,389.8 892.62,385.6 892.82,382 893.01,379 893.20,376.5 893.39,374.7 893.59,373.6 893.78,373.1 893.82,373.1 893.97,373.4 894.16,374.9 894.35,377.4 894.55,381 894.74,385.6 894.93,391.1 895.12,397.5 895.32,404.7 895.51,412.5 895.70,421 895.89,429.9 896.09,439.1 896.28,448.6 896.47,458.2 896.66,467.8 896.85,477.2 897.05,486.3 897.24,495.1 897.43,503.3 897.62,510.9 897.82,517.7 898.01,523.8 898.20,528.9 898.39,533.1 898.59,536.2 898.78,538.3 898.97,539.2 899.04,539.3 899.16,539 899.35,537.4 899.55,534.2 899.74,529.7 899.93,523.7 900.12,516.5 900.32,508.1 900.51,498.7 900.70,488.3 900.89,477.1 901.09,465.3 901.28,453.1 901.47,440.5 901.66,427.8 901.85,415.2 902.05,402.8 902.24,390.9 902.43,379.5 902.62,368.8 902.82,359 903.01,350.3 903.20,342.7 903.39,336.3 903.59,331.3 903.78,327.7 903.97,325.5 904.15,324.9 904.16,324.9 904.35,326 904.55,329 904.74,333.8 904.93,340.5 905.12,348.9 905.32,358.8 905.51,370.2 905.70,382.8 905.89,396.5 906.09,410.9 906.28,426 906.47,441.5 906.66,457.1 906.85,472.6 907.05,487.8 907.24,502.4 907.43,516.2 907.62,529 907.82,540.6 908.01,550.8 908.20,559.5 908.39,566.5 908.59,571.7 908.78,575 908.97,576.4 909.02,576.5 909.16,575.9 909.35,573.5 909.55,569.2 909.74,563.1 909.93,555.3 910.12,545.9 910.32,534.9 910.51,522.7 910.70,509.2 910.89,494.9 911.09,479.7 911.28,464 911.47,447.9 911.66,431.7 911.85,415.6 912.05,399.9 912.24,384.7 912.43,370.3 912.62,356.9 912.82,344.6 913.01,333.6 913.20,324.1 913.39,316.3 913.59,310.1 913.78,305.8 913.97,303.3 914.12,302.7 914.16,302.8 914.35,304 914.55,306.8 914.74,311.3 914.93,317.4 915.12,325 915.32,334 915.51,344.3 915.70,355.9 915.89,368.5 916.09,382 916.28,396.2 916.47,411.1 916.66,426.4 916.85,441.9 917.05,457.5 917.24,473 917.43,488.1 917.62,502.8 917.82,516.8 918.01,530.1 918.20,542.3 918.39,553.5 918.59,563.4 918.78,571.9 918.97,579 919.16,584.6 919.35,588.5 919.55,590.8 919.72,591.5 919.74,591.5 919.93,590.1 920.12,586.4 920.32,580.6 920.51,572.7 920.70,562.8 920.89,551.1 921.09,537.6 921.28,522.7 921.47,506.5 921.66,489.2 921.85,471.1 922.05,452.5 922.24,433.5 922.43,414.5 922.62,395.7 922.82,377.4 923.01,359.8 923.20,343.2 923.39,327.9 923.59,314 923.78,301.7 923.97,291.2 924.16,282.6 924.35,276.2 924.55,271.8 924.74,269.7 924.82,269.5 924.93,270 925.12,273.1 925.32,279 925.51,287.7 925.70,299 925.89,312.8 926.09,328.7 926.28,346.7 926.47,366.4 926.66,387.5 926.85,409.7 927.05,432.6 927.24,455.9 927.43,479.2 927.62,502.3 927.82,524.6 928.01,545.9 928.20,565.8 928.39,584.1 928.59,600.4 928.78,614.5 928.97,626.2 929.16,635.3 929.35,641.7 929.55,645.3 929.69,646 929.74,645.9 929.93,643.8 930.12,638.9 930.32,631.4 930.51,621.2 930.70,608.7 930.89,593.8 931.09,576.9 931.28,558.2 931.47,537.8 931.66,516.1 931.85,493.4 932.05,470 932.24,446.1 932.43,422.2 932.62,398.4 932.82,375.2 933.01,352.8 933.20,331.6 933.39,311.8 933.59,293.6 933.78,277.5 933.97,263.4 934.16,251.7 934.35,242.5 934.55,235.9 934.74,232 934.92,230.8 934.93,230.8 935.12,233 935.32,238.7 935.51,248 935.70,260.6 935.89,276.4 936.09,295 936.28,316 936.47,339.3 936.66,364.2 936.85,390.4 937.05,417.3 937.24,444.6 937.43,471.7 937.62,498.1 937.82,523.4 938.01,547 938.20,568.6 938.39,587.8 938.59,604.2 938.78,617.6 938.97,627.6 939.16,634.2 939.35,637.2 939.41,637.3 939.55,636.8 939.74,633.9 939.93,628.6 940.12,621.1 940.32,611.3 940.51,599.5 940.70,585.8 940.89,570.3 941.09,553.4 941.28,535.3 941.47,516.1 941.66,496.2 941.85,475.8 942.05,455.3 942.24,434.9 942.43,414.9 942.62,395.6 942.82,377.2 943.01,360 943.20,344.3 943.39,330.3 943.59,318.1 943.78,308 943.97,300 944.16,294.3 944.35,291 944.52,290.1 944.55,290.1 944.74,291.2 944.93,294 945.12,298.4 945.32,304.5 945.51,312 945.70,321 945.89,331.3 946.09,342.8 946.28,355.3 946.47,368.6 946.66,382.6 946.85,397 947.05,411.8 947.24,426.6 947.43,441.4 947.62,455.8 947.82,469.8 948.01,483 948.20,495.4 948.39,506.8 948.59,517 948.78,525.9 948.97,533.4 949.16,539.3 949.35,543.6 949.55,546.3 949.74,547.2 949.75,547.2 949.93,546.9 950.12,545.6 950.32,543.6 950.51,540.7 950.70,537 950.89,532.6 951.09,527.4 951.28,521.6 951.47,515.1 951.66,508.1 951.85,500.5 952.05,492.6 952.24,484.2 952.43,475.6 952.62,466.7 952.82,457.7 953.01,448.6 953.20,439.5 953.39,430.5 953.59,421.7 953.78,413.2 953.97,405 954.16,397.1 954.35,389.8 954.55,383 954.74,376.7 954.93,371.1 955.12,366.2 955.32,362.1 955.51,358.7 955.70,356.1 955.89,354.4 956.09,353.5 956.20,353.3 956.28,353.4 956.47,354.4 956.66,356.4 956.85,359.4 957.05,363.4 957.24,368.4 957.43,374.2 957.62,380.9 957.82,388.4 958.01,396.6 958.20,405.4 958.39,414.7 958.59,424.4 958.78,434.5 958.97,444.9 959.16,455.4 959.35,465.9 959.55,476.4 959.74,486.7 959.93,496.7 960.12,506.4 960.32,515.6 960.51,524.2 960.70,532.2 960.89,539.5 961.09,546 961.28,551.6 961.47,556.4 961.66,560.1 961.85,562.9 962.05,564.7 962.24,565.4 962.28,565.4 962.43,564.7 962.62,561.9 962.82,556.9 963.01,549.9 963.20,541 963.39,530.3 963.59,517.9 963.78,504.1 963.97,489.1 964.16,473.1 964.35,456.4 964.55,439.1 964.74,421.7 964.93,404.2 965.12,387.1 965.32,370.6 965.51,354.9 965.70,340.3 965.89,326.9 966.09,315.1 966.28,305 966.47,296.7 966.66,290.4 966.85,286.1 967.05,284 967.14,283.8 967.24,284.1 967.43,286.8 967.62,292.1 967.82,299.9 968.01,310 968.20,322.4 968.39,336.8 968.59,353.1 968.78,370.9 968.97,390 969.16,410.1 969.35,430.8 969.55,452 969.74,473.2 969.93,494.1 970.12,514.4 970.32,533.7 970.51,551.9 970.70,568.5 970.89,583.4 971.09,596.4 971.28,607.1 971.47,615.5 971.66,621.4 971.85,624.7 972.00,625.5 972.05,625.4 972.24,623.6 972.43,619.2 972.62,612.5 972.82,603.4 973.01,592.1 973.20,578.7 973.39,563.5 973.59,546.6 973.78,528.3 973.97,508.8 974.16,488.4 974.35,467.5 974.55,446.2 974.74,424.9 974.93,403.9 975.12,383.5 975.32,363.9 975.51,345.5 975.70,328.4 975.89,313 976.09,299.4 976.28,287.9 976.47,278.6 976.66,271.6 976.85,267 977.05,264.9 977.11,264.8 977.24,265.4 977.43,268.3 977.62,273.6 977.82,281.3 978.01,291.2 978.20,303.1 978.39,317 978.59,332.5 978.78,349.5 978.97,367.7 979.16,386.7 979.35,406.3 979.55,426.3 979.74,446.2 979.93,465.9 980.12,484.9 980.32,503 980.51,519.9 980.70,535.3 980.89,549.1 981.09,561 981.28,570.8 981.47,578.3 981.66,583.5 981.85,586.3 981.97,586.8 982.05,586.6 982.24,585 982.43,581.5 982.62,576.3 982.82,569.4 983.01,560.9 983.20,550.9 983.39,539.7 983.59,527.3 983.78,514 983.97,499.9 984.16,485.3 984.35,470.5 984.55,455.5 984.74,440.8 984.93,426.4 985.12,412.7 985.32,399.8 985.51,387.9 985.70,377.2 985.89,367.9 986.09,360.1 986.28,354 986.47,349.6 986.66,347 986.84,346.2 986.85,346.2 987.05,346.7 987.24,347.9 987.43,350 987.62,352.8 987.82,356.3 988.01,360.5 988.20,365.4 988.39,370.9 988.59,377 988.78,383.5 988.97,390.5 989.16,397.8 989.35,405.4 989.55,413.2 989.74,421.2 989.93,429.2 990.12,437.2 990.32,445.1 990.51,452.8 990.70,460.3 990.89,467.4 991.09,474.1 991.28,480.4 991.47,486.2 991.66,491.3 991.85,495.8 992.05,499.7 992.24,502.8 992.43,505.2 992.62,506.8 992.82,507.6 992.92,507.7 993.01,507.6 993.20,507 993.39,505.6 993.59,503.6 993.78,500.9 993.97,497.6 994.16,493.8 994.35,489.4 994.55,484.4 994.74,479.1 994.93,473.4 995.12,467.3 995.32,461 995.51,454.5 995.70,447.9 995.89,441.2 996.09,434.5 996.28,428 996.47,421.6 996.66,415.4 996.85,409.5 997.05,404 997.24,398.9 997.43,394.3 997.62,390.2 997.82,386.7 998.01,383.7 998.20,381.5 998.39,379.8 998.59,378.9 998.75,378.6 998.78,378.6 998.97,379.1 999.16,380.3 999.35,382.3 999.55,384.9 999.74,388.3 999.93,392.2 1000.12,396.8 1000.32,401.9 1000.51,407.4 1000.70,413.4 1000.89,419.6 1001.09,426.1 1001.28,432.7 1001.47,439.4 1001.66,446.1 1001.85,452.7 1002.05,459.1 1002.24,465.2 1002.43,471 1002.62,476.4 1002.82,481.2 1003.01,485.5 1003.20,489.3 1003.39,492.3 1003.59,494.7 1003.78,496.3 1003.97,497.3 1004.11,497.4 1004.16,497.4 1004.35,497 1004.55,496.1 1004.74,494.8 1004.93,493 1005.12,490.7 1005.32,488 1005.51,484.9 1005.70,481.5 1005.89,477.7 1006.09,473.7 1006.28,469.4 1006.47,464.9 1006.66,460.3 1006.85,455.6 1007.05,450.9 1007.24,446.1 1007.43,441.4 1007.62,436.9 1007.82,432.4 1008.01,428.2 1008.20,424.2 1008.39,420.5 1008.59,417.2 1008.78,414.2 1008.97,411.6 1009.16,409.5 1009.35,407.8 1009.55,406.5 1009.74,405.8 1009.93,405.5 1009.94,405.5 1010.12,405.6 1010.32,406.1 1010.51,407 1010.70,408.1 1010.89,409.6 1011.09,411.3 1011.28,413.4 1011.47,415.7 1011.66,418.3 1011.85,421 1012.05,424 1012.24,427.1 1012.43,430.3 1012.62,433.7 1012.82,437.1 1013.01,440.5 1013.20,443.9 1013.39,447.3 1013.59,450.6 1013.78,453.8 1013.97,456.9 1014.16,459.8 1014.35,462.5 1014.55,465 1014.74,467.2 1014.93,469.2 1015.12,470.9 1015.32,472.3 1015.51,473.3 1015.70,474 1015.89,474.4 1016.02,474.5 1016.09,474.5 1016.28,474.2 1016.47,473.5 1016.66,472.5 1016.85,471.1 1017.05,469.4 1017.24,467.4 1017.43,465.2 1017.62,462.6 1017.82,459.9 1018.01,456.9 1018.20,453.8 1018.39,450.6 1018.59,447.3 1018.78,444 1018.97,440.7 1019.16,437.4 1019.35,434.2 1019.55,431.1 1019.74,428.2 1019.93,425.5 1020.12,423 1020.32,420.8 1020.51,418.9 1020.70,417.2 1020.89,416 1021.09,415 1021.28,414.4 1021.47,414.2 1021.49,414.2 1021.66,414.3 1021.85,414.5 1022.05,415 1022.24,415.7 1022.43,416.5 1022.62,417.6 1022.82,418.8 1023.01,420.2 1023.20,421.8 1023.39,423.4 1023.59,425.3 1023.78,427.2 1023.97,429.3 1024.16,431.4 1024.35,433.6 1024.55,435.9 1024.74,438.1 1024.93,440.5 1025.12,442.8 1025.32,445.1 1025.51,447.4 1025.70,449.6 1025.89,451.7 1026.09,453.8 1026.28,455.8 1026.47,457.6 1026.66,459.4 1026.85,460.9 1027.05,462.4 1027.24,463.7 1027.43,464.8 1027.62,465.7 1027.82,466.4 1028.01,466.9 1028.20,467.3 1028.39,467.4 1028.42,467.4 1028.59,467.3 1028.78,466.9 1028.97,466.2 1029.16,465.2 1029.35,463.8 1029.55,462.3 1029.74,460.4 1029.93,458.3 1030.12,455.9 1030.32,453.4 1030.51,450.6 1030.70,447.7 1030.89,444.6 1031.09,441.4 1031.28,438 1031.47,434.6 1031.66,431.2 1031.85,427.7 1032.05,424.2 1032.24,420.8 1032.43,417.4 1032.62,414.1 1032.82,410.9 1033.01,407.8 1033.20,404.9 1033.39,402.2 1033.59,399.7 1033.78,397.4 1033.97,395.4 1034.16,393.6 1034.35,392.1 1034.55,390.8 1034.74,389.9 1034.93,389.3 1035.12,388.9 1035.23,388.9 1035.32,389 1035.51,390 1035.70,392 1035.89,395 1036.09,399 1036.28,404 1036.47,409.7 1036.66,416.2 1036.85,423.3 1037.05,431 1037.24,439 1037.43,447.4 1037.62,455.9 1037.82,464.5 1038.01,472.9 1038.20,481.1 1038.39,489 1038.59,496.3 1038.78,503.1 1038.97,509.2 1039.16,514.5 1039.35,518.9 1039.55,522.4 1039.74,524.8 1039.93,526.3 1040.10,526.7 1040.12,526.7 1040.32,525.8 1040.51,523.5 1040.70,519.8 1040.89,514.8 1041.09,508.6 1041.28,501.2 1041.47,492.8 1041.66,483.5 1041.85,473.4 1042.05,462.8 1042.24,451.7 1042.43,440.3 1042.62,428.9 1042.82,417.5 1043.01,406.4 1043.20,395.7 1043.39,385.7 1043.59,376.4 1043.78,367.9 1043.97,360.5 1044.16,354.3 1044.35,349.3 1044.55,345.5 1044.74,343.2 1044.93,342.3 1044.96,342.3 1045.12,342.7 1045.32,344.6 1045.51,347.8 1045.70,352.4 1045.89,358.2 1046.09,365.1 1046.28,373.2 1046.47,382.2 1046.66,392 1046.85,402.6 1047.05,413.6 1047.24,425.1 1047.43,436.8 1047.62,448.6 1047.82,460.3 1048.01,471.8 1048.20,482.8 1048.39,493.2 1048.59,503 1048.78,511.9 1048.97,519.8 1049.16,526.6 1049.35,532.2 1049.55,536.6 1049.74,539.7 1049.93,541.3 1050.07,541.7 1050.12,541.6 1050.32,540.6 1050.51,538.1 1050.70,534.4 1050.89,529.3 1051.09,523.1 1051.28,515.8 1051.47,507.5 1051.66,498.4 1051.85,488.5 1052.05,478.1 1052.24,467.3 1052.43,456.3 1052.62,445.2 1052.82,434.2 1053.01,423.5 1053.20,413.2 1053.39,403.5 1053.59,394.6 1053.78,386.6 1053.97,379.6 1054.16,373.7 1054.35,369 1054.55,365.6 1054.74,363.5 1054.93,362.8 1054.93,362.8 1055.12,363.2 1055.32,364.5 1055.51,366.7 1055.70,369.7 1055.89,373.4 1056.09,377.9 1056.28,383.1 1056.47,388.9 1056.66,395.3 1056.85,402.2 1057.05,409.4 1057.24,417 1057.43,424.7 1057.62,432.6 1057.82,440.5 1058.01,448.4 1058.20,456 1058.39,463.4 1058.59,470.5 1058.78,477.1 1058.97,483.2 1059.16,488.7 1059.35,493.5 1059.55,497.6 1059.74,501 1059.93,503.5 1060.12,505.2 1060.32,506 1060.41,506.1 1060.51,506 1060.70,505.4 1060.89,504.1 1061.09,502.1 1061.28,499.6 1061.47,496.5 1061.66,492.9 1061.85,488.7 1062.05,484.1 1062.24,479.1 1062.43,473.7 1062.62,468.1 1062.82,462.2 1063.01,456.1 1063.20,449.9 1063.39,443.7 1063.59,437.5 1063.78,431.3 1063.97,425.4 1064.16,419.7 1064.35,414.2 1064.55,409.1 1064.74,404.4 1064.93,400.1 1065.12,396.3 1065.32,393 1065.51,390.3 1065.70,388.3 1065.89,386.8 1066.09,385.9 1066.24,385.7 1066.28,385.7 1066.47,386.2 1066.66,387.3 1066.85,389.1 1067.05,391.6 1067.24,394.6 1067.43,398.3 1067.62,402.4 1067.82,407 1068.01,412.1 1068.20,417.5 1068.39,423.2 1068.59,429.1 1068.78,435.2 1068.97,441.3 1069.16,447.5 1069.35,453.6 1069.55,459.5 1069.74,465.2 1069.93,470.7 1070.12,475.7 1070.32,480.4 1070.51,484.6 1070.70,488.3 1070.89,491.4 1071.09,493.8 1071.28,495.7 1071.47,496.9 1071.66,497.4 1071.71,497.4 1071.85,497.2 1072.05,496.3 1072.24,494.6 1072.43,492.2 1072.62,489.1 1072.82,485.4 1073.01,481.1 1073.20,476.3 1073.39,471 1073.59,465.4 1073.78,459.6 1073.97,453.5 1074.16,447.4 1074.35,441.2 1074.55,435.2 1074.74,429.4 1074.93,423.8 1075.12,418.6 1075.32,413.9 1075.51,409.7 1075.70,406.1 1075.89,403.1 1076.09,400.9 1076.28,399.3 1076.47,398.5 1076.58,398.4 1076.66,398.4 1076.85,398.9 1077.05,399.8 1077.24,401.3 1077.43,403.2 1077.62,405.5 1077.82,408.2 1078.01,411.3 1078.20,414.7 1078.39,418.4 1078.59,422.3 1078.78,426.4 1078.97,430.5 1079.16,434.8 1079.35,439 1079.55,443.1 1079.74,447.1 1079.93,451 1080.12,454.6 1080.32,457.9 1080.51,460.8 1080.70,463.4 1080.89,465.6 1081.09,467.4 1081.28,468.7 1081.47,469.5 1081.66,469.8 1081.68,469.8 1081.85,469.5 1082.05,468.4 1082.24,466.7 1082.43,464.4 1082.62,461.6 1082.82,458.5 1083.01,455.2 1083.20,452 1083.39,449 1083.59,446.3 1083.78,444.2 1083.97,442.6 1084.16,441.8 1084.27,441.7 1084.35,441.7 1084.55,441.6 1084.74,441.5 1084.93,441.2 1085.12,440.9 1085.32,440.4 1085.51,439.9 1085.70,439.4 1085.89,438.7 1086.09,438 1086.28,437.3 1086.47,436.5 1086.66,435.6 1086.85,434.8 1087.05,433.9 1087.24,433 1087.43,432.1 1087.62,431.2 1087.82,430.3 1088.01,429.5 1088.20,428.7 1088.39,427.9 1088.59,427.2 1088.78,426.5 1088.97,425.9 1089.16,425.4 1089.35,424.9 1089.55,424.5 1089.74,424.2 1089.93,424 1090.12,423.9 1090.30,423.8 1090.32,423.9 1090.51,424 1090.70,424.5 1090.89,425.4 1091.09,426.5 1091.28,427.9 1091.47,429.5 1091.66,431.4 1091.85,433.6 1092.05,435.9 1092.24,438.4 1092.43,441 1092.62,443.7 1092.82,446.4 1093.01,449.2 1093.20,452 1093.39,454.7 1093.59,457.4 1093.78,459.9 1093.97,462.2 1094.16,464.4 1094.35,466.4 1094.55,468.1 1094.74,469.6 1094.93,470.8 1095.12,471.7 1095.32,472.3 1095.51,472.6 1095.59,472.6 1095.70,472.6 1095.89,472.2 1096.09,471.4 1096.28,470.3 1096.47,468.9 1096.66,467.1 1096.85,465.1 1097.05,462.8 1097.24,460.3 1097.43,457.6 1097.62,454.7 1097.82,451.7 1098.01,448.7 1098.20,445.6 1098.39,442.6 1098.59,439.6 1098.78,436.7 1098.97,434 1099.16,431.4 1099.35,429.1 1099.55,427 1099.74,425.2 1099.93,423.7 1100.12,422.5 1100.32,421.7 1100.51,421.2 1100.66,421.1 1100.70,421.1 1100.89,421.3 1101.09,421.7 1101.28,422.4 1101.47,423.4 1101.66,424.6 1101.85,426 1102.05,427.6 1102.24,429.4 1102.43,431.5 1102.62,433.7 1102.82,436 1103.01,438.5 1103.20,441.1 1103.39,443.8 1103.59,446.5 1103.78,449.3 1103.97,452.1 1104.16,455 1104.35,457.7 1104.55,460.5 1104.74,463.1 1104.93,465.7 1105.12,468.1 1105.32,470.4 1105.51,472.6 1105.70,474.6 1105.89,476.3 1106.09,477.9 1106.28,479.2 1106.47,480.3 1106.66,481.2 1106.85,481.8 1107.05,482.2 1107.22,482.3 1107.24,482.3 1107.43,481.8 1107.62,480.7 1107.82,479 1108.01,476.6 1108.20,473.5 1108.39,470 1108.59,465.9 1108.78,461.3 1108.97,456.4 1109.16,451.2 1109.35,445.7 1109.55,440 1109.74,434.3 1109.93,428.5 1110.12,422.8 1110.32,417.3 1110.51,412 1110.70,407 1110.89,402.4 1111.09,398.2 1111.28,394.6 1111.47,391.5 1111.66,389 1111.85,387.1 1112.05,385.9 1112.24,385.4 1112.29,385.4 1112.43,385.7 1112.62,387.3 1112.82,390 1113.01,394 1113.20,399 1113.39,405 1113.59,411.8 1113.78,419.3 1113.97,427.3 1114.16,435.6 1114.35,444.1 1114.55,452.5 1114.74,460.7 1114.93,468.4 1115.12,475.5 1115.32,481.9 1115.51,487.4 1115.70,491.8 1115.89,495.1 1116.09,497.2 1116.28,498.1 1116.31,498.1 1116.47,497.8 1116.66,496.8 1116.85,495.1 1117.05,492.6 1117.24,489.6 1117.43,485.9 1117.62,481.6 1117.82,476.9 1118.01,471.8 1118.20,466.3 1118.39,460.7 1118.59,454.9 1118.78,449.1 1118.97,443.4 1119.16,437.8 1119.35,432.6 1119.55,427.6 1119.74,423.1 1119.93,419.1 1120.12,415.7 1120.32,412.9 1120.51,410.8 1120.70,409.4 1120.89,408.8 1120.96,408.7 1121.09,408.8 1121.28,409.1 1121.47,409.6 1121.66,410.3 1121.85,411.3 1122.05,412.4 1122.24,413.8 1122.43,415.3 1122.62,417 1122.82,418.8 1123.01,420.7 1123.20,422.6 1123.39,424.7 1123.59,426.7 1123.78,428.7 1123.97,430.7 1124.16,432.6 1124.35,434.4 1124.55,436.1 1124.74,437.6 1124.93,439 1125.12,440.2 1125.32,441.1 1125.51,441.9 1125.70,442.4 1125.89,442.8 1126.04,442.8 1126.09,442.8 1126.28,443 1126.47,443.4 1126.66,444 1126.85,444.7 1127.05,445.7 1127.24,446.8 1127.43,448.1 1127.62,449.5 1127.82,450.9 1128.01,452.5 1128.20,454 1128.39,455.5 1128.59,457 1128.78,458.4 1128.97,459.8 1129.16,461 1129.35,462 1129.55,462.9 1129.74,463.6 1129.93,464.1 1130.12,464.3 1130.27,464.4 1130.32,464.4 1130.51,464 1130.70,463.1 1130.89,461.8 1131.09,460 1131.28,457.8 1131.47,455.2 1131.66,452.3 1131.85,449.1 1132.05,445.6 1132.24,442 1132.43,438.3 1132.62,434.6 1132.82,430.9 1133.01,427.3 1133.20,423.8 1133.39,420.6 1133.59,417.6 1133.78,415 1133.97,412.7 1134.16,410.8 1134.35,409.4 1134.55,408.5 1134.74,408.1 1134.81,408 1134.93,408.2 1135.12,408.8 1135.32,410.1 1135.51,412 1135.70,414.3 1135.89,417.2 1136.09,420.6 1136.28,424.4 1136.47,428.5 1136.66,432.9 1136.85,437.5 1137.05,442.2 1137.24,447 1137.43,451.8 1137.62,456.5 1137.82,461 1138.01,465.2 1138.20,469.2 1138.39,472.8 1138.59,475.9 1138.78,478.6 1138.97,480.7 1139.16,482.3 1139.35,483.3 1139.55,483.6 1139.57,483.6 1139.74,483.4 1139.93,482.7 1140.12,481.5 1140.32,479.8 1140.51,477.7 1140.70,475.1 1140.89,472.1 1141.09,468.7 1141.28,464.9 1141.47,460.9 1141.66,456.7 1141.85,452.2 1142.05,447.7 1142.24,443 1142.43,438.3 1142.62,433.7 1142.82,429.1 1143.01,424.7 1143.20,420.5 1143.39,416.5 1143.59,412.8 1143.78,409.5 1143.97,406.6 1144.16,404 1144.35,401.9 1144.55,400.3 1144.74,399.2 1144.93,398.6 1145.07,398.4 1145.12,398.5 1145.32,399.1 1145.51,400.5 1145.70,402.7 1145.89,405.6 1146.09,409.1 1146.28,413.3 1146.47,418 1146.66,423.1 1146.85,428.6 1147.05,434.3 1147.24,440.2 1147.43,446 1147.62,451.8 1147.82,457.5 1148.01,462.8 1148.20,467.7 1148.39,472.2 1148.59,476.1 1148.78,479.3 1148.97,481.9 1149.16,483.7 1149.35,484.8 1149.51,485 1149.55,485 1149.74,484.6 1149.93,483.5 1150.12,481.9 1150.32,479.7 1150.51,476.9 1150.70,473.6 1150.89,469.9 1151.09,465.8 1151.28,461.3 1151.47,456.7 1151.66,451.8 1151.85,446.8 1152.05,441.7 1152.24,436.7 1152.43,431.9 1152.62,427.2 1152.82,422.8 1153.01,418.7 1153.20,415 1153.39,411.8 1153.59,409.1 1153.78,406.9 1153.97,405.3 1154.16,404.3 1154.35,403.9 1154.37,403.9 1154.55,404.2 1154.74,405.2 1154.93,406.9 1155.12,409.2 1155.32,412.2 1155.51,415.8 1155.70,419.8 1155.89,424.3 1156.09,429.1 1156.28,434.1 1156.47,439.3 1156.66,444.6 1156.85,449.8 1157.05,455 1157.24,459.8 1157.43,464.4 1157.62,468.6 1157.82,472.3 1158.01,475.4 1158.20,478 1158.39,479.9 1158.59,481.1 1158.78,481.6 1158.82,481.6 1158.97,481.3 1159.16,480.4 1159.35,478.8 1159.55,476.5 1159.74,473.6 1159.93,470.1 1160.12,466.1 1160.32,461.7 1160.51,456.9 1160.70,451.9 1160.89,446.7 1161.09,441.4 1161.28,436.1 1161.47,431 1161.66,426.1 1161.85,421.5 1162.05,417.3 1162.24,413.5 1162.43,410.3 1162.62,407.7 1162.82,405.8 1163.01,404.5 1163.20,403.9 1163.26,403.9 1163.39,404.1 1163.59,405.2 1163.78,407.2 1163.97,409.9 1164.16,413.4 1164.35,417.6 1164.55,422.4 1164.74,427.6 1164.93,433.2 1165.12,439.1 1165.32,445 1165.51,450.9 1165.70,456.6 1165.89,462.1 1166.09,467.1 1166.28,471.6 1166.47,475.4 1166.66,478.5 1166.85,480.8 1167.05,482.3 1167.24,482.9 1167.27,483 1167.43,482.7 1167.62,481.5 1167.82,479.6 1168.01,476.9 1168.20,473.4 1168.39,469.3 1168.59,464.6 1168.78,459.4 1168.97,453.9 1169.16,448.1 1169.35,442.1 1169.55,436.1 1169.74,430.2 1169.93,424.6 1170.12,419.3 1170.32,414.4 1170.51,410.1 1170.70,406.3 1170.89,403.3 1171.09,401.1 1171.28,399.7 1171.47,399.1 1171.50,399.1 1171.66,399.9 1171.85,403.2 1172.05,408.7 1172.24,416.1 1172.43,425.1 1172.62,435.3 1172.82,446 1173.01,456.8 1173.20,467 1173.39,476.2 1173.59,483.8 1173.78,489.5 1173.97,492.9 1174.15,494 1174.16,493.9 1174.35,492.1 1174.55,487.3 1174.74,479.7 1174.93,469.8 1175.12,458 1175.32,444.9 1175.51,431.3 1175.70,417.9 1175.89,405.3 1176.09,394.2 1176.28,385.1 1176.47,378.7 1176.66,375.1 1176.79,374.4 1176.85,382.7 1177.05,473.8 1177.21,524.2"/>
</g>
<g id="inset-axes" stroke="#000" fill="none" stroke-linecap="round">
<path d="M602,134 V752" stroke-width="4"/>
<path d="M601,752 H1716" stroke-width="3.8"/>
<path d="M600,237 H584.3 M600,443.3 H584.3 M600,648.7 H584.3 M600,133.8 H593.3 M600,340.1 H593.3 M600,546 H593.3 M600,752 H593.3 M788,753 V763.5 M1159.3,753 V763.5 M1530.2,753 V763.5 M602,753 V758 M974.2,753 V758 M1345,753 V758 M1716,753 V758" stroke-width="3.5"/>
</g>
<g id="legend-main">
<rect x="1594.8" y="101.6" width="556.7" height="138" fill="#fff" stroke="#000" stroke-width="3"/>
<rect x="1667" y="130.8" width="19" height="16" fill="#ff8000" shape-rendering="crispEdges"/>
<path d="M1605,203.5 H1749.2" stroke="#000" stroke-width="7.4" stroke-linecap="round"/>
<text x="1811.9 1858.7 1914.2 1950.7 1969.6 1991.1 2029.3 2066.2" y="157" font-family="'Liberation Sans', sans-serif" font-size="56.7" transform="scale(0.975,1)">Rmnt(up)</text>
<text x="1811.9 1852.7 1865.7 1885 1921.5 1969.6 2023.9 2060.8 2079.9 2101.8 2140.4 2176.5" y="222.1" font-family="'Liberation Sans', sans-serif" font-size="56.7" transform="scale(0.975,1)">Fit_Rmnt(up)</text>
</g>
<g id="legend-inset" stroke-width="0.15">
<rect x="651" y="56" width="472.7" height="98" fill="#fff" stroke="#000" stroke-width="2"/>
<path transform="translate(719.5,82.4)" d="M-0.8,-6.1H0.8L1.6,-4.3H6.4L8.6,-0.4V0.8H5L0.7,6.4H-0.7L-5,0.8H-8.6V-0.4L-6.4,-4.3H-1.6Z" fill="#00ff00"/>
<path d="M658.1,129.1 H781" stroke="#000" stroke-width="4" stroke-linecap="round"/>
<text x="837.9 880.6 929 959.6 976.5 996 1028.9 1063.2" y="95.9" font-family="'Liberation Sans', sans-serif" font-size="39" transform="scale(0.95,1)" stroke="#fff">Rmnt(dn)</text>
<text x="837.9 874.3 885.8 901.6 934.7 977.4 1025.6 1056.5 1072 1092.9 1125.8 1158.9" y="141.9" font-family="'Liberation Sans', sans-serif" font-size="39" transform="scale(0.95,1)" stroke="#fff">Fit_Rmnt(dn)</text>
</g>
<g id="main-ticklabels">
<text x="163.3 196.4 217 250 285.3" y="70.8" font-family="'Liberation Sans', sans-serif" font-size="51" transform="scale(0.95,1)">0.020</text>
<text x="163.3 196.4 217 253.6 285.2" y="309" font-family="'Liberation Sans', sans-serif" font-size="51" transform="scale(0.95,1)">0.015</text>
<path d="M243.80,304.47h9.29v5.21h-9.29zM257.37,304.47h8.91v5.21h-8.91z" fill="#fff"/>
<text x="163.3 196.4 217 253.6 285.3" y="547.2" font-family="'Liberation Sans', sans-serif" font-size="51" transform="scale(0.95,1)">0.010</text>
<path d="M243.80,542.65h9.29v5.21h-9.29zM257.37,542.65h8.91v5.21h-8.91z" fill="#fff"/>
<text x="163.3 196.4 217 250.2 285.2" y="785.3" font-family="'Liberation Sans', sans-serif" font-size="51" transform="scale(0.95,1)">0.005</text>
<text x="163.3 196.4 217 250.2 285.3" y="1023.5" font-family="'Liberation Sans', sans-serif" font-size="51" transform="scale(0.95,1)">0.000</text>
<text x="141.9 163.3 194.3 212.7 244.7 276.3" y="1261.9" font-family="'Liberation Sans', sans-serif" font-size="51" transform="scale(0.95,1)">-0.005</text>
<text x="344.6 377.3 397.3" y="1336.7" font-family="'Liberation Sans', sans-serif" font-size="51" transform="scale(0.95,1)">0.0</text>
<text x="1289.4 1322.6 1342.8" y="1336.7" font-family="'Liberation Sans', sans-serif" font-size="51" transform="scale(0.95,1)">0.5</text>
<text x="2238.9 2270.2 2289.8" y="1336.7" font-family="'Liberation Sans', sans-serif" font-size="51" transform="scale(0.95,1)">1.0</text>
<path d="M2129.80,1332.19h9.29v5.21h-9.29zM2143.37,1332.19h8.91v5.21h-8.91z" fill="#fff"/>
</g>
<g id="inset-ticklabels" stroke="#fff" stroke-width="0.35">
<text x="502 524.8 539.9 562 585.2" y="244.7" font-family="'Liberation Sans', sans-serif" font-size="26.8" transform="scale(0.95,1)">0.005</text>
<text x="502 524.8 539.9 562 585.3" y="450.7" font-family="'Liberation Sans', sans-serif" font-size="26.8" transform="scale(0.95,1)">0.000</text>
<text x="489.2 506.3 524.8 536.8 564.1 590.4" y="656.6" font-family="'Liberation Sans', sans-serif" font-size="26.8" transform="scale(0.95,1)">-0.005</text>
<text x="802.1 822.6 838" y="792.7" font-family="'Liberation Sans', sans-serif" font-size="26.8" transform="scale(0.95,1)">0.0</text>
<text x="1192.6 1213.1 1228.4" y="792.7" font-family="'Liberation Sans', sans-serif" font-size="26.8" transform="scale(0.95,1)">0.5</text>
<text x="1583.6 1604.7 1619" y="792.7" font-family="'Liberation Sans', sans-serif" font-size="26.8" transform="scale(0.95,1)">1.0</text>
<path d="M1505.60,790.00h5.26v3.40h-5.26zM1513.11,790.00h5.06v3.40h-5.06z" fill="#fff"/>
</g>
<g id="titles">
<text x="1094.1 1132.6 1159.9 1203.3 1233.2 1288.8 1318.9 1362.3 1391.2" y="1442.6" font-family="'Liberation Serif', serif" font-size="77">0 &lt; X &lt; 1</text>
<text x="1070.5 1089.1 1110.1 1129.7 1148.9 1171.3 1194 1221.8" y="841.9" font-family="'Liberation Sans', sans-serif" font-size="33.5" stroke="#fff" stroke-width="0.3">0 &lt; X &lt;1</text>
<path d="M1223.60,838.70h6.67v3.90h-6.67zM1233.23,838.70h6.41v3.90h-6.41z" fill="#fff"/>
<text x="-1244.2 -1208 -1178.5 -1152.1 -1138.2 -1118.3 -1091.8 -1045.3 -1015.5 -989 -959.1 -942.7 -927.8 -907.9 -878.1 -848.2 -821.7 -805.1 -788.5 -758.7 -729 -717.5 -677.4 -630.7 -600.6 -583.9 -563.9 -533.9 -503.8 -484.1 -470.3 -443.3 -412.9 -383.3 -369.1 -353 -336.9 -313.9 -298.8 -273.7 -243.9 -217.5 -197.7 -177.9 -151.4 -125 -106.1 -81.9 -65.7 -45.8 -29.2" y="74.9" font-family="'Liberation Serif', serif" font-size="59.3" transform="rotate(-90)">The remnant function Rmnt(up) and its "perfecr" fit</text>
<text x="-753.4 -728 -706.4 -688.8 -673.4 -660.9 -639 -605.2 -583.8 -561.8 -540.5 -531.7 -515.9 -506.2 -484.6 -462.2 -442.5 -432 -423 -399.9 -382.3 -367.7 -339.2 -306.6 -294.6 -282.7 -260.8 -237.3 -226.7 -214.7 -191.8 -170.5 -152.9 -137.2 -128.2 -117.3 -101.4 -86 -75.3 -67.3" y="445" font-family="'Liberation Sans', sans-serif" font-size="31.7" transform="rotate(-90) scale(0.97,1)">The remnant function Rmt(dn) and its fit</text>
</g>
</svg></body></html>
